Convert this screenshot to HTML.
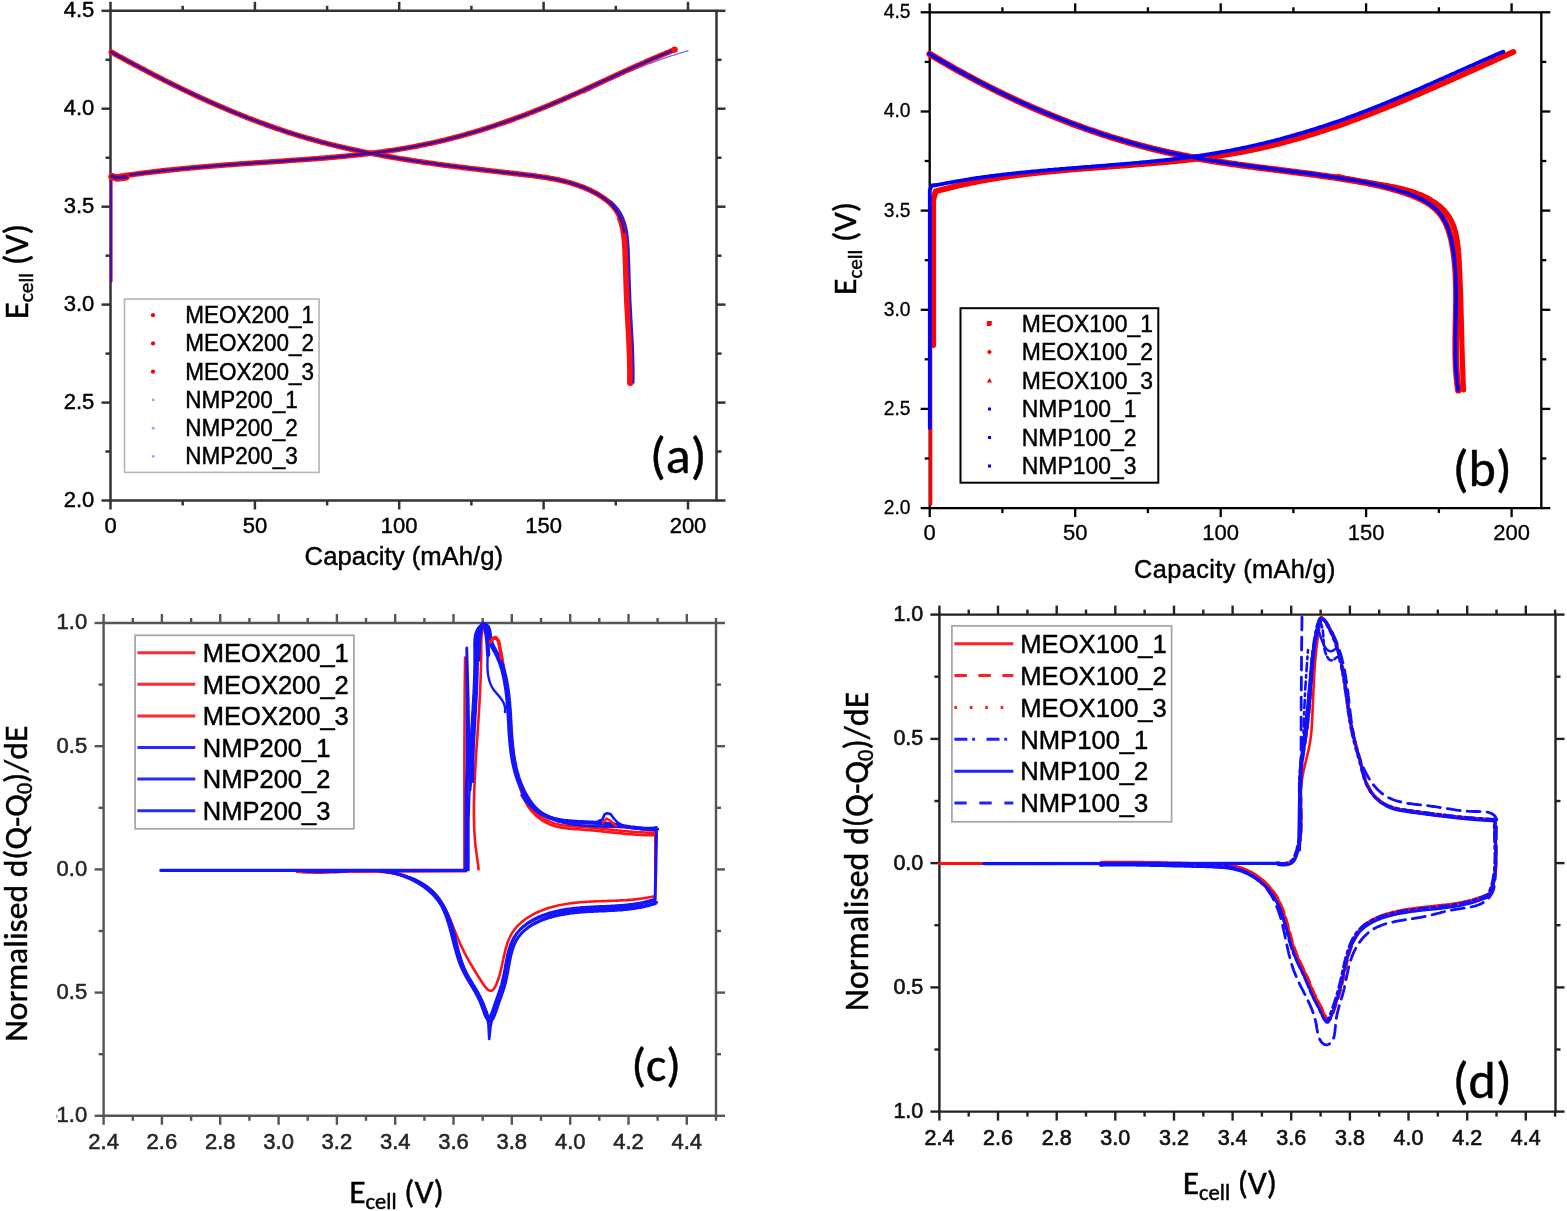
<!DOCTYPE html>
<html><head><meta charset="utf-8"><title>Figure</title>
<style>html,body{margin:0;padding:0;background:#fff;width:1567px;height:1211px;overflow:hidden}svg{display:block}</style>
</head><body>
<svg width="1567" height="1211" viewBox="0 0 1567 1211">
<path d="M110.5 10.8H716.5V500.5H110.5Z" fill="none" stroke="#333" stroke-width="2.5" stroke-linejoin="miter"/>
<line x1="110.5" y1="500.5" x2="110.5" y2="509.5" stroke="#333" stroke-width="2.5" stroke-linecap="butt"/>
<line x1="110.5" y1="10.8" x2="110.5" y2="1.8" stroke="#333" stroke-width="2.5" stroke-linecap="butt"/>
<line x1="254.9" y1="500.5" x2="254.9" y2="509.5" stroke="#333" stroke-width="2.5" stroke-linecap="butt"/>
<line x1="254.9" y1="10.8" x2="254.9" y2="1.8" stroke="#333" stroke-width="2.5" stroke-linecap="butt"/>
<line x1="399.2" y1="500.5" x2="399.2" y2="509.5" stroke="#333" stroke-width="2.5" stroke-linecap="butt"/>
<line x1="399.2" y1="10.8" x2="399.2" y2="1.8" stroke="#333" stroke-width="2.5" stroke-linecap="butt"/>
<line x1="543.6" y1="500.5" x2="543.6" y2="509.5" stroke="#333" stroke-width="2.5" stroke-linecap="butt"/>
<line x1="543.6" y1="10.8" x2="543.6" y2="1.8" stroke="#333" stroke-width="2.5" stroke-linecap="butt"/>
<line x1="688" y1="500.5" x2="688" y2="509.5" stroke="#333" stroke-width="2.5" stroke-linecap="butt"/>
<line x1="688" y1="10.8" x2="688" y2="1.8" stroke="#333" stroke-width="2.5" stroke-linecap="butt"/>
<line x1="182.7" y1="500.5" x2="182.7" y2="505.5" stroke="#333" stroke-width="2.5" stroke-linecap="butt"/>
<line x1="182.7" y1="10.8" x2="182.7" y2="5.8" stroke="#333" stroke-width="2.5" stroke-linecap="butt"/>
<line x1="327.1" y1="500.5" x2="327.1" y2="505.5" stroke="#333" stroke-width="2.5" stroke-linecap="butt"/>
<line x1="327.1" y1="10.8" x2="327.1" y2="5.8" stroke="#333" stroke-width="2.5" stroke-linecap="butt"/>
<line x1="471.4" y1="500.5" x2="471.4" y2="505.5" stroke="#333" stroke-width="2.5" stroke-linecap="butt"/>
<line x1="471.4" y1="10.8" x2="471.4" y2="5.8" stroke="#333" stroke-width="2.5" stroke-linecap="butt"/>
<line x1="615.8" y1="500.5" x2="615.8" y2="505.5" stroke="#333" stroke-width="2.5" stroke-linecap="butt"/>
<line x1="615.8" y1="10.8" x2="615.8" y2="5.8" stroke="#333" stroke-width="2.5" stroke-linecap="butt"/>
<line x1="110.5" y1="500.5" x2="101.5" y2="500.5" stroke="#333" stroke-width="2.5" stroke-linecap="butt"/>
<line x1="716.5" y1="500.5" x2="725.5" y2="500.5" stroke="#333" stroke-width="2.5" stroke-linecap="butt"/>
<line x1="110.5" y1="402.6" x2="101.5" y2="402.6" stroke="#333" stroke-width="2.5" stroke-linecap="butt"/>
<line x1="716.5" y1="402.6" x2="725.5" y2="402.6" stroke="#333" stroke-width="2.5" stroke-linecap="butt"/>
<line x1="110.5" y1="304.6" x2="101.5" y2="304.6" stroke="#333" stroke-width="2.5" stroke-linecap="butt"/>
<line x1="716.5" y1="304.6" x2="725.5" y2="304.6" stroke="#333" stroke-width="2.5" stroke-linecap="butt"/>
<line x1="110.5" y1="206.7" x2="101.5" y2="206.7" stroke="#333" stroke-width="2.5" stroke-linecap="butt"/>
<line x1="716.5" y1="206.7" x2="725.5" y2="206.7" stroke="#333" stroke-width="2.5" stroke-linecap="butt"/>
<line x1="110.5" y1="108.7" x2="101.5" y2="108.7" stroke="#333" stroke-width="2.5" stroke-linecap="butt"/>
<line x1="716.5" y1="108.7" x2="725.5" y2="108.7" stroke="#333" stroke-width="2.5" stroke-linecap="butt"/>
<line x1="110.5" y1="10.8" x2="101.5" y2="10.8" stroke="#333" stroke-width="2.5" stroke-linecap="butt"/>
<line x1="716.5" y1="10.8" x2="725.5" y2="10.8" stroke="#333" stroke-width="2.5" stroke-linecap="butt"/>
<line x1="110.5" y1="451.5" x2="105.5" y2="451.5" stroke="#333" stroke-width="2.5" stroke-linecap="butt"/>
<line x1="716.5" y1="451.5" x2="721.5" y2="451.5" stroke="#333" stroke-width="2.5" stroke-linecap="butt"/>
<line x1="110.5" y1="353.6" x2="105.5" y2="353.6" stroke="#333" stroke-width="2.5" stroke-linecap="butt"/>
<line x1="716.5" y1="353.6" x2="721.5" y2="353.6" stroke="#333" stroke-width="2.5" stroke-linecap="butt"/>
<line x1="110.5" y1="255.7" x2="105.5" y2="255.7" stroke="#333" stroke-width="2.5" stroke-linecap="butt"/>
<line x1="716.5" y1="255.7" x2="721.5" y2="255.7" stroke="#333" stroke-width="2.5" stroke-linecap="butt"/>
<line x1="110.5" y1="157.7" x2="105.5" y2="157.7" stroke="#333" stroke-width="2.5" stroke-linecap="butt"/>
<line x1="716.5" y1="157.7" x2="721.5" y2="157.7" stroke="#333" stroke-width="2.5" stroke-linecap="butt"/>
<line x1="110.5" y1="59.8" x2="105.5" y2="59.8" stroke="#333" stroke-width="2.5" stroke-linecap="butt"/>
<line x1="716.5" y1="59.8" x2="721.5" y2="59.8" stroke="#333" stroke-width="2.5" stroke-linecap="butt"/>
<text x="94.3" y="507.1" font-size="22" text-anchor="end" font-family='"Liberation Sans", Arial, sans-serif' fill="#000"  stroke="#000" stroke-width="0.45">2.0</text>
<text x="94.3" y="409.2" font-size="22" text-anchor="end" font-family='"Liberation Sans", Arial, sans-serif' fill="#000"  stroke="#000" stroke-width="0.45">2.5</text>
<text x="94.3" y="311.2" font-size="22" text-anchor="end" font-family='"Liberation Sans", Arial, sans-serif' fill="#000"  stroke="#000" stroke-width="0.45">3.0</text>
<text x="94.3" y="213.3" font-size="22" text-anchor="end" font-family='"Liberation Sans", Arial, sans-serif' fill="#000"  stroke="#000" stroke-width="0.45">3.5</text>
<text x="94.3" y="115.3" font-size="22" text-anchor="end" font-family='"Liberation Sans", Arial, sans-serif' fill="#000"  stroke="#000" stroke-width="0.45">4.0</text>
<text x="94.3" y="17.4" font-size="22" text-anchor="end" font-family='"Liberation Sans", Arial, sans-serif' fill="#000"  stroke="#000" stroke-width="0.45">4.5</text>
<text x="110.5" y="533" font-size="22" text-anchor="middle" font-family='"Liberation Sans", Arial, sans-serif' fill="#000"  stroke="#000" stroke-width="0.45">0</text>
<text x="254.9" y="533" font-size="22" text-anchor="middle" font-family='"Liberation Sans", Arial, sans-serif' fill="#000"  stroke="#000" stroke-width="0.45">50</text>
<text x="399.2" y="533" font-size="22" text-anchor="middle" font-family='"Liberation Sans", Arial, sans-serif' fill="#000"  stroke="#000" stroke-width="0.45">100</text>
<text x="543.6" y="533" font-size="22" text-anchor="middle" font-family='"Liberation Sans", Arial, sans-serif' fill="#000"  stroke="#000" stroke-width="0.45">150</text>
<text x="688" y="533" font-size="22" text-anchor="middle" font-family='"Liberation Sans", Arial, sans-serif' fill="#000"  stroke="#000" stroke-width="0.45">200</text>
<text x="403.8" y="564.6" font-size="25.7" text-anchor="middle" font-family='"Liberation Sans", Arial, sans-serif' fill="#000"  stroke="#000" stroke-width="0.45">Capacity (mAh/g)</text>
<text x="0" y="0" font-size="33.8" text-anchor="start" font-family='Carlito, Calibri, "Liberation Sans", sans-serif' fill="#000" transform="translate(27.8 319.2) rotate(-90)" textLength="95.3" lengthAdjust="spacingAndGlyphs" stroke="#000" stroke-width="0.45">E<tspan font-size="20.6" dy="5.4">cell</tspan><tspan dy="-5.4"> (V)</tspan></text>
<rect x="124.5" y="299.1" width="194.6" height="173.3" fill="#fff" stroke="#b4b4b4" stroke-width="1.6"/>
<text x="185.3" y="323" font-size="23.6" text-anchor="start" font-family='"Liberation Sans", Arial, sans-serif' fill="#000" textLength="128.8" lengthAdjust="spacingAndGlyphs" stroke="#000" stroke-width="0.45">MEOX200_1</text>
<circle cx="153" cy="315.2" r="2.1" fill="#ff0000"/>
<text x="185.3" y="351.2" font-size="23.6" text-anchor="start" font-family='"Liberation Sans", Arial, sans-serif' fill="#000" textLength="128.8" lengthAdjust="spacingAndGlyphs" stroke="#000" stroke-width="0.45">MEOX200_2</text>
<circle cx="153" cy="343.4" r="2.1" fill="#ff0000"/>
<text x="185.3" y="379.5" font-size="23.6" text-anchor="start" font-family='"Liberation Sans", Arial, sans-serif' fill="#000" textLength="128.8" lengthAdjust="spacingAndGlyphs" stroke="#000" stroke-width="0.45">MEOX200_3</text>
<circle cx="153" cy="371.7" r="2.1" fill="#ff0000"/>
<text x="185.3" y="407.7" font-size="23.6" text-anchor="start" font-family='"Liberation Sans", Arial, sans-serif' fill="#000" textLength="112.5" lengthAdjust="spacingAndGlyphs" stroke="#000" stroke-width="0.45">NMP200_1</text>
<circle cx="153.2" cy="399.9" r="1.4" fill="#9a9aff"/>
<text x="185.3" y="436" font-size="23.6" text-anchor="start" font-family='"Liberation Sans", Arial, sans-serif' fill="#000" textLength="112.5" lengthAdjust="spacingAndGlyphs" stroke="#000" stroke-width="0.45">NMP200_2</text>
<circle cx="153.2" cy="428.2" r="1.4" fill="#9a9aff"/>
<text x="185.3" y="464.2" font-size="23.6" text-anchor="start" font-family='"Liberation Sans", Arial, sans-serif' fill="#000" textLength="112.5" lengthAdjust="spacingAndGlyphs" stroke="#000" stroke-width="0.45">NMP200_3</text>
<circle cx="153.2" cy="456.4" r="1.4" fill="#9a9aff"/>
<text x="650" y="472.6" font-size="52" text-anchor="start" font-family='Carlito, Calibri, "Liberation Sans", sans-serif' fill="#000" textLength="56.45" lengthAdjust="spacingAndGlyphs" stroke="#000" stroke-width="0.45">(a)</text>
<path d="M929.7 12.3H1541.3V508.1H929.7Z" fill="none" stroke="#000" stroke-width="2.3" stroke-linejoin="miter"/>
<line x1="929.7" y1="508.1" x2="929.7" y2="517.1" stroke="#000" stroke-width="2.3" stroke-linecap="butt"/>
<line x1="929.7" y1="12.3" x2="929.7" y2="3.3" stroke="#000" stroke-width="2.3" stroke-linecap="butt"/>
<line x1="1075.2" y1="508.1" x2="1075.2" y2="517.1" stroke="#000" stroke-width="2.3" stroke-linecap="butt"/>
<line x1="1075.2" y1="12.3" x2="1075.2" y2="3.3" stroke="#000" stroke-width="2.3" stroke-linecap="butt"/>
<line x1="1220.7" y1="508.1" x2="1220.7" y2="517.1" stroke="#000" stroke-width="2.3" stroke-linecap="butt"/>
<line x1="1220.7" y1="12.3" x2="1220.7" y2="3.3" stroke="#000" stroke-width="2.3" stroke-linecap="butt"/>
<line x1="1366.1" y1="508.1" x2="1366.1" y2="517.1" stroke="#000" stroke-width="2.3" stroke-linecap="butt"/>
<line x1="1366.1" y1="12.3" x2="1366.1" y2="3.3" stroke="#000" stroke-width="2.3" stroke-linecap="butt"/>
<line x1="1511.6" y1="508.1" x2="1511.6" y2="517.1" stroke="#000" stroke-width="2.3" stroke-linecap="butt"/>
<line x1="1511.6" y1="12.3" x2="1511.6" y2="3.3" stroke="#000" stroke-width="2.3" stroke-linecap="butt"/>
<line x1="1002.4" y1="508.1" x2="1002.4" y2="513.1" stroke="#000" stroke-width="2.3" stroke-linecap="butt"/>
<line x1="1002.4" y1="12.3" x2="1002.4" y2="7.3" stroke="#000" stroke-width="2.3" stroke-linecap="butt"/>
<line x1="1147.9" y1="508.1" x2="1147.9" y2="513.1" stroke="#000" stroke-width="2.3" stroke-linecap="butt"/>
<line x1="1147.9" y1="12.3" x2="1147.9" y2="7.3" stroke="#000" stroke-width="2.3" stroke-linecap="butt"/>
<line x1="1293.4" y1="508.1" x2="1293.4" y2="513.1" stroke="#000" stroke-width="2.3" stroke-linecap="butt"/>
<line x1="1293.4" y1="12.3" x2="1293.4" y2="7.3" stroke="#000" stroke-width="2.3" stroke-linecap="butt"/>
<line x1="1438.9" y1="508.1" x2="1438.9" y2="513.1" stroke="#000" stroke-width="2.3" stroke-linecap="butt"/>
<line x1="1438.9" y1="12.3" x2="1438.9" y2="7.3" stroke="#000" stroke-width="2.3" stroke-linecap="butt"/>
<line x1="929.7" y1="508.1" x2="920.7" y2="508.1" stroke="#000" stroke-width="2.3" stroke-linecap="butt"/>
<line x1="1541.3" y1="508.1" x2="1550.3" y2="508.1" stroke="#000" stroke-width="2.3" stroke-linecap="butt"/>
<line x1="929.7" y1="408.9" x2="920.7" y2="408.9" stroke="#000" stroke-width="2.3" stroke-linecap="butt"/>
<line x1="1541.3" y1="408.9" x2="1550.3" y2="408.9" stroke="#000" stroke-width="2.3" stroke-linecap="butt"/>
<line x1="929.7" y1="309.8" x2="920.7" y2="309.8" stroke="#000" stroke-width="2.3" stroke-linecap="butt"/>
<line x1="1541.3" y1="309.8" x2="1550.3" y2="309.8" stroke="#000" stroke-width="2.3" stroke-linecap="butt"/>
<line x1="929.7" y1="210.6" x2="920.7" y2="210.6" stroke="#000" stroke-width="2.3" stroke-linecap="butt"/>
<line x1="1541.3" y1="210.6" x2="1550.3" y2="210.6" stroke="#000" stroke-width="2.3" stroke-linecap="butt"/>
<line x1="929.7" y1="111.5" x2="920.7" y2="111.5" stroke="#000" stroke-width="2.3" stroke-linecap="butt"/>
<line x1="1541.3" y1="111.5" x2="1550.3" y2="111.5" stroke="#000" stroke-width="2.3" stroke-linecap="butt"/>
<line x1="929.7" y1="12.3" x2="920.7" y2="12.3" stroke="#000" stroke-width="2.3" stroke-linecap="butt"/>
<line x1="1541.3" y1="12.3" x2="1550.3" y2="12.3" stroke="#000" stroke-width="2.3" stroke-linecap="butt"/>
<line x1="929.7" y1="458.5" x2="924.7" y2="458.5" stroke="#000" stroke-width="2.3" stroke-linecap="butt"/>
<line x1="1541.3" y1="458.5" x2="1546.3" y2="458.5" stroke="#000" stroke-width="2.3" stroke-linecap="butt"/>
<line x1="929.7" y1="359.3" x2="924.7" y2="359.3" stroke="#000" stroke-width="2.3" stroke-linecap="butt"/>
<line x1="1541.3" y1="359.3" x2="1546.3" y2="359.3" stroke="#000" stroke-width="2.3" stroke-linecap="butt"/>
<line x1="929.7" y1="260.2" x2="924.7" y2="260.2" stroke="#000" stroke-width="2.3" stroke-linecap="butt"/>
<line x1="1541.3" y1="260.2" x2="1546.3" y2="260.2" stroke="#000" stroke-width="2.3" stroke-linecap="butt"/>
<line x1="929.7" y1="161" x2="924.7" y2="161" stroke="#000" stroke-width="2.3" stroke-linecap="butt"/>
<line x1="1541.3" y1="161" x2="1546.3" y2="161" stroke="#000" stroke-width="2.3" stroke-linecap="butt"/>
<line x1="929.7" y1="61.9" x2="924.7" y2="61.9" stroke="#000" stroke-width="2.3" stroke-linecap="butt"/>
<line x1="1541.3" y1="61.9" x2="1546.3" y2="61.9" stroke="#000" stroke-width="2.3" stroke-linecap="butt"/>
<text x="910.6" y="514" font-size="21" text-anchor="end" font-family='"Liberation Sans", Arial, sans-serif' fill="#000" textLength="26.8" lengthAdjust="spacingAndGlyphs" stroke="#000" stroke-width="0.3">2.0</text>
<text x="910.6" y="414.8" font-size="21" text-anchor="end" font-family='"Liberation Sans", Arial, sans-serif' fill="#000" textLength="26.8" lengthAdjust="spacingAndGlyphs" stroke="#000" stroke-width="0.3">2.5</text>
<text x="910.6" y="315.7" font-size="21" text-anchor="end" font-family='"Liberation Sans", Arial, sans-serif' fill="#000" textLength="26.8" lengthAdjust="spacingAndGlyphs" stroke="#000" stroke-width="0.3">3.0</text>
<text x="910.6" y="216.5" font-size="21" text-anchor="end" font-family='"Liberation Sans", Arial, sans-serif' fill="#000" textLength="26.8" lengthAdjust="spacingAndGlyphs" stroke="#000" stroke-width="0.3">3.5</text>
<text x="910.6" y="117.4" font-size="21" text-anchor="end" font-family='"Liberation Sans", Arial, sans-serif' fill="#000" textLength="26.8" lengthAdjust="spacingAndGlyphs" stroke="#000" stroke-width="0.3">4.0</text>
<text x="910.6" y="18.2" font-size="21" text-anchor="end" font-family='"Liberation Sans", Arial, sans-serif' fill="#000" textLength="26.8" lengthAdjust="spacingAndGlyphs" stroke="#000" stroke-width="0.3">4.5</text>
<text x="929.7" y="540" font-size="22" text-anchor="middle" font-family='"Liberation Sans", Arial, sans-serif' fill="#000"  stroke="#000" stroke-width="0.3">0</text>
<text x="1075.2" y="540" font-size="22" text-anchor="middle" font-family='"Liberation Sans", Arial, sans-serif' fill="#000"  stroke="#000" stroke-width="0.3">50</text>
<text x="1220.7" y="540" font-size="22" text-anchor="middle" font-family='"Liberation Sans", Arial, sans-serif' fill="#000"  stroke="#000" stroke-width="0.3">100</text>
<text x="1366.1" y="540" font-size="22" text-anchor="middle" font-family='"Liberation Sans", Arial, sans-serif' fill="#000"  stroke="#000" stroke-width="0.3">150</text>
<text x="1511.6" y="540" font-size="22" text-anchor="middle" font-family='"Liberation Sans", Arial, sans-serif' fill="#000"  stroke="#000" stroke-width="0.3">200</text>
<text x="1235" y="578" font-size="25.3" text-anchor="middle" font-family='"Liberation Sans", Arial, sans-serif' fill="#000" letter-spacing="0.4" stroke="#000" stroke-width="0.45">Capacity (mAh/g)</text>
<text x="0" y="0" font-size="33" text-anchor="start" font-family='Carlito, Calibri, "Liberation Sans", sans-serif' fill="#000" transform="translate(856.4 295.2) rotate(-90)" textLength="93.2" lengthAdjust="spacingAndGlyphs" stroke="#000" stroke-width="0.45">E<tspan font-size="20.4" dy="5.4">cell</tspan><tspan dy="-5.4"> (V)</tspan></text>
<rect x="960.5" y="308.2" width="197.8" height="174.5" fill="#fff" stroke="#000" stroke-width="2"/>
<text x="1021.8" y="331.9" font-size="24" text-anchor="start" font-family='"Liberation Sans", Arial, sans-serif' fill="#000" textLength="131.2" lengthAdjust="spacingAndGlyphs" stroke="#000" stroke-width="0.45">MEOX100_1</text>
<path d="M986.8 321h5v3.2l-1.2 1.8h-3.8z" fill="#ff0000"/>
<text x="1021.8" y="360.4" font-size="24" text-anchor="start" font-family='"Liberation Sans", Arial, sans-serif' fill="#000" textLength="131.2" lengthAdjust="spacingAndGlyphs" stroke="#000" stroke-width="0.45">MEOX100_2</text>
<path d="M989.4 349.4l2.6 2.6l-2.6 2.6l-2.6 -2.6z" fill="#ff0000"/>
<text x="1021.8" y="388.9" font-size="24" text-anchor="start" font-family='"Liberation Sans", Arial, sans-serif' fill="#000" textLength="131.2" lengthAdjust="spacingAndGlyphs" stroke="#000" stroke-width="0.45">MEOX100_3</text>
<path d="M989.4 377.9l2.6 4.6h-5.2z" fill="#ff0000"/>
<text x="1021.8" y="417.4" font-size="24" text-anchor="start" font-family='"Liberation Sans", Arial, sans-serif' fill="#000" textLength="114.6" lengthAdjust="spacingAndGlyphs" stroke="#000" stroke-width="0.45">NMP100_1</text>
<rect x="988" y="407.5" width="3" height="3" fill="#0000ff"/>
<text x="1021.8" y="445.9" font-size="24" text-anchor="start" font-family='"Liberation Sans", Arial, sans-serif' fill="#000" textLength="114.6" lengthAdjust="spacingAndGlyphs" stroke="#000" stroke-width="0.45">NMP100_2</text>
<rect x="988" y="436" width="3" height="3" fill="#0000ff"/>
<text x="1021.8" y="474.4" font-size="24" text-anchor="start" font-family='"Liberation Sans", Arial, sans-serif' fill="#000" textLength="114.6" lengthAdjust="spacingAndGlyphs" stroke="#000" stroke-width="0.45">NMP100_3</text>
<rect x="988" y="464.5" width="3" height="3" fill="#0000ff"/>
<text x="1452.8" y="486.2" font-size="52" text-anchor="start" font-family='Carlito, Calibri, "Liberation Sans", sans-serif' fill="#000" textLength="58.86" lengthAdjust="spacingAndGlyphs" stroke="#000" stroke-width="0.45">(b)</text>
<path d="M103.6 623H716V1115.8H103.6Z" fill="none" stroke="#555" stroke-width="2.4" stroke-linejoin="miter"/>
<line x1="103.6" y1="1115.8" x2="103.6" y2="1124.8" stroke="#555" stroke-width="2.4" stroke-linecap="butt"/>
<line x1="103.6" y1="623" x2="103.6" y2="614" stroke="#555" stroke-width="2.4" stroke-linecap="butt"/>
<line x1="161.9" y1="1115.8" x2="161.9" y2="1124.8" stroke="#555" stroke-width="2.4" stroke-linecap="butt"/>
<line x1="161.9" y1="623" x2="161.9" y2="614" stroke="#555" stroke-width="2.4" stroke-linecap="butt"/>
<line x1="220.2" y1="1115.8" x2="220.2" y2="1124.8" stroke="#555" stroke-width="2.4" stroke-linecap="butt"/>
<line x1="220.2" y1="623" x2="220.2" y2="614" stroke="#555" stroke-width="2.4" stroke-linecap="butt"/>
<line x1="278.6" y1="1115.8" x2="278.6" y2="1124.8" stroke="#555" stroke-width="2.4" stroke-linecap="butt"/>
<line x1="278.6" y1="623" x2="278.6" y2="614" stroke="#555" stroke-width="2.4" stroke-linecap="butt"/>
<line x1="336.9" y1="1115.8" x2="336.9" y2="1124.8" stroke="#555" stroke-width="2.4" stroke-linecap="butt"/>
<line x1="336.9" y1="623" x2="336.9" y2="614" stroke="#555" stroke-width="2.4" stroke-linecap="butt"/>
<line x1="395.2" y1="1115.8" x2="395.2" y2="1124.8" stroke="#555" stroke-width="2.4" stroke-linecap="butt"/>
<line x1="395.2" y1="623" x2="395.2" y2="614" stroke="#555" stroke-width="2.4" stroke-linecap="butt"/>
<line x1="453.5" y1="1115.8" x2="453.5" y2="1124.8" stroke="#555" stroke-width="2.4" stroke-linecap="butt"/>
<line x1="453.5" y1="623" x2="453.5" y2="614" stroke="#555" stroke-width="2.4" stroke-linecap="butt"/>
<line x1="511.8" y1="1115.8" x2="511.8" y2="1124.8" stroke="#555" stroke-width="2.4" stroke-linecap="butt"/>
<line x1="511.8" y1="623" x2="511.8" y2="614" stroke="#555" stroke-width="2.4" stroke-linecap="butt"/>
<line x1="570.2" y1="1115.8" x2="570.2" y2="1124.8" stroke="#555" stroke-width="2.4" stroke-linecap="butt"/>
<line x1="570.2" y1="623" x2="570.2" y2="614" stroke="#555" stroke-width="2.4" stroke-linecap="butt"/>
<line x1="628.5" y1="1115.8" x2="628.5" y2="1124.8" stroke="#555" stroke-width="2.4" stroke-linecap="butt"/>
<line x1="628.5" y1="623" x2="628.5" y2="614" stroke="#555" stroke-width="2.4" stroke-linecap="butt"/>
<line x1="686.8" y1="1115.8" x2="686.8" y2="1124.8" stroke="#555" stroke-width="2.4" stroke-linecap="butt"/>
<line x1="686.8" y1="623" x2="686.8" y2="614" stroke="#555" stroke-width="2.4" stroke-linecap="butt"/>
<line x1="132.8" y1="1115.8" x2="132.8" y2="1120.8" stroke="#555" stroke-width="2.4" stroke-linecap="butt"/>
<line x1="132.8" y1="623" x2="132.8" y2="618" stroke="#555" stroke-width="2.4" stroke-linecap="butt"/>
<line x1="191.1" y1="1115.8" x2="191.1" y2="1120.8" stroke="#555" stroke-width="2.4" stroke-linecap="butt"/>
<line x1="191.1" y1="623" x2="191.1" y2="618" stroke="#555" stroke-width="2.4" stroke-linecap="butt"/>
<line x1="249.4" y1="1115.8" x2="249.4" y2="1120.8" stroke="#555" stroke-width="2.4" stroke-linecap="butt"/>
<line x1="249.4" y1="623" x2="249.4" y2="618" stroke="#555" stroke-width="2.4" stroke-linecap="butt"/>
<line x1="307.7" y1="1115.8" x2="307.7" y2="1120.8" stroke="#555" stroke-width="2.4" stroke-linecap="butt"/>
<line x1="307.7" y1="623" x2="307.7" y2="618" stroke="#555" stroke-width="2.4" stroke-linecap="butt"/>
<line x1="366" y1="1115.8" x2="366" y2="1120.8" stroke="#555" stroke-width="2.4" stroke-linecap="butt"/>
<line x1="366" y1="623" x2="366" y2="618" stroke="#555" stroke-width="2.4" stroke-linecap="butt"/>
<line x1="424.4" y1="1115.8" x2="424.4" y2="1120.8" stroke="#555" stroke-width="2.4" stroke-linecap="butt"/>
<line x1="424.4" y1="623" x2="424.4" y2="618" stroke="#555" stroke-width="2.4" stroke-linecap="butt"/>
<line x1="482.7" y1="1115.8" x2="482.7" y2="1120.8" stroke="#555" stroke-width="2.4" stroke-linecap="butt"/>
<line x1="482.7" y1="623" x2="482.7" y2="618" stroke="#555" stroke-width="2.4" stroke-linecap="butt"/>
<line x1="541" y1="1115.8" x2="541" y2="1120.8" stroke="#555" stroke-width="2.4" stroke-linecap="butt"/>
<line x1="541" y1="623" x2="541" y2="618" stroke="#555" stroke-width="2.4" stroke-linecap="butt"/>
<line x1="599.3" y1="1115.8" x2="599.3" y2="1120.8" stroke="#555" stroke-width="2.4" stroke-linecap="butt"/>
<line x1="599.3" y1="623" x2="599.3" y2="618" stroke="#555" stroke-width="2.4" stroke-linecap="butt"/>
<line x1="657.6" y1="1115.8" x2="657.6" y2="1120.8" stroke="#555" stroke-width="2.4" stroke-linecap="butt"/>
<line x1="657.6" y1="623" x2="657.6" y2="618" stroke="#555" stroke-width="2.4" stroke-linecap="butt"/>
<line x1="716" y1="1115.8" x2="716" y2="1120.8" stroke="#555" stroke-width="2.4" stroke-linecap="butt"/>
<line x1="716" y1="623" x2="716" y2="618" stroke="#555" stroke-width="2.4" stroke-linecap="butt"/>
<line x1="103.6" y1="623" x2="94.6" y2="623" stroke="#555" stroke-width="2.4" stroke-linecap="butt"/>
<line x1="716" y1="623" x2="725" y2="623" stroke="#555" stroke-width="2.4" stroke-linecap="butt"/>
<line x1="103.6" y1="746.2" x2="94.6" y2="746.2" stroke="#555" stroke-width="2.4" stroke-linecap="butt"/>
<line x1="716" y1="746.2" x2="725" y2="746.2" stroke="#555" stroke-width="2.4" stroke-linecap="butt"/>
<line x1="103.6" y1="869.4" x2="94.6" y2="869.4" stroke="#555" stroke-width="2.4" stroke-linecap="butt"/>
<line x1="716" y1="869.4" x2="725" y2="869.4" stroke="#555" stroke-width="2.4" stroke-linecap="butt"/>
<line x1="103.6" y1="992.6" x2="94.6" y2="992.6" stroke="#555" stroke-width="2.4" stroke-linecap="butt"/>
<line x1="716" y1="992.6" x2="725" y2="992.6" stroke="#555" stroke-width="2.4" stroke-linecap="butt"/>
<line x1="103.6" y1="1115.8" x2="94.6" y2="1115.8" stroke="#555" stroke-width="2.4" stroke-linecap="butt"/>
<line x1="716" y1="1115.8" x2="725" y2="1115.8" stroke="#555" stroke-width="2.4" stroke-linecap="butt"/>
<line x1="103.6" y1="684.6" x2="98.6" y2="684.6" stroke="#555" stroke-width="2.4" stroke-linecap="butt"/>
<line x1="716" y1="684.6" x2="721" y2="684.6" stroke="#555" stroke-width="2.4" stroke-linecap="butt"/>
<line x1="103.6" y1="807.8" x2="98.6" y2="807.8" stroke="#555" stroke-width="2.4" stroke-linecap="butt"/>
<line x1="716" y1="807.8" x2="721" y2="807.8" stroke="#555" stroke-width="2.4" stroke-linecap="butt"/>
<line x1="103.6" y1="931" x2="98.6" y2="931" stroke="#555" stroke-width="2.4" stroke-linecap="butt"/>
<line x1="716" y1="931" x2="721" y2="931" stroke="#555" stroke-width="2.4" stroke-linecap="butt"/>
<line x1="103.6" y1="1054.2" x2="98.6" y2="1054.2" stroke="#555" stroke-width="2.4" stroke-linecap="butt"/>
<line x1="716" y1="1054.2" x2="721" y2="1054.2" stroke="#555" stroke-width="2.4" stroke-linecap="butt"/>
<rect x="56.3" y="1114.6" width="1.3" height="3.4" fill="#8a9ab8"/>
<text x="87.2" y="629.4" font-size="22" text-anchor="end" font-family='"Liberation Sans", Arial, sans-serif' fill="#262626"  stroke="#262626" stroke-width="0.55">1.0</text>
<text x="87.2" y="752.6" font-size="22" text-anchor="end" font-family='"Liberation Sans", Arial, sans-serif' fill="#262626"  stroke="#262626" stroke-width="0.55">0.5</text>
<text x="87.2" y="875.8" font-size="22" text-anchor="end" font-family='"Liberation Sans", Arial, sans-serif' fill="#262626"  stroke="#262626" stroke-width="0.55">0.0</text>
<text x="87.2" y="999" font-size="22" text-anchor="end" font-family='"Liberation Sans", Arial, sans-serif' fill="#262626"  stroke="#262626" stroke-width="0.55">0.5</text>
<text x="87.2" y="1122.2" font-size="22" text-anchor="end" font-family='"Liberation Sans", Arial, sans-serif' fill="#262626"  stroke="#262626" stroke-width="0.55">1.0</text>
<text x="103.6" y="1149.2" font-size="22" text-anchor="middle" font-family='"Liberation Sans", Arial, sans-serif' fill="#262626"  stroke="#262626" stroke-width="0.55">2.4</text>
<text x="161.9" y="1149.2" font-size="22" text-anchor="middle" font-family='"Liberation Sans", Arial, sans-serif' fill="#262626"  stroke="#262626" stroke-width="0.55">2.6</text>
<text x="220.2" y="1149.2" font-size="22" text-anchor="middle" font-family='"Liberation Sans", Arial, sans-serif' fill="#262626"  stroke="#262626" stroke-width="0.55">2.8</text>
<text x="278.6" y="1149.2" font-size="22" text-anchor="middle" font-family='"Liberation Sans", Arial, sans-serif' fill="#262626"  stroke="#262626" stroke-width="0.55">3.0</text>
<text x="336.9" y="1149.2" font-size="22" text-anchor="middle" font-family='"Liberation Sans", Arial, sans-serif' fill="#262626"  stroke="#262626" stroke-width="0.55">3.2</text>
<text x="395.2" y="1149.2" font-size="22" text-anchor="middle" font-family='"Liberation Sans", Arial, sans-serif' fill="#262626"  stroke="#262626" stroke-width="0.55">3.4</text>
<text x="453.5" y="1149.2" font-size="22" text-anchor="middle" font-family='"Liberation Sans", Arial, sans-serif' fill="#262626"  stroke="#262626" stroke-width="0.55">3.6</text>
<text x="511.8" y="1149.2" font-size="22" text-anchor="middle" font-family='"Liberation Sans", Arial, sans-serif' fill="#262626"  stroke="#262626" stroke-width="0.55">3.8</text>
<text x="570.2" y="1149.2" font-size="22" text-anchor="middle" font-family='"Liberation Sans", Arial, sans-serif' fill="#262626"  stroke="#262626" stroke-width="0.55">4.0</text>
<text x="628.5" y="1149.2" font-size="22" text-anchor="middle" font-family='"Liberation Sans", Arial, sans-serif' fill="#262626"  stroke="#262626" stroke-width="0.55">4.2</text>
<text x="686.8" y="1149.2" font-size="22" text-anchor="middle" font-family='"Liberation Sans", Arial, sans-serif' fill="#262626"  stroke="#262626" stroke-width="0.55">4.4</text>
<text x="0" y="0" font-size="33.6" text-anchor="start" font-family='Carlito, Calibri, "Liberation Sans", sans-serif' fill="#000" transform="translate(27.2 1041.8) rotate(-90)" textLength="316.1" lengthAdjust="spacingAndGlyphs" stroke="#000" stroke-width="0.45">Normalised d(Q-Q<tspan font-size="22" dy="5">0</tspan><tspan dy="-5">)/dE</tspan></text>
<text x="349.2" y="1203.4" font-size="33.6" text-anchor="start" font-family='Carlito, Calibri, "Liberation Sans", sans-serif' fill="#000" textLength="94.47" lengthAdjust="spacingAndGlyphs" stroke="#000" stroke-width="0.45">E<tspan font-size="22.5" dy="5.5">cell</tspan><tspan dy="-5.5"> (V)</tspan></text>
<text x="631.5" y="1080.8" font-size="48" text-anchor="start" font-family='Carlito, Calibri, "Liberation Sans", sans-serif' fill="#000" textLength="49.41" lengthAdjust="spacingAndGlyphs" stroke="#000" stroke-width="0.45">(c)</text>
<path d="M939.4 614.6H1555.5V1111.6H939.4Z" fill="none" stroke="#222" stroke-width="2.4" stroke-linejoin="miter"/>
<line x1="939.4" y1="1111.6" x2="939.4" y2="1120.6" stroke="#222" stroke-width="2.4" stroke-linecap="butt"/>
<line x1="939.4" y1="614.6" x2="939.4" y2="605.6" stroke="#222" stroke-width="2.4" stroke-linecap="butt"/>
<line x1="998" y1="1111.6" x2="998" y2="1120.6" stroke="#222" stroke-width="2.4" stroke-linecap="butt"/>
<line x1="998" y1="614.6" x2="998" y2="605.6" stroke="#222" stroke-width="2.4" stroke-linecap="butt"/>
<line x1="1056.7" y1="1111.6" x2="1056.7" y2="1120.6" stroke="#222" stroke-width="2.4" stroke-linecap="butt"/>
<line x1="1056.7" y1="614.6" x2="1056.7" y2="605.6" stroke="#222" stroke-width="2.4" stroke-linecap="butt"/>
<line x1="1115.3" y1="1111.6" x2="1115.3" y2="1120.6" stroke="#222" stroke-width="2.4" stroke-linecap="butt"/>
<line x1="1115.3" y1="614.6" x2="1115.3" y2="605.6" stroke="#222" stroke-width="2.4" stroke-linecap="butt"/>
<line x1="1174" y1="1111.6" x2="1174" y2="1120.6" stroke="#222" stroke-width="2.4" stroke-linecap="butt"/>
<line x1="1174" y1="614.6" x2="1174" y2="605.6" stroke="#222" stroke-width="2.4" stroke-linecap="butt"/>
<line x1="1232.6" y1="1111.6" x2="1232.6" y2="1120.6" stroke="#222" stroke-width="2.4" stroke-linecap="butt"/>
<line x1="1232.6" y1="614.6" x2="1232.6" y2="605.6" stroke="#222" stroke-width="2.4" stroke-linecap="butt"/>
<line x1="1291.2" y1="1111.6" x2="1291.2" y2="1120.6" stroke="#222" stroke-width="2.4" stroke-linecap="butt"/>
<line x1="1291.2" y1="614.6" x2="1291.2" y2="605.6" stroke="#222" stroke-width="2.4" stroke-linecap="butt"/>
<line x1="1349.9" y1="1111.6" x2="1349.9" y2="1120.6" stroke="#222" stroke-width="2.4" stroke-linecap="butt"/>
<line x1="1349.9" y1="614.6" x2="1349.9" y2="605.6" stroke="#222" stroke-width="2.4" stroke-linecap="butt"/>
<line x1="1408.5" y1="1111.6" x2="1408.5" y2="1120.6" stroke="#222" stroke-width="2.4" stroke-linecap="butt"/>
<line x1="1408.5" y1="614.6" x2="1408.5" y2="605.6" stroke="#222" stroke-width="2.4" stroke-linecap="butt"/>
<line x1="1467.2" y1="1111.6" x2="1467.2" y2="1120.6" stroke="#222" stroke-width="2.4" stroke-linecap="butt"/>
<line x1="1467.2" y1="614.6" x2="1467.2" y2="605.6" stroke="#222" stroke-width="2.4" stroke-linecap="butt"/>
<line x1="1525.8" y1="1111.6" x2="1525.8" y2="1120.6" stroke="#222" stroke-width="2.4" stroke-linecap="butt"/>
<line x1="1525.8" y1="614.6" x2="1525.8" y2="605.6" stroke="#222" stroke-width="2.4" stroke-linecap="butt"/>
<line x1="968.7" y1="1111.6" x2="968.7" y2="1116.6" stroke="#222" stroke-width="2.4" stroke-linecap="butt"/>
<line x1="968.7" y1="614.6" x2="968.7" y2="609.6" stroke="#222" stroke-width="2.4" stroke-linecap="butt"/>
<line x1="1027.4" y1="1111.6" x2="1027.4" y2="1116.6" stroke="#222" stroke-width="2.4" stroke-linecap="butt"/>
<line x1="1027.4" y1="614.6" x2="1027.4" y2="609.6" stroke="#222" stroke-width="2.4" stroke-linecap="butt"/>
<line x1="1086" y1="1111.6" x2="1086" y2="1116.6" stroke="#222" stroke-width="2.4" stroke-linecap="butt"/>
<line x1="1086" y1="614.6" x2="1086" y2="609.6" stroke="#222" stroke-width="2.4" stroke-linecap="butt"/>
<line x1="1144.6" y1="1111.6" x2="1144.6" y2="1116.6" stroke="#222" stroke-width="2.4" stroke-linecap="butt"/>
<line x1="1144.6" y1="614.6" x2="1144.6" y2="609.6" stroke="#222" stroke-width="2.4" stroke-linecap="butt"/>
<line x1="1203.3" y1="1111.6" x2="1203.3" y2="1116.6" stroke="#222" stroke-width="2.4" stroke-linecap="butt"/>
<line x1="1203.3" y1="614.6" x2="1203.3" y2="609.6" stroke="#222" stroke-width="2.4" stroke-linecap="butt"/>
<line x1="1261.9" y1="1111.6" x2="1261.9" y2="1116.6" stroke="#222" stroke-width="2.4" stroke-linecap="butt"/>
<line x1="1261.9" y1="614.6" x2="1261.9" y2="609.6" stroke="#222" stroke-width="2.4" stroke-linecap="butt"/>
<line x1="1320.6" y1="1111.6" x2="1320.6" y2="1116.6" stroke="#222" stroke-width="2.4" stroke-linecap="butt"/>
<line x1="1320.6" y1="614.6" x2="1320.6" y2="609.6" stroke="#222" stroke-width="2.4" stroke-linecap="butt"/>
<line x1="1379.2" y1="1111.6" x2="1379.2" y2="1116.6" stroke="#222" stroke-width="2.4" stroke-linecap="butt"/>
<line x1="1379.2" y1="614.6" x2="1379.2" y2="609.6" stroke="#222" stroke-width="2.4" stroke-linecap="butt"/>
<line x1="1437.8" y1="1111.6" x2="1437.8" y2="1116.6" stroke="#222" stroke-width="2.4" stroke-linecap="butt"/>
<line x1="1437.8" y1="614.6" x2="1437.8" y2="609.6" stroke="#222" stroke-width="2.4" stroke-linecap="butt"/>
<line x1="1496.5" y1="1111.6" x2="1496.5" y2="1116.6" stroke="#222" stroke-width="2.4" stroke-linecap="butt"/>
<line x1="1496.5" y1="614.6" x2="1496.5" y2="609.6" stroke="#222" stroke-width="2.4" stroke-linecap="butt"/>
<line x1="1555.1" y1="1111.6" x2="1555.1" y2="1116.6" stroke="#222" stroke-width="2.4" stroke-linecap="butt"/>
<line x1="1555.1" y1="614.6" x2="1555.1" y2="609.6" stroke="#222" stroke-width="2.4" stroke-linecap="butt"/>
<line x1="939.4" y1="614.6" x2="930.4" y2="614.6" stroke="#222" stroke-width="2.4" stroke-linecap="butt"/>
<line x1="1555.5" y1="614.6" x2="1564.5" y2="614.6" stroke="#222" stroke-width="2.4" stroke-linecap="butt"/>
<line x1="939.4" y1="738.9" x2="930.4" y2="738.9" stroke="#222" stroke-width="2.4" stroke-linecap="butt"/>
<line x1="1555.5" y1="738.9" x2="1564.5" y2="738.9" stroke="#222" stroke-width="2.4" stroke-linecap="butt"/>
<line x1="939.4" y1="863.1" x2="930.4" y2="863.1" stroke="#222" stroke-width="2.4" stroke-linecap="butt"/>
<line x1="1555.5" y1="863.1" x2="1564.5" y2="863.1" stroke="#222" stroke-width="2.4" stroke-linecap="butt"/>
<line x1="939.4" y1="987.4" x2="930.4" y2="987.4" stroke="#222" stroke-width="2.4" stroke-linecap="butt"/>
<line x1="1555.5" y1="987.4" x2="1564.5" y2="987.4" stroke="#222" stroke-width="2.4" stroke-linecap="butt"/>
<line x1="939.4" y1="1111.6" x2="930.4" y2="1111.6" stroke="#222" stroke-width="2.4" stroke-linecap="butt"/>
<line x1="1555.5" y1="1111.6" x2="1564.5" y2="1111.6" stroke="#222" stroke-width="2.4" stroke-linecap="butt"/>
<line x1="939.4" y1="676.7" x2="934.4" y2="676.7" stroke="#222" stroke-width="2.4" stroke-linecap="butt"/>
<line x1="1555.5" y1="676.7" x2="1560.5" y2="676.7" stroke="#222" stroke-width="2.4" stroke-linecap="butt"/>
<line x1="939.4" y1="801" x2="934.4" y2="801" stroke="#222" stroke-width="2.4" stroke-linecap="butt"/>
<line x1="1555.5" y1="801" x2="1560.5" y2="801" stroke="#222" stroke-width="2.4" stroke-linecap="butt"/>
<line x1="939.4" y1="925.2" x2="934.4" y2="925.2" stroke="#222" stroke-width="2.4" stroke-linecap="butt"/>
<line x1="1555.5" y1="925.2" x2="1560.5" y2="925.2" stroke="#222" stroke-width="2.4" stroke-linecap="butt"/>
<line x1="939.4" y1="1049.5" x2="934.4" y2="1049.5" stroke="#222" stroke-width="2.4" stroke-linecap="butt"/>
<line x1="1555.5" y1="1049.5" x2="1560.5" y2="1049.5" stroke="#222" stroke-width="2.4" stroke-linecap="butt"/>
<text x="923.3" y="621" font-size="21.5" text-anchor="end" font-family='"Liberation Sans", Arial, sans-serif' fill="#111"  stroke="#111" stroke-width="0.6">1.0</text>
<text x="923.3" y="745.2" font-size="21.5" text-anchor="end" font-family='"Liberation Sans", Arial, sans-serif' fill="#111"  stroke="#111" stroke-width="0.6">0.5</text>
<text x="923.3" y="869.5" font-size="21.5" text-anchor="end" font-family='"Liberation Sans", Arial, sans-serif' fill="#111"  stroke="#111" stroke-width="0.6">0.0</text>
<text x="923.3" y="993.8" font-size="21.5" text-anchor="end" font-family='"Liberation Sans", Arial, sans-serif' fill="#111"  stroke="#111" stroke-width="0.6">0.5</text>
<text x="923.3" y="1118" font-size="21.5" text-anchor="end" font-family='"Liberation Sans", Arial, sans-serif' fill="#111"  stroke="#111" stroke-width="0.6">1.0</text>
<text x="939.4" y="1144.8" font-size="21.5" text-anchor="middle" font-family='"Liberation Sans", Arial, sans-serif' fill="#111"  stroke="#111" stroke-width="0.65">2.4</text>
<text x="998" y="1144.8" font-size="21.5" text-anchor="middle" font-family='"Liberation Sans", Arial, sans-serif' fill="#111"  stroke="#111" stroke-width="0.65">2.6</text>
<text x="1056.7" y="1144.8" font-size="21.5" text-anchor="middle" font-family='"Liberation Sans", Arial, sans-serif' fill="#111"  stroke="#111" stroke-width="0.65">2.8</text>
<text x="1115.3" y="1144.8" font-size="21.5" text-anchor="middle" font-family='"Liberation Sans", Arial, sans-serif' fill="#111"  stroke="#111" stroke-width="0.65">3.0</text>
<text x="1174" y="1144.8" font-size="21.5" text-anchor="middle" font-family='"Liberation Sans", Arial, sans-serif' fill="#111"  stroke="#111" stroke-width="0.65">3.2</text>
<text x="1232.6" y="1144.8" font-size="21.5" text-anchor="middle" font-family='"Liberation Sans", Arial, sans-serif' fill="#111"  stroke="#111" stroke-width="0.65">3.4</text>
<text x="1291.2" y="1144.8" font-size="21.5" text-anchor="middle" font-family='"Liberation Sans", Arial, sans-serif' fill="#111"  stroke="#111" stroke-width="0.65">3.6</text>
<text x="1349.9" y="1144.8" font-size="21.5" text-anchor="middle" font-family='"Liberation Sans", Arial, sans-serif' fill="#111"  stroke="#111" stroke-width="0.65">3.8</text>
<text x="1408.5" y="1144.8" font-size="21.5" text-anchor="middle" font-family='"Liberation Sans", Arial, sans-serif' fill="#111"  stroke="#111" stroke-width="0.65">4.0</text>
<text x="1467.2" y="1144.8" font-size="21.5" text-anchor="middle" font-family='"Liberation Sans", Arial, sans-serif' fill="#111"  stroke="#111" stroke-width="0.65">4.2</text>
<text x="1525.8" y="1144.8" font-size="21.5" text-anchor="middle" font-family='"Liberation Sans", Arial, sans-serif' fill="#111"  stroke="#111" stroke-width="0.65">4.4</text>
<text x="0" y="0" font-size="33.9" text-anchor="start" font-family='Carlito, Calibri, "Liberation Sans", sans-serif' fill="#000" transform="translate(867.9 1011) rotate(-90)" textLength="319.2" lengthAdjust="spacingAndGlyphs" stroke="#000" stroke-width="0.45">Normalised d(Q-Q<tspan font-size="22.4" dy="5">0</tspan><tspan dy="-5">)/dE</tspan></text>
<text x="1182.7" y="1194.1" font-size="33.5" text-anchor="start" font-family='Carlito, Calibri, "Liberation Sans", sans-serif' fill="#000" textLength="94.31" lengthAdjust="spacingAndGlyphs" stroke="#000" stroke-width="0.45">E<tspan font-size="22.5" dy="5.5">cell</tspan><tspan dy="-5.5"> (V)</tspan></text>
<text x="1452.8" y="1097.5" font-size="52" text-anchor="start" font-family='Carlito, Calibri, "Liberation Sans", sans-serif' fill="#000" textLength="58.86" lengthAdjust="spacingAndGlyphs" stroke="#000" stroke-width="0.45">(d)</text>
<path d="M584 93.2 L585.4 92.5 L586.7 91.7 L588.1 91 L589.5 90.3 L590.9 89.6 L592.2 88.9 L593.6 88.2 L595 87.5 L596.4 86.8 L597.7 86.1 L599.1 85.4 L600.5 84.7 L601.9 84.1 L603.3 83.4 L604.7 82.7 L606.1 82 L607.5 81.4 L608.9 80.7 L610.3 80.1 L611.7 79.4 L613.1 78.8 L614.5 78.1 L615.9 77.5 L617.3 76.9 L618.7 76.2 L620.1 75.6 L621.5 75 L622.9 74.4 L624.3 73.7 L625.7 73.1 L627.1 72.5 L628.6 71.9 L630 71.3 L631.4 70.7 L632.8 70.1 L634.2 69.6 L635.7 69 L637.1 68.4 L638.5 67.8 L639.9 67.3 L641.4 66.7 L642.8 66.1 L644.2 65.6 L645.7 65 L647.1 64.5 L648.6 63.9 L650 63.4 L651.4 62.8 L652.9 62.3 L654.3 61.8 L655.8 61.2 L657.2 60.7 L658.7 60.2 L660.1 59.7 L661.6 59.2 L663 58.7 L664.5 58.2 L665.9 57.7 L667.4 57.2 L668.9 56.7 L670.3 56.2 L671.8 55.7 L673.3 55.3 L674.7 54.8 L676.2 54.3 L677.7 53.8 L679.1 53.4 L680.6 52.9 L682.1 52.5 L683.6 52 L685 51.6 L686.5 51.1 L688 50.7" fill="none" stroke="#6a6aff" stroke-width="1.3" stroke-linejoin="round" stroke-linecap="round" />
<path d="M111.2 52 L112.5 52.7 L113.8 53.4 L115.1 54.1 L116.4 54.9 L117.7 55.6 L119 56.3 L120.3 57 L121.7 57.7 L123 58.4 L124.3 59.1 L125.6 59.9 L126.9 60.6 L128.2 61.3 L129.5 62 L130.9 62.7 L132.2 63.4 L133.5 64.1 L134.8 64.8 L136.1 65.5 L137.5 66.2 L138.8 66.9 L140.1 67.6 L141.4 68.3 L142.8 69 L144.1 69.7 L145.4 70.4 L146.7 71.1 L148.1 71.8 L149.4 72.5 L150.7 73.2 L152.1 73.9 L153.4 74.6 L154.8 75.3 L156.1 76 L157.4 76.7 L158.8 77.3 L160.1 78 L161.5 78.7 L162.8 79.4 L164.1 80.1 L165.5 80.8 L166.8 81.4 L168.2 82.1 L169.5 82.8 L170.9 83.4 L172.2 84.1 L173.6 84.8 L174.9 85.5 L176.3 86.1 L177.7 86.8 L179 87.4 L180.4 88.1 L181.7 88.8 L183.1 89.4 L184.5 90.1 L185.8 90.7 L187.2 91.4 L188.5 92 L189.9 92.7 L191.3 93.3 L192.6 94 L194 94.6 L195.4 95.3 L196.8 95.9 L198.1 96.5 L199.5 97.2 L200.9 97.8 L202.2 98.4 L203.6 99.1 L205 99.7 L206.4 100.3 L207.8 100.9 L209.1 101.6 L210.5 102.2 L211.9 102.8 L213.3 103.4 L214.7 104 L216 104.6 L217.4 105.2 L218.8 105.8 L220.2 106.4 L221.6 107 L223 107.6 L224.4 108.2 L225.8 108.8 L227.2 109.4 L228.5 110 L229.9 110.6 L231.3 111.2 L232.7 111.7 L234.1 112.3 L235.5 112.9 L236.9 113.5 L238.3 114 L239.7 114.6 L241.1 115.2 L242.5 115.7 L243.9 116.3 L245.3 116.8 L246.7 117.4 L248.1 118 L249.5 118.5 L251 119 L252.4 119.6 L253.8 120.1 L255.2 120.7 L256.6 121.2 L258 121.7 L259.4 122.3 L260.8 122.8 L262.2 123.3 L263.7 123.8 L265.1 124.3 L266.5 124.9 L267.9 125.4 L269.3 125.9 L270.8 126.4 L272.2 126.9 L273.6 127.4 L275 127.9 L276.4 128.4 L277.9 128.8 L279.3 129.3 L280.7 129.8 L282.1 130.3 L283.6 130.8 L285 131.2 L286.4 131.7 L287.8 132.2 L289.3 132.6 L290.7 133.1 L292.1 133.5 L293.6 134 L295 134.4 L296.4 134.9 L297.9 135.3 L299.3 135.8 L300.7 136.2 L302.2 136.6 L303.6 137 L305.1 137.5 L306.5 137.9 L307.9 138.3 L309.4 138.7 L310.8 139.1 L312.3 139.5 L313.7 139.9 L315.2 140.3 L316.6 140.7 L318 141.1 L319.5 141.5 L320.9 141.9 L322.4 142.3 L323.8 142.6 L325.3 143 L326.7 143.4 L328.2 143.8 L329.6 144.1 L331.1 144.5 L332.5 144.9 L334 145.2 L335.4 145.6 L336.9 145.9 L338.4 146.3 L339.8 146.6 L341.3 147 L342.7 147.3 L344.2 147.6 L345.6 148 L347.1 148.3 L348.6 148.6 L350 149 L351.5 149.3 L352.9 149.6 L354.4 149.9 L355.9 150.2 L357.3 150.5 L358.8 150.8 L360.3 151.2 L361.7 151.5 L363.2 151.8 L364.7 152.1 L366.1 152.4 L367.6 152.7 L369.1 152.9 L370.5 153.2 L372 153.5 L373.5 153.8 L375 154.1 L376.4 154.4 L377.9 154.6 L379.4 154.9 L380.8 155.2 L382.3 155.5 L383.8 155.7 L385.3 156 L386.7 156.3 L388.2 156.5 L389.7 156.8 L391.2 157 L392.7 157.3 L394.1 157.6 L395.6 157.8 L397.1 158.1 L398.6 158.3 L400.1 158.6 L401.5 158.8 L403 159 L404.5 159.3 L406 159.5 L407.5 159.8 L409 160 L410.4 160.2 L411.9 160.5 L413.4 160.7 L414.9 160.9 L416.4 161.1 L417.9 161.4 L419.4 161.6 L420.9 161.8 L422.3 162 L423.8 162.3 L425.3 162.5 L426.8 162.7 L428.3 162.9 L429.8 163.1 L431.3 163.3 L432.8 163.5 L434.3 163.7 L435.8 163.9 L437.3 164.2 L438.8 164.4 L440.3 164.6 L441.8 164.8 L443.2 165 L444.7 165.2 L446.2 165.4 L447.7 165.6 L449.2 165.8 L450.7 166 L452.2 166.1 L453.7 166.3 L455.2 166.5 L456.7 166.7 L458.2 166.9 L459.7 167.1 L461.2 167.3 L462.7 167.5 L464.2 167.7 L465.7 167.8 L467.2 168 L468.8 168.2 L470.3 168.4 L471.8 168.6 L473.3 168.8 L474.8 168.9 L476.3 169.1 L477.8 169.3 L479.3 169.5 L480.8 169.7 L482.3 169.8 L483.8 170 L485.3 170.2 L486.8 170.4 L488.3 170.5 L489.8 170.7 L491.4 170.9 L492.9 171.1 L494.4 171.2 L495.9 171.4 L497.4 171.6 L498.9 171.8 L500.4 171.9 L501.9 172.1 L503.4 172.3 L505 172.5 L506.5 172.6 L508 172.8 L509.5 173 L511 173.1 L512.5 173.3 L514 173.5 L515.6 173.7 L517.1 173.8 L518.6 174 L520.1 174.2 L521.6 174.3 L523.1 174.5 L524.6 174.7 L526.2 174.9 L527.7 175.1 L529.2 175.2 L530.7 175.4 L532.2 175.6 L533.7 175.8 L535.2 176 L536.7 176.2 L538.2 176.4 L539.7 176.6 L541.2 176.8 L542.7 177.1 L544.2 177.3 L545.7 177.5 L547.2 177.8 L548.7 178 L550.2 178.3 L551.7 178.6 L553.2 178.8 L554.6 179.1 L556.1 179.4 L557.6 179.7 L559.1 180 L560.5 180.4 L562 180.7 L563.4 181 L564.9 181.4 L566.3 181.8 L567.8 182.1 L569.2 182.5 L570.6 182.9 L572.1 183.4 L573.5 183.8 L574.9 184.3 L576.3 184.7 L577.7 185.2 L579.1 185.7 L580.5 186.2 L581.9 186.7 L583.3 187.3 L584.6 187.8 L586 188.4 L587.4 189 L588.7 189.6 L590.1 190.2 L591.4 190.9 L592.7 191.6 L594 192.2 L595.4 193 L596.7 193.7 L598 194.4 L599.3 195.2 L600.5 196 L601.8 196.8 L603.1 197.6 L604.3 198.5 L605.5 199.4 L606.7 200.3 L607.8 201.2 L609 202.2 L610 203.2 L611.1 204.2 L612.1 205.3 L613.1 206.4 L614 207.5 L614.9 208.6 L615.8 209.8 L616.6 211 L617.4 212.2 L618.1 213.5 L618.8 214.8 L619.5 216.1 L620.1 217.4 L620.6 218.8 L621.1 220.1 L621.6 221.5 L622.1 222.9 L622.5 224.4 L622.9 225.8 L623.2 227.3 L623.6 228.8 L623.9 230.3 L624.1 231.8 L624.4 233.3 L624.6 234.8 L624.8 236.3 L625 237.9 L625.1 239.4 L625.3 241 L625.4 242.5 L625.5 244.1 L625.6 245.7 L625.7 247.2 L625.8 248.8 L625.9 250.4 L625.9 251.9 L626 253.5 L626 255.1 L626.1 256.6 L626.2 258.2 L626.2 259.7 L626.3 261.2 L626.3 262.8 L626.4 264.3 L626.4 265.8 L626.5 267.3 L626.5 268.8 L626.6 270.4 L626.6 271.9 L626.6 273.4 L626.7 274.9 L626.7 276.4 L626.8 277.9 L626.8 279.4 L626.9 280.8 L626.9 282.3 L627 283.8 L627 285.3 L627.1 286.8 L627.1 288.3 L627.2 289.8 L627.2 291.3 L627.3 292.7 L627.3 294.2 L627.4 295.7 L627.5 297.2 L627.5 298.7 L627.6 300.2 L627.6 301.6 L627.7 303.1 L627.8 304.6 L627.9 306.1 L627.9 307.6 L628 309.1 L628.1 310.6 L628.2 312.1 L628.3 313.6 L628.3 315.1 L628.4 316.6 L628.5 318.1 L628.6 319.6 L628.7 321.1 L628.8 322.6 L628.8 324.1 L628.9 325.6 L629 327.1 L629.1 328.6 L629.2 330.1 L629.3 331.6 L629.3 333.1 L629.4 334.6 L629.5 336.1 L629.6 337.6 L629.7 339.1 L629.7 340.6 L629.8 342.1 L629.9 343.6 L629.9 345.1 L630 346.6 L630.1 348.1 L630.1 349.6 L630.2 351.2 L630.3 352.7 L630.3 354.2 L630.4 355.7 L630.4 357.2 L630.5 358.7 L630.5 360.2 L630.5 361.7 L630.6 363.2 L630.6 364.7 L630.6 366.2 L630.7 367.7 L630.7 369.2 L630.7 370.8 L630.7 372.3 L630.7 373.8 L630.7 375.3 L630.7 376.8 L630.7 378.3 L630.7 379.8 L630.6 381.3 L630.6 382.8" fill="none" stroke="#ff1010" stroke-width="5.4" stroke-linejoin="round" stroke-linecap="round" />
<path d="M111.9 177.5 L113.4 177.2 L114.9 177 L116.4 176.8 L117.9 176.6 L119.4 176.3 L120.8 176.1 L122.3 175.9 L123.8 175.7 L125.3 175.5 L126.8 175.3 L128.3 175.1 L129.8 174.9 L131.3 174.7 L132.7 174.5 L134.2 174.3 L135.7 174.1 L137.2 173.9 L138.7 173.7 L140.2 173.5 L141.7 173.3 L143.2 173.1 L144.6 172.9 L146.1 172.7 L147.6 172.6 L149.1 172.4 L150.6 172.2 L152.1 172 L153.6 171.8 L155.1 171.7 L156.6 171.5 L158.1 171.3 L159.6 171.2 L161 171 L162.5 170.8 L164 170.7 L165.5 170.5 L167 170.3 L168.5 170.2 L170 170 L171.5 169.9 L173 169.7 L174.5 169.5 L176 169.4 L177.5 169.2 L179 169.1 L180.4 168.9 L181.9 168.8 L183.4 168.6 L184.9 168.5 L186.4 168.4 L187.9 168.2 L189.4 168.1 L190.9 167.9 L192.4 167.8 L193.9 167.7 L195.4 167.5 L196.9 167.4 L198.4 167.3 L199.9 167.1 L201.4 167 L202.9 166.9 L204.4 166.7 L205.9 166.6 L207.4 166.5 L208.9 166.4 L210.4 166.2 L211.9 166.1 L213.4 166 L214.9 165.9 L216.4 165.7 L217.9 165.6 L219.4 165.5 L220.9 165.4 L222.4 165.3 L223.9 165.1 L225.4 165 L226.9 164.9 L228.4 164.8 L229.9 164.7 L231.4 164.6 L232.9 164.5 L234.4 164.4 L235.9 164.2 L237.4 164.1 L238.9 164 L240.4 163.9 L241.9 163.8 L243.4 163.7 L244.9 163.6 L246.4 163.5 L247.9 163.4 L249.4 163.3 L250.9 163.2 L252.4 163.1 L253.9 163 L255.4 162.9 L256.9 162.8 L258.4 162.7 L260 162.6 L261.5 162.5 L263 162.4 L264.5 162.3 L266 162.2 L267.5 162.1 L269 162 L270.5 161.9 L272 161.8 L273.5 161.7 L275 161.6 L276.5 161.5 L278 161.4 L279.5 161.3 L281 161.2 L282.6 161.1 L284.1 161 L285.6 160.9 L287.1 160.7 L288.6 160.6 L290.1 160.5 L291.6 160.4 L293.1 160.3 L294.6 160.2 L296.1 160.1 L297.6 160 L299.1 159.9 L300.6 159.8 L302.2 159.7 L303.7 159.6 L305.2 159.5 L306.7 159.4 L308.2 159.3 L309.7 159.1 L311.2 159 L312.7 158.9 L314.2 158.8 L315.7 158.7 L317.2 158.6 L318.7 158.4 L320.2 158.3 L321.7 158.2 L323.2 158.1 L324.8 158 L326.3 157.8 L327.8 157.7 L329.3 157.6 L330.8 157.4 L332.3 157.3 L333.8 157.2 L335.3 157.1 L336.8 156.9 L338.3 156.8 L339.8 156.6 L341.3 156.5 L342.8 156.4 L344.3 156.2 L345.8 156.1 L347.3 155.9 L348.8 155.8 L350.3 155.6 L351.8 155.5 L353.3 155.3 L354.8 155.1 L356.3 155 L357.8 154.8 L359.3 154.6 L360.8 154.5 L362.3 154.3 L363.8 154.1 L365.3 154 L366.8 153.8 L368.3 153.6 L369.8 153.4 L371.3 153.2 L372.8 153 L374.3 152.9 L375.7 152.7 L377.2 152.5 L378.7 152.3 L380.2 152.1 L381.7 151.9 L383.2 151.7 L384.7 151.4 L386.2 151.2 L387.7 151 L389.2 150.8 L390.6 150.6 L392.1 150.4 L393.6 150.1 L395.1 149.9 L396.6 149.7 L398.1 149.4 L399.6 149.2 L401 148.9 L402.5 148.7 L404 148.4 L405.5 148.2 L407 147.9 L408.4 147.7 L409.9 147.4 L411.4 147.1 L412.9 146.9 L414.3 146.6 L415.8 146.3 L417.3 146 L418.8 145.7 L420.2 145.4 L421.7 145.1 L423.2 144.8 L424.7 144.5 L426.1 144.2 L427.6 143.9 L429.1 143.6 L430.5 143.3 L432 143 L433.5 142.7 L434.9 142.3 L436.4 142 L437.9 141.7 L439.3 141.3 L440.8 141 L442.2 140.6 L443.7 140.3 L445.2 139.9 L446.6 139.6 L448.1 139.2 L449.5 138.8 L451 138.5 L452.5 138.1 L453.9 137.7 L455.4 137.3 L456.8 136.9 L458.3 136.5 L459.7 136.2 L461.2 135.8 L462.6 135.4 L464.1 135 L465.5 134.6 L467 134.1 L468.4 133.7 L469.8 133.3 L471.3 132.9 L472.7 132.5 L474.2 132.1 L475.6 131.6 L477.1 131.2 L478.5 130.8 L479.9 130.3 L481.4 129.9 L482.8 129.4 L484.2 129 L485.7 128.5 L487.1 128.1 L488.5 127.6 L490 127.2 L491.4 126.7 L492.8 126.2 L494.3 125.8 L495.7 125.3 L497.1 124.8 L498.6 124.3 L500 123.8 L501.4 123.4 L502.8 122.9 L504.3 122.4 L505.7 121.9 L507.1 121.4 L508.5 120.9 L509.9 120.4 L511.4 119.9 L512.8 119.4 L514.2 118.9 L515.6 118.3 L517 117.8 L518.4 117.3 L519.8 116.8 L521.3 116.3 L522.7 115.7 L524.1 115.2 L525.5 114.7 L526.9 114.1 L528.3 113.6 L529.7 113 L531.1 112.5 L532.5 112 L533.9 111.4 L535.3 110.8 L536.7 110.3 L538.1 109.7 L539.5 109.2 L540.9 108.6 L542.3 108 L543.7 107.5 L545.1 106.9 L546.5 106.3 L547.9 105.8 L549.3 105.2 L550.7 104.6 L552.1 104 L553.5 103.4 L554.9 102.8 L556.2 102.3 L557.6 101.7 L559 101.1 L560.4 100.5 L561.8 99.9 L563.2 99.3 L564.5 98.7 L565.9 98.1 L567.3 97.5 L568.7 96.9 L570.1 96.2 L571.4 95.6 L572.8 95 L574.2 94.4 L575.6 93.8 L577 93.2 L578.3 92.6 L579.7 91.9 L581.1 91.3 L582.5 90.7 L583.8 90.1 L585.2 89.4 L586.6 88.8 L587.9 88.2 L589.3 87.6 L590.7 86.9 L592.1 86.3 L593.4 85.7 L594.8 85.1 L596.2 84.4 L597.5 83.8 L598.9 83.2 L600.3 82.5 L601.6 81.9 L603 81.3 L604.4 80.6 L605.8 80 L607.1 79.4 L608.5 78.7 L609.9 78.1 L611.2 77.5 L612.6 76.9 L614 76.2 L615.3 75.6 L616.7 75 L618.1 74.3 L619.4 73.7 L620.8 73.1 L622.2 72.5 L623.6 71.8 L624.9 71.2 L626.3 70.6 L627.7 70 L629 69.3 L630.4 68.7 L631.8 68.1 L633.2 67.5 L634.5 66.8 L635.9 66.2 L637.3 65.6 L638.6 65 L640 64.4 L641.4 63.8 L642.8 63.2 L644.1 62.6 L645.5 61.9 L646.9 61.3 L648.3 60.7 L649.7 60.1 L651 59.5 L652.4 58.9 L653.8 58.3 L655.2 57.8 L656.6 57.2 L657.9 56.6 L659.3 56 L660.7 55.4 L662.1 54.8 L663.5 54.2 L664.9 53.7 L666.3 53.1 L667.7 52.5 L669 52 L670.4 51.4 L671.8 50.8 L673.2 50.3 L674.6 49.7" fill="none" stroke="#ff1010" stroke-width="5.4" stroke-linejoin="round" stroke-linecap="round" />
<path d="M111.1 281.4 L111.1 175" fill="none" stroke="#ff1010" stroke-width="2.8" stroke-linejoin="round" stroke-linecap="round" />
<path d="M620.2 218.8 L620.7 220.1 L621.2 221.5 L621.7 222.9 L622.1 224.4 L622.5 225.8 L622.8 227.3 L623.2 228.8 L623.5 230.3 L623.7 231.8 L624 233.3 L624.2 234.8 L624.4 236.3 L624.6 237.9 L624.7 239.4 L624.9 241 L625 242.5 L625.1 244.1 L625.2 245.7 L625.3 247.2 L625.4 248.8 L625.5 250.4 L625.5 251.9 L625.6 253.5 L625.6 255.1 L625.7 256.6 L625.8 258.2 L625.8 259.7 L625.9 261.2 L625.9 262.8 L626 264.3 L626 265.8 L626.1 267.3 L626.1 268.8 L626.2 270.4 L626.2 271.9 L626.2 273.4 L626.3 274.9 L626.3 276.4 L626.4 277.9 L626.4 279.4 L626.5 280.8 L626.5 282.3 L626.6 283.8 L626.6 285.3 L626.7 286.8 L626.7 288.3 L626.8 289.8 L626.8 291.3 L626.9 292.7 L626.9 294.2 L627 295.7 L627.1 297.2 L627.1 298.7 L627.2 300.2 L627.2 301.6 L627.3 303.1 L627.4 304.6 L627.5 306.1 L627.5 307.6 L627.6 309.1 L627.7 310.6 L627.8 312.1 L627.9 313.6 L627.9 315.1 L628 316.6 L628.1 318.1 L628.2 319.6 L628.3 321.1 L628.4 322.6 L628.4 324.1 L628.5 325.6 L628.6 327.1 L628.7 328.6 L628.8 330.1 L628.9 331.6 L628.9 333.1 L629 334.6 L629.1 336.1 L629.2 337.6 L629.3 339.1 L629.3 340.6 L629.4 342.1 L629.5 343.6 L629.5 345.1 L629.6 346.6 L629.7 348.1 L629.7 349.6 L629.8 351.2 L629.9 352.7 L629.9 354.2 L630 355.7 L630 357.2 L630.1 358.7 L630.1 360.2 L630.1 361.7 L630.2 363.2 L630.2 364.7 L630.2 366.2 L630.3 367.7 L630.3 369.2 L630.3 370.8 L630.3 372.3 L630.3 373.8 L630.3 375.3 L630.3 376.8 L630.3 378.3 L630.3 379.8 L630.2 381.3 L630.2 382.8" fill="none" stroke="#ff1010" stroke-width="6.4" stroke-linejoin="round" stroke-linecap="round" />
<path d="M610.7 201.2 L611.9 202.2 L612.9 203.2 L614 204.2 L615 205.3 L616 206.4 L616.9 207.5 L617.8 208.6 L618.7 209.8 L619.5 211 L620.3 212.2 L621 213.5 L621.7 214.8 L622.4 216.1 L623 217.4 L623.5 218.8 L624 220.1 L624.5 221.5 L625 222.9 L625.4 224.4 L625.8 225.8 L626.1 227.3 L626.5 228.8 L626.8 230.3 L627 231.8 L627.3 233.3 L627.5 234.8 L627.7 236.3 L627.9 237.9 L628 239.4 L628.2 241 L628.3 242.5 L628.4 244.1 L628.5 245.7 L628.6 247.2 L628.7 248.8 L628.8 250.4 L628.8 251.9 L628.9 253.5 L628.9 255.1 L629 256.6 L629.1 258.2 L629.1 259.7 L629.2 261.2 L629.2 262.8 L629.3 264.3 L629.3 265.8 L629.4 267.3 L629.4 268.8 L629.5 270.4 L629.5 271.9 L629.5 273.4 L629.6 274.9 L629.6 276.4 L629.7 277.9 L629.7 279.4 L629.8 280.8 L629.8 282.3 L629.9 283.8 L629.9 285.3 L630 286.8 L630 288.3 L630.1 289.8 L630.1 291.3 L630.2 292.7 L630.2 294.2 L630.3 295.7 L630.4 297.2 L630.4 298.7 L630.5 300.2 L630.5 301.6 L630.6 303.1 L630.7 304.6 L630.8 306.1 L630.8 307.6 L630.9 309.1 L631 310.6 L631.1 312.1 L631.2 313.6 L631.2 315.1 L631.3 316.6 L631.4 318.1 L631.5 319.6 L631.6 321.1 L631.7 322.6 L631.7 324.1 L631.8 325.6 L631.9 327.1 L632 328.6 L632.1 330.1 L632.2 331.6 L632.2 333.1 L632.3 334.6 L632.4 336.1 L632.5 337.6 L632.6 339.1 L632.6 340.6 L632.7 342.1 L632.8 343.6 L632.8 345.1 L632.9 346.6 L633 348.1 L633 349.6 L633.1 351.2 L633.2 352.7 L633.2 354.2 L633.3 355.7 L633.3 357.2 L633.4 358.7 L633.4 360.2 L633.4 361.7 L633.5 363.2 L633.5 364.7 L633.5 366.2 L633.6 367.7 L633.6 369.2 L633.6 370.8 L633.6 372.3 L633.6 373.8 L633.6 375.3 L633.6 376.8 L633.6 378.3 L633.6 379.8 L633.5 381.3 L633.5 382.8" fill="none" stroke="#2a18e0" stroke-width="2.0" stroke-linejoin="round" stroke-linecap="round" />
<path d="M111.2 52 L112.5 52.7 L113.8 53.4 L115.1 54.1 L116.4 54.9 L117.7 55.6 L119 56.3 L120.3 57 L121.7 57.7 L123 58.4 L124.3 59.1 L125.6 59.9 L126.9 60.6 L128.2 61.3 L129.5 62 L130.9 62.7 L132.2 63.4 L133.5 64.1 L134.8 64.8 L136.1 65.5 L137.5 66.2 L138.8 66.9 L140.1 67.6 L141.4 68.3 L142.8 69 L144.1 69.7 L145.4 70.4 L146.7 71.1 L148.1 71.8 L149.4 72.5 L150.7 73.2 L152.1 73.9 L153.4 74.6 L154.8 75.3 L156.1 76 L157.4 76.7 L158.8 77.3 L160.1 78 L161.5 78.7 L162.8 79.4 L164.1 80.1 L165.5 80.8 L166.8 81.4 L168.2 82.1 L169.5 82.8 L170.9 83.4 L172.2 84.1 L173.6 84.8 L174.9 85.5 L176.3 86.1 L177.7 86.8 L179 87.4 L180.4 88.1 L181.7 88.8 L183.1 89.4 L184.5 90.1 L185.8 90.7 L187.2 91.4 L188.5 92 L189.9 92.7 L191.3 93.3 L192.6 94 L194 94.6 L195.4 95.3 L196.8 95.9 L198.1 96.5 L199.5 97.2 L200.9 97.8 L202.2 98.4 L203.6 99.1 L205 99.7 L206.4 100.3 L207.8 100.9 L209.1 101.6 L210.5 102.2 L211.9 102.8 L213.3 103.4 L214.7 104 L216 104.6 L217.4 105.2 L218.8 105.8 L220.2 106.4 L221.6 107 L223 107.6 L224.4 108.2 L225.8 108.8 L227.2 109.4 L228.5 110 L229.9 110.6 L231.3 111.2 L232.7 111.7 L234.1 112.3 L235.5 112.9 L236.9 113.5 L238.3 114 L239.7 114.6 L241.1 115.2 L242.5 115.7 L243.9 116.3 L245.3 116.8 L246.7 117.4 L248.1 118 L249.5 118.5 L251 119 L252.4 119.6 L253.8 120.1 L255.2 120.7 L256.6 121.2 L258 121.7 L259.4 122.3 L260.8 122.8 L262.2 123.3 L263.7 123.8 L265.1 124.3 L266.5 124.9 L267.9 125.4 L269.3 125.9 L270.8 126.4 L272.2 126.9 L273.6 127.4 L275 127.9 L276.4 128.4 L277.9 128.8 L279.3 129.3 L280.7 129.8 L282.1 130.3 L283.6 130.8 L285 131.2 L286.4 131.7 L287.8 132.2 L289.3 132.6 L290.7 133.1 L292.1 133.5 L293.6 134 L295 134.4 L296.4 134.9 L297.9 135.3 L299.3 135.8 L300.7 136.2 L302.2 136.6 L303.6 137 L305.1 137.5 L306.5 137.9 L307.9 138.3 L309.4 138.7 L310.8 139.1 L312.3 139.5 L313.7 139.9 L315.2 140.3 L316.6 140.7 L318 141.1 L319.5 141.5 L320.9 141.9 L322.4 142.3 L323.8 142.6 L325.3 143 L326.7 143.4 L328.2 143.8 L329.6 144.1 L331.1 144.5 L332.5 144.9 L334 145.2 L335.4 145.6 L336.9 145.9 L338.4 146.3 L339.8 146.6 L341.3 147 L342.7 147.3 L344.2 147.6 L345.6 148 L347.1 148.3 L348.6 148.6 L350 149 L351.5 149.3 L352.9 149.6 L354.4 149.9 L355.9 150.2 L357.3 150.5 L358.8 150.8 L360.3 151.2 L361.7 151.5 L363.2 151.8 L364.7 152.1 L366.1 152.4 L367.6 152.7 L369.1 152.9 L370.5 153.2 L372 153.5 L373.5 153.8 L375 154.1 L376.4 154.4 L377.9 154.6 L379.4 154.9 L380.8 155.2 L382.3 155.5 L383.8 155.7 L385.3 156 L386.7 156.3 L388.2 156.5 L389.7 156.8 L391.2 157 L392.7 157.3 L394.1 157.6 L395.6 157.8 L397.1 158.1 L398.6 158.3 L400.1 158.6 L401.5 158.8 L403 159 L404.5 159.3 L406 159.5 L407.5 159.8 L409 160 L410.4 160.2 L411.9 160.5 L413.4 160.7 L414.9 160.9 L416.4 161.1 L417.9 161.4 L419.4 161.6 L420.9 161.8 L422.3 162 L423.8 162.3 L425.3 162.5 L426.8 162.7 L428.3 162.9 L429.8 163.1 L431.3 163.3 L432.8 163.5 L434.3 163.7 L435.8 163.9 L437.3 164.2 L438.8 164.4 L440.3 164.6 L441.8 164.8 L443.2 165 L444.7 165.2 L446.2 165.4 L447.7 165.6 L449.2 165.8 L450.7 166 L452.2 166.1 L453.7 166.3 L455.2 166.5 L456.7 166.7 L458.2 166.9 L459.7 167.1 L461.2 167.3 L462.7 167.5 L464.2 167.7 L465.7 167.8 L467.2 168 L468.8 168.2 L470.3 168.4 L471.8 168.6 L473.3 168.8 L474.8 168.9 L476.3 169.1 L477.8 169.3 L479.3 169.5 L480.8 169.7 L482.3 169.8 L483.8 170 L485.3 170.2 L486.8 170.4 L488.3 170.5 L489.8 170.7 L491.4 170.9 L492.9 171.1 L494.4 171.2 L495.9 171.4 L497.4 171.6 L498.9 171.8 L500.4 171.9 L501.9 172.1 L503.4 172.3 L505 172.5 L506.5 172.6 L508 172.8 L509.5 173 L511 173.1 L512.5 173.3 L514 173.5 L515.6 173.7 L517.1 173.8 L518.6 174 L520.1 174.2 L521.6 174.3 L523.1 174.5 L524.6 174.7 L526.2 174.9 L527.7 175.1 L529.2 175.2 L530.7 175.4 L532.2 175.6 L533.7 175.8 L535.2 176 L536.7 176.2 L538.2 176.4 L539.7 176.6 L541.2 176.8 L542.7 177.1 L544.2 177.3 L545.7 177.5 L547.2 177.8 L548.7 178 L550.2 178.3 L551.7 178.6 L553.2 178.8 L554.6 179.1 L556.1 179.4 L557.6 179.7 L559.1 180 L560.5 180.4 L562 180.7 L563.4 181 L564.9 181.4 L566.3 181.8 L567.8 182.1 L569.2 182.5 L570.6 182.9 L572.1 183.4 L573.5 183.8 L574.9 184.3 L576.3 184.7 L577.7 185.2 L579.1 185.7 L580.5 186.2 L581.9 186.7 L583.3 187.3 L584.6 187.8 L586 188.4 L587.4 189 L588.7 189.6 L590.1 190.2 L591.4 190.9 L592.7 191.6 L594 192.2 L595.4 193 L596.7 193.7 L598 194.4 L599.3 195.2 L600.5 196 L601.8 196.8 L603.1 197.6 L604.3 198.5 L605.5 199.4 L606.7 200.3 L607.8 201.2 L609 202.2 L610 203.2 L611.1 204.2 L612.1 205.3 L613.1 206.4 L614 207.5 L614.9 208.6 L615.8 209.8 L616.6 211 L617.4 212.2 L618.1 213.5 L618.8 214.8 L619.5 216.1 L620.1 217.4 L620.6 218.8 L621.1 220.1 L621.6 221.5 L622.1 222.9 L622.5 224.4 L622.9 225.8 L623.2 227.3 L623.6 228.8 L623.9 230.3 L624.1 231.8" fill="none" stroke="#3c0ca8" stroke-width="2.6" stroke-linejoin="round" stroke-linecap="round" />
<path d="M111.9 177.5 L113.4 177.2 L114.9 177 L116.4 176.8 L117.9 176.6 L119.4 176.3 L120.8 176.1 L122.3 175.9 L123.8 175.7 L125.3 175.5 L126.8 175.3 L128.3 175.1 L129.8 174.9 L131.3 174.7 L132.7 174.5 L134.2 174.3 L135.7 174.1 L137.2 173.9 L138.7 173.7 L140.2 173.5 L141.7 173.3 L143.2 173.1 L144.6 172.9 L146.1 172.7 L147.6 172.6 L149.1 172.4 L150.6 172.2 L152.1 172 L153.6 171.8 L155.1 171.7 L156.6 171.5 L158.1 171.3 L159.6 171.2 L161 171 L162.5 170.8 L164 170.7 L165.5 170.5 L167 170.3 L168.5 170.2 L170 170 L171.5 169.9 L173 169.7 L174.5 169.5 L176 169.4 L177.5 169.2 L179 169.1 L180.4 168.9 L181.9 168.8 L183.4 168.6 L184.9 168.5 L186.4 168.4 L187.9 168.2 L189.4 168.1 L190.9 167.9 L192.4 167.8 L193.9 167.7 L195.4 167.5 L196.9 167.4 L198.4 167.3 L199.9 167.1 L201.4 167 L202.9 166.9 L204.4 166.7 L205.9 166.6 L207.4 166.5 L208.9 166.4 L210.4 166.2 L211.9 166.1 L213.4 166 L214.9 165.9 L216.4 165.7 L217.9 165.6 L219.4 165.5 L220.9 165.4 L222.4 165.3 L223.9 165.1 L225.4 165 L226.9 164.9 L228.4 164.8 L229.9 164.7 L231.4 164.6 L232.9 164.5 L234.4 164.4 L235.9 164.2 L237.4 164.1 L238.9 164 L240.4 163.9 L241.9 163.8 L243.4 163.7 L244.9 163.6 L246.4 163.5 L247.9 163.4 L249.4 163.3 L250.9 163.2 L252.4 163.1 L253.9 163 L255.4 162.9 L256.9 162.8 L258.4 162.7 L260 162.6 L261.5 162.5 L263 162.4 L264.5 162.3 L266 162.2 L267.5 162.1 L269 162 L270.5 161.9 L272 161.8 L273.5 161.7 L275 161.6 L276.5 161.5 L278 161.4 L279.5 161.3 L281 161.2 L282.6 161.1 L284.1 161 L285.6 160.9 L287.1 160.7 L288.6 160.6 L290.1 160.5 L291.6 160.4 L293.1 160.3 L294.6 160.2 L296.1 160.1 L297.6 160 L299.1 159.9 L300.6 159.8 L302.2 159.7 L303.7 159.6 L305.2 159.5 L306.7 159.4 L308.2 159.3 L309.7 159.1 L311.2 159 L312.7 158.9 L314.2 158.8 L315.7 158.7 L317.2 158.6 L318.7 158.4 L320.2 158.3 L321.7 158.2 L323.2 158.1 L324.8 158 L326.3 157.8 L327.8 157.7 L329.3 157.6 L330.8 157.4 L332.3 157.3 L333.8 157.2 L335.3 157.1 L336.8 156.9 L338.3 156.8 L339.8 156.6 L341.3 156.5 L342.8 156.4 L344.3 156.2 L345.8 156.1 L347.3 155.9 L348.8 155.8 L350.3 155.6 L351.8 155.5 L353.3 155.3 L354.8 155.1 L356.3 155 L357.8 154.8 L359.3 154.6 L360.8 154.5 L362.3 154.3 L363.8 154.1 L365.3 154 L366.8 153.8 L368.3 153.6 L369.8 153.4 L371.3 153.2 L372.8 153 L374.3 152.9 L375.7 152.7 L377.2 152.5 L378.7 152.3 L380.2 152.1 L381.7 151.9 L383.2 151.7 L384.7 151.4 L386.2 151.2 L387.7 151 L389.2 150.8 L390.6 150.6 L392.1 150.4 L393.6 150.1 L395.1 149.9 L396.6 149.7 L398.1 149.4 L399.6 149.2 L401 148.9 L402.5 148.7 L404 148.4 L405.5 148.2 L407 147.9 L408.4 147.7 L409.9 147.4 L411.4 147.1 L412.9 146.9 L414.3 146.6 L415.8 146.3 L417.3 146 L418.8 145.7 L420.2 145.4 L421.7 145.1 L423.2 144.8 L424.7 144.5 L426.1 144.2 L427.6 143.9 L429.1 143.6 L430.5 143.3 L432 143 L433.5 142.7 L434.9 142.3 L436.4 142 L437.9 141.7 L439.3 141.3 L440.8 141 L442.2 140.6 L443.7 140.3 L445.2 139.9 L446.6 139.6 L448.1 139.2 L449.5 138.8 L451 138.5 L452.5 138.1 L453.9 137.7 L455.4 137.3 L456.8 136.9 L458.3 136.5 L459.7 136.2 L461.2 135.8 L462.6 135.4 L464.1 135 L465.5 134.6 L467 134.1 L468.4 133.7 L469.8 133.3 L471.3 132.9 L472.7 132.5 L474.2 132.1 L475.6 131.6 L477.1 131.2 L478.5 130.8 L479.9 130.3 L481.4 129.9 L482.8 129.4 L484.2 129 L485.7 128.5 L487.1 128.1 L488.5 127.6 L490 127.2 L491.4 126.7 L492.8 126.2 L494.3 125.8 L495.7 125.3 L497.1 124.8 L498.6 124.3 L500 123.8 L501.4 123.4 L502.8 122.9 L504.3 122.4 L505.7 121.9 L507.1 121.4 L508.5 120.9 L509.9 120.4 L511.4 119.9 L512.8 119.4 L514.2 118.9 L515.6 118.3 L517 117.8 L518.4 117.3 L519.8 116.8 L521.3 116.3 L522.7 115.7 L524.1 115.2 L525.5 114.7 L526.9 114.1 L528.3 113.6 L529.7 113 L531.1 112.5 L532.5 112 L533.9 111.4 L535.3 110.8 L536.7 110.3 L538.1 109.7 L539.5 109.2 L540.9 108.6 L542.3 108 L543.7 107.5 L545.1 106.9 L546.5 106.3 L547.9 105.8 L549.3 105.2 L550.7 104.6 L552.1 104 L553.5 103.4 L554.9 102.8 L556.2 102.3 L557.6 101.7 L559 101.1 L560.4 100.5 L561.8 99.9 L563.2 99.3 L564.5 98.7 L565.9 98.1 L567.3 97.5 L568.7 96.9 L570.1 96.2 L571.4 95.6 L572.8 95 L574.2 94.4 L575.6 93.8 L577 93.2 L578.3 92.6 L579.7 91.9 L581.1 91.3 L582.5 90.7 L583.8 90.1 L585.2 89.4 L586.6 88.8 L587.9 88.2 L589.3 87.6 L590.7 86.9 L592.1 86.3 L593.4 85.7 L594.8 85.1 L596.2 84.4 L597.5 83.8 L598.9 83.2 L600.3 82.5 L601.6 81.9 L603 81.3 L604.4 80.6 L605.8 80 L607.1 79.4 L608.5 78.7 L609.9 78.1 L611.2 77.5 L612.6 76.9 L614 76.2 L615.3 75.6 L616.7 75 L618.1 74.3 L619.4 73.7 L620.8 73.1 L622.2 72.5 L623.6 71.8 L624.9 71.2 L626.3 70.6 L627.7 70 L629 69.3 L630.4 68.7 L631.8 68.1 L633.2 67.5 L634.5 66.8 L635.9 66.2 L637.3 65.6 L638.6 65 L640 64.4 L641.4 63.8 L642.8 63.2 L644.1 62.6 L645.5 61.9 L646.9 61.3 L648.3 60.7 L649.7 60.1 L651 59.5 L652.4 58.9 L653.8 58.3 L655.2 57.8 L656.6 57.2 L657.9 56.6 L659.3 56 L660.7 55.4 L662.1 54.8 L663.5 54.2 L664.9 53.7 L666.3 53.1 L667.7 52.5 L669 52 L670.4 51.4 L671.8 50.8 L673.2 50.3 L674.6 49.7" fill="none" stroke="#3c0ca8" stroke-width="2.6" stroke-linejoin="round" stroke-linecap="round" />
<path d="M111.1 281.4 L111.1 175" fill="none" stroke="#4a10a0" stroke-width="2.2" stroke-linejoin="round" stroke-linecap="round" />
<circle cx="674.6" cy="49.6" r="3.2" fill="#ff1010"/>
<path d="M111.8 176.5 L117 178.2 L126 177.2" fill="none" stroke="#ff1010" stroke-width="7.2" stroke-linejoin="round" stroke-linecap="round" />
<path d="M111.8 176.3 L117 177.8 L126 176.9" fill="none" stroke="#3c0ca8" stroke-width="3.6" stroke-linejoin="round" stroke-linecap="round" />
<path d="M929.7 54 L931 54.8 L932.3 55.6 L933.5 56.3 L934.8 57.1 L936.1 57.9 L937.4 58.6 L938.7 59.4 L940 60.1 L941.2 60.9 L942.5 61.7 L943.8 62.4 L945.1 63.2 L946.4 63.9 L947.7 64.6 L949 65.4 L950.3 66.1 L951.6 66.9 L952.9 67.6 L954.2 68.3 L955.5 69.1 L956.8 69.8 L958.1 70.5 L959.4 71.3 L960.7 72 L962.1 72.7 L963.4 73.4 L964.7 74.2 L966 74.9 L967.3 75.6 L968.6 76.3 L970 77 L971.3 77.7 L972.6 78.4 L973.9 79.1 L975.3 79.9 L976.6 80.6 L977.9 81.3 L979.2 81.9 L980.6 82.6 L981.9 83.3 L983.2 84 L984.6 84.7 L985.9 85.4 L987.3 86.1 L988.6 86.8 L989.9 87.4 L991.3 88.1 L992.6 88.8 L994 89.5 L995.3 90.1 L996.7 90.8 L998 91.5 L999.4 92.1 L1000.7 92.8 L1002.1 93.5 L1003.4 94.1 L1004.8 94.8 L1006.1 95.4 L1007.5 96.1 L1008.8 96.7 L1010.2 97.4 L1011.6 98 L1012.9 98.6 L1014.3 99.3 L1015.7 99.9 L1017 100.6 L1018.4 101.2 L1019.8 101.8 L1021.1 102.4 L1022.5 103.1 L1023.9 103.7 L1025.2 104.3 L1026.6 104.9 L1028 105.5 L1029.4 106.1 L1030.8 106.8 L1032.1 107.4 L1033.5 108 L1034.9 108.6 L1036.3 109.2 L1037.7 109.8 L1039 110.4 L1040.4 110.9 L1041.8 111.5 L1043.2 112.1 L1044.6 112.7 L1046 113.3 L1047.4 113.9 L1048.8 114.4 L1050.2 115 L1051.6 115.6 L1053 116.1 L1054.4 116.7 L1055.8 117.3 L1057.2 117.8 L1058.6 118.4 L1060 118.9 L1061.4 119.5 L1062.8 120 L1064.2 120.6 L1065.6 121.1 L1067 121.7 L1068.4 122.2 L1069.8 122.8 L1071.2 123.3 L1072.6 123.8 L1074 124.3 L1075.4 124.9 L1076.8 125.4 L1078.3 125.9 L1079.7 126.4 L1081.1 126.9 L1082.5 127.5 L1083.9 128 L1085.4 128.5 L1086.8 129 L1088.2 129.5 L1089.6 130 L1091 130.5 L1092.5 130.9 L1093.9 131.4 L1095.3 131.9 L1096.7 132.4 L1098.2 132.9 L1099.6 133.4 L1101 133.8 L1102.5 134.3 L1103.9 134.8 L1105.3 135.2 L1106.7 135.7 L1108.2 136.2 L1109.6 136.6 L1111 137.1 L1112.5 137.5 L1113.9 138 L1115.4 138.4 L1116.8 138.8 L1118.2 139.3 L1119.7 139.7 L1121.1 140.1 L1122.6 140.6 L1124 141 L1125.4 141.4 L1126.9 141.8 L1128.3 142.3 L1129.8 142.7 L1131.2 143.1 L1132.7 143.5 L1134.1 143.9 L1135.6 144.3 L1137 144.7 L1138.5 145.1 L1139.9 145.5 L1141.4 145.9 L1142.8 146.3 L1144.3 146.6 L1145.7 147 L1147.2 147.4 L1148.6 147.8 L1150.1 148.1 L1151.5 148.5 L1153 148.9 L1154.5 149.2 L1155.9 149.6 L1157.4 149.9 L1158.8 150.3 L1160.3 150.6 L1161.8 151 L1163.2 151.3 L1164.7 151.6 L1166.1 152 L1167.6 152.3 L1169.1 152.6 L1170.5 153 L1172 153.3 L1173.5 153.6 L1174.9 153.9 L1176.4 154.2 L1177.9 154.5 L1179.3 154.8 L1180.8 155.1 L1182.3 155.4 L1183.7 155.7 L1185.2 156 L1186.7 156.3 L1188.1 156.6 L1189.6 156.9 L1191.1 157.1 L1192.6 157.4 L1194 157.7 L1195.5 157.9 L1197 158.2 L1198.5 158.5 L1199.9 158.7 L1201.4 159 L1202.9 159.3 L1204.4 159.5 L1205.8 159.8 L1207.3 160 L1208.8 160.3 L1210.3 160.5 L1211.7 160.7 L1213.2 161 L1214.7 161.2 L1216.2 161.5 L1217.7 161.7 L1219.1 161.9 L1220.6 162.1 L1222.1 162.4 L1223.6 162.6 L1225.1 162.8 L1226.6 163 L1228 163.3 L1229.5 163.5 L1231 163.7 L1232.5 163.9 L1234 164.1 L1235.5 164.3 L1236.9 164.5 L1238.4 164.8 L1239.9 165 L1241.4 165.2 L1242.9 165.4 L1244.4 165.6 L1245.9 165.8 L1247.3 166 L1248.8 166.2 L1250.3 166.4 L1251.8 166.6 L1253.3 166.8 L1254.8 167 L1256.3 167.2 L1257.8 167.4 L1259.2 167.6 L1260.7 167.7 L1262.2 167.9 L1263.7 168.1 L1265.2 168.3 L1266.7 168.5 L1268.2 168.7 L1269.7 168.9 L1271.2 169.1 L1272.6 169.3 L1274.1 169.5 L1275.6 169.6 L1277.1 169.8 L1278.6 170 L1280.1 170.2 L1281.6 170.4 L1283.1 170.6 L1284.6 170.8 L1286.1 171 L1287.5 171.2 L1289 171.3 L1290.5 171.5 L1292 171.7 L1293.5 171.9 L1295 172.1 L1296.5 172.3 L1298 172.5 L1299.5 172.7 L1301 172.9 L1302.5 173.1 L1303.9 173.3 L1305.4 173.4 L1306.9 173.6 L1308.4 173.8 L1309.9 174 L1311.4 174.2 L1312.9 174.4 L1314.4 174.6 L1315.9 174.8 L1317.4 175 L1318.9 175.2 L1320.3 175.4 L1321.8 175.7 L1323.3 175.9 L1324.8 176.1 L1326.3 176.3 L1327.8 176.5 L1329.3 176.7 L1330.8 176.9 L1332.3 177.1 L1333.8 177.3 L1335.2 177.6 L1336.7 177.8 L1338.2 178 L1339.7 178.2 L1341.2 178.5 L1342.7 178.7 L1344.2 178.9 L1345.7 179.2 L1347.2 179.4 L1348.6 179.6 L1350.1 179.9 L1351.6 180.1 L1353.1 180.4 L1354.6 180.6 L1356.1 180.9 L1357.6 181.1 L1359 181.4 L1360.5 181.7 L1362 181.9 L1363.5 182.2 L1365 182.5 L1366.5 182.8 L1368 183.1 L1369.4 183.4 L1370.9 183.7 L1372.4 184 L1373.9 184.3 L1375.4 184.6 L1376.8 185 L1378.3 185.3 L1379.8 185.6 L1381.3 186 L1382.8 186.3 L1384.2 186.7 L1385.7 187.1 L1387.2 187.4 L1388.7 187.8 L1390.1 188.2 L1391.6 188.6 L1393.1 189 L1394.6 189.4 L1396 189.9 L1397.5 190.3 L1399 190.7 L1400.5 191.2 L1401.9 191.7 L1403.4 192.1 L1404.9 192.6 L1406.3 193.1 L1407.8 193.6 L1409.2 194.1 L1410.7 194.7 L1412.1 195.2 L1413.5 195.8 L1414.9 196.3 L1416.3 196.9 L1417.7 197.5 L1419.1 198.2 L1420.4 198.8 L1421.8 199.5 L1423.1 200.2 L1424.4 200.9 L1425.7 201.6 L1426.9 202.3 L1428.1 203.1 L1429.4 203.9 L1430.5 204.7 L1431.7 205.6 L1432.8 206.4 L1433.9 207.3 L1435 208.3 L1436 209.2 L1437 210.2 L1438 211.2 L1438.9 212.2 L1439.8 213.3 L1440.7 214.4 L1441.5 215.5 L1442.3 216.7 L1443 217.9 L1443.8 219.1 L1444.5 220.3 L1445.1 221.5 L1445.8 222.8 L1446.4 224.1 L1447 225.4 L1447.5 226.8 L1448.1 228.1 L1448.6 229.5 L1449 230.9 L1449.5 232.3 L1449.9 233.7 L1450.3 235.1 L1450.7 236.6 L1451.1 238 L1451.5 239.5 L1451.8 241 L1452.1 242.5 L1452.4 244 L1452.7 245.5 L1452.9 247 L1453.2 248.5 L1453.4 250 L1453.7 251.5 L1453.9 253 L1454.1 254.6 L1454.3 256.1 L1454.5 257.6 L1454.6 259.1 L1454.8 260.7 L1454.9 262.2 L1455.1 263.7 L1455.2 265.2 L1455.4 266.7 L1455.5 268.3 L1455.6 269.8 L1455.7 271.3 L1455.8 272.8 L1455.9 274.4 L1455.9 275.9 L1456 277.4 L1456.1 278.9 L1456.1 280.5 L1456.2 282 L1456.2 283.5 L1456.3 285 L1456.3 286.6 L1456.3 288.1 L1456.4 289.6 L1456.4 291.1 L1456.4 292.6 L1456.4 294.2 L1456.4 295.7 L1456.4 297.2 L1456.4 298.7 L1456.4 300.3 L1456.4 301.8 L1456.4 303.3 L1456.3 304.8 L1456.3 306.3 L1456.3 307.9 L1456.3 309.4 L1456.3 310.9 L1456.2 312.4 L1456.2 313.9 L1456.2 315.4 L1456.1 317 L1456.1 318.5 L1456.1 320 L1456 321.5 L1456 323 L1456 324.5 L1455.9 326.1 L1455.9 327.6 L1455.9 329.1 L1455.8 330.6 L1455.8 332.1 L1455.8 333.6 L1455.8 335.1 L1455.7 336.6 L1455.7 338.1 L1455.7 339.6 L1455.7 341.1 L1455.7 342.6 L1455.7 344.1 L1455.7 345.7 L1455.7 347.2 L1455.7 348.7 L1455.7 350.2 L1455.7 351.6 L1455.7 353.1 L1455.7 354.6 L1455.8 356.1 L1455.8 357.6 L1455.8 359.1 L1455.9 360.6 L1455.9 362.1 L1456 363.6 L1456 365.1 L1456.1 366.6 L1456.2 368.1 L1456.3 369.5 L1456.4 371 L1456.5 372.5 L1456.6 374 L1456.7 375.5 L1456.8 376.9 L1457 378.4 L1457.1 379.9 L1457.3 381.4 L1457.4 382.8 L1457.6 384.3 L1457.8 385.8 L1458 387.2 L1458.2 388.7 L1458.4 390.2" fill="none" stroke="#ff0000" stroke-width="6.6" stroke-linejoin="round" stroke-linecap="round" />
<path d="M1338.1 176.4 L1339.5 176.8 L1340.9 177.2 L1342.3 177.6 L1343.7 177.9 L1345.1 178.3 L1346.5 178.6 L1348 178.9 L1349.4 179.2 L1350.9 179.5 L1352.3 179.8 L1353.8 180.1 L1355.3 180.4 L1356.7 180.7 L1358.2 180.9 L1359.7 181.2 L1361.2 181.4 L1362.7 181.7 L1364.2 181.9 L1365.7 182.2 L1367.2 182.4 L1368.7 182.6 L1370.2 182.9 L1371.8 183.1 L1373.3 183.4 L1374.8 183.6 L1376.3 183.8 L1377.9 184.1 L1379.4 184.3 L1380.9 184.6 L1382.4 184.8 L1384 185.1 L1385.5 185.3 L1387 185.6 L1388.5 185.9 L1390.1 186.2 L1391.6 186.5 L1393.1 186.8 L1394.6 187.1 L1396.1 187.4 L1397.7 187.7 L1399.2 188.1 L1400.7 188.4 L1402.2 188.8 L1403.7 189.2 L1405.2 189.6 L1406.6 190 L1408.1 190.4 L1409.6 190.8 L1411.1 191.3 L1412.5 191.8 L1414 192.3 L1415.4 192.8 L1416.8 193.3 L1418.3 193.9 L1419.7 194.4 L1421.1 195 L1422.5 195.6 L1423.9 196.3 L1425.3 196.9 L1426.6 197.6 L1428 198.3 L1429.3 199 L1430.6 199.8 L1431.9 200.6 L1433.2 201.4 L1434.4 202.2 L1435.7 203 L1436.9 203.9 L1438 204.8 L1439.2 205.7 L1440.3 206.6 L1441.4 207.6 L1442.4 208.6 L1443.5 209.6 L1444.5 210.7 L1445.4 211.8 L1446.3 212.9 L1447.2 214 L1448 215.1 L1448.8 216.3 L1449.6 217.5 L1450.3 218.7 L1450.9 220 L1451.6 221.3 L1452.2 222.6 L1452.8 223.9 L1453.3 225.3 L1453.8 226.6 L1454.3 228 L1454.7 229.4 L1455.1 230.8 L1455.5 232.2 L1455.9 233.7 L1456.2 235.2 L1456.5 236.6 L1456.8 238.1 L1457.1 239.6 L1457.3 241.1 L1457.5 242.7 L1457.7 244.2 L1457.9 245.7 L1458.1 247.3 L1458.3 248.8 L1458.4 250.4 L1458.5 252 L1458.7 253.5 L1458.8 255.1 L1458.9 256.7 L1459 258.2 L1459.1 259.8 L1459.2 261.4 L1459.3 262.9 L1459.3 264.5 L1459.4 266.1 L1459.5 267.6 L1459.6 269.2 L1459.6 270.7 L1459.7 272.3 L1459.8 273.8 L1459.8 275.4 L1459.9 276.9 L1460 278.4 L1460 280 L1460.1 281.5 L1460.1 283 L1460.2 284.5 L1460.3 286.1 L1460.3 287.6 L1460.4 289.1 L1460.4 290.6 L1460.5 292.1 L1460.5 293.6 L1460.6 295.2 L1460.6 296.7 L1460.7 298.2 L1460.7 299.7 L1460.8 301.2 L1460.8 302.7 L1460.8 304.2 L1460.9 305.7 L1460.9 307.2 L1461 308.7 L1461 310.2 L1461.1 311.7 L1461.1 313.2 L1461.1 314.6 L1461.2 316.1 L1461.2 317.6 L1461.3 319.1 L1461.3 320.6 L1461.3 322.1 L1461.4 323.6 L1461.4 325.1 L1461.4 326.6 L1461.5 328 L1461.5 329.5 L1461.6 331 L1461.6 332.5 L1461.6 334 L1461.7 335.5 L1461.7 337 L1461.7 338.5 L1461.8 340 L1461.8 341.4 L1461.9 342.9 L1461.9 344.4 L1461.9 345.9 L1462 347.4 L1462 348.9 L1462.1 350.4 L1462.1 351.9 L1462.2 353.4 L1462.2 354.9 L1462.2 356.4 L1462.3 357.9 L1462.3 359.4 L1462.4 360.9 L1462.4 362.4 L1462.5 364 L1462.5 365.5 L1462.6 367 L1462.6 368.5 L1462.7 370 L1462.8 371.5 L1462.8 373.1 L1462.9 374.6 L1462.9 376.1 L1463 377.7 L1463.1 379.2 L1463.1 380.7 L1463.2 382.3 L1463.3 383.8 L1463.3 385.4 L1463.4 386.9 L1463.5 388.5 L1463.6 390" fill="none" stroke="#ff0000" stroke-width="5.2" stroke-linejoin="round" stroke-linecap="round" />
<path d="M933.2 345 L933.2 200 L935.6 191.4 L937 191 L938.5 190.6 L939.9 190.2 L941.3 189.8 L942.8 189.5 L944.2 189.1 L945.7 188.7 L947.1 188.3 L948.6 188 L950 187.6 L951.5 187.2 L952.9 186.9 L954.4 186.5 L955.8 186.2 L957.3 185.8 L958.7 185.5 L960.2 185.2 L961.6 184.9 L963.1 184.5 L964.5 184.2 L966 183.9 L967.5 183.6 L968.9 183.3 L970.4 183 L971.8 182.7 L973.3 182.4 L974.8 182.1 L976.2 181.8 L977.7 181.5 L979.2 181.2 L980.6 181 L982.1 180.7 L983.6 180.4 L985 180.2 L986.5 179.9 L988 179.6 L989.4 179.4 L990.9 179.1 L992.4 178.9 L993.9 178.6 L995.3 178.4 L996.8 178.2 L998.3 177.9 L999.8 177.7 L1001.3 177.5 L1002.7 177.3 L1004.2 177 L1005.7 176.8 L1007.2 176.6 L1008.7 176.4 L1010.1 176.2 L1011.6 176 L1013.1 175.8 L1014.6 175.6 L1016.1 175.4 L1017.6 175.2 L1019 175 L1020.5 174.8 L1022 174.6 L1023.5 174.4 L1025 174.2 L1026.5 174.1 L1028 173.9 L1029.5 173.7 L1031 173.5 L1032.5 173.4 L1033.9 173.2 L1035.4 173 L1036.9 172.9 L1038.4 172.7 L1039.9 172.5 L1041.4 172.4 L1042.9 172.2 L1044.4 172.1 L1045.9 171.9 L1047.4 171.8 L1048.9 171.6 L1050.4 171.5 L1051.9 171.3 L1053.4 171.2 L1054.9 171 L1056.4 170.9 L1057.9 170.8 L1059.4 170.6 L1060.9 170.5 L1062.4 170.3 L1063.9 170.2 L1065.4 170.1 L1066.9 170 L1068.4 169.8 L1069.9 169.7 L1071.4 169.6 L1072.9 169.4 L1074.4 169.3 L1075.9 169.2 L1077.4 169.1 L1078.9 168.9 L1080.4 168.8 L1081.9 168.7 L1083.4 168.6 L1084.9 168.5 L1086.4 168.3 L1087.9 168.2 L1089.4 168.1 L1090.9 168 L1092.5 167.9 L1094 167.8 L1095.5 167.7 L1097 167.5 L1098.5 167.4 L1100 167.3 L1101.5 167.2 L1103 167.1 L1104.5 167 L1106 166.9 L1107.5 166.7 L1109 166.6 L1110.5 166.5 L1112 166.4 L1113.5 166.3 L1115 166.2 L1116.5 166.1 L1118.1 166 L1119.6 165.9 L1121.1 165.7 L1122.6 165.6 L1124.1 165.5 L1125.6 165.4 L1127.1 165.3 L1128.6 165.2 L1130.1 165.1 L1131.6 164.9 L1133.1 164.8 L1134.6 164.7 L1136.1 164.6 L1137.6 164.5 L1139.1 164.3 L1140.6 164.2 L1142.1 164.1 L1143.6 164 L1145.1 163.9 L1146.7 163.7 L1148.2 163.6 L1149.7 163.5 L1151.2 163.4 L1152.7 163.2 L1154.2 163.1 L1155.7 163 L1157.2 162.8 L1158.7 162.7 L1160.2 162.6 L1161.7 162.4 L1163.2 162.3 L1164.7 162.2 L1166.2 162 L1167.7 161.9 L1169.2 161.7 L1170.7 161.6 L1172.2 161.4 L1173.7 161.3 L1175.2 161.1 L1176.7 161 L1178.2 160.8 L1179.7 160.7 L1181.2 160.5 L1182.7 160.4 L1184.2 160.2 L1185.7 160 L1187.2 159.9 L1188.6 159.7 L1190.1 159.5 L1191.6 159.4 L1193.1 159.2 L1194.6 159 L1196.1 158.8 L1197.6 158.6 L1199.1 158.5 L1200.6 158.3 L1202.1 158.1 L1203.6 157.9 L1205.1 157.7 L1206.5 157.5 L1208 157.3 L1209.5 157.1 L1211 156.9 L1212.5 156.7 L1214 156.5 L1215.5 156.3 L1216.9 156 L1218.4 155.8 L1219.9 155.6 L1221.4 155.4 L1222.9 155.1 L1224.3 154.9 L1225.8 154.7 L1227.3 154.4 L1228.8 154.2 L1230.3 153.9 L1231.7 153.7 L1233.2 153.4 L1234.7 153.2 L1236.2 152.9 L1237.6 152.6 L1239.1 152.4 L1240.6 152.1 L1242.1 151.8 L1243.5 151.6 L1245 151.3 L1246.5 151 L1247.9 150.7 L1249.4 150.4 L1250.9 150.1 L1252.3 149.8 L1253.8 149.5 L1255.3 149.2 L1256.7 148.9 L1258.2 148.6 L1259.6 148.2 L1261.1 147.9 L1262.6 147.6 L1264 147.2 L1265.5 146.9 L1266.9 146.6 L1268.4 146.2 L1269.8 145.9 L1271.3 145.5 L1272.8 145.2 L1274.2 144.8 L1275.7 144.5 L1277.1 144.1 L1278.6 143.7 L1280 143.3 L1281.5 143 L1282.9 142.6 L1284.4 142.2 L1285.8 141.8 L1287.2 141.4 L1288.7 141 L1290.1 140.6 L1291.6 140.2 L1293 139.8 L1294.5 139.4 L1295.9 139 L1297.3 138.6 L1298.8 138.2 L1300.2 137.8 L1301.7 137.4 L1303.1 136.9 L1304.5 136.5 L1306 136.1 L1307.4 135.6 L1308.8 135.2 L1310.3 134.8 L1311.7 134.3 L1313.1 133.9 L1314.6 133.4 L1316 133 L1317.4 132.5 L1318.8 132.1 L1320.3 131.6 L1321.7 131.1 L1323.1 130.7 L1324.6 130.2 L1326 129.7 L1327.4 129.3 L1328.8 128.8 L1330.2 128.3 L1331.7 127.8 L1333.1 127.3 L1334.5 126.9 L1335.9 126.4 L1337.4 125.9 L1338.8 125.4 L1340.2 124.9 L1341.6 124.4 L1343 123.9 L1344.4 123.4 L1345.9 122.9 L1347.3 122.4 L1348.7 121.9 L1350.1 121.3 L1351.5 120.8 L1352.9 120.3 L1354.3 119.8 L1355.7 119.3 L1357.2 118.8 L1358.6 118.2 L1360 117.7 L1361.4 117.2 L1362.8 116.6 L1364.2 116.1 L1365.6 115.6 L1367 115 L1368.4 114.5 L1369.8 113.9 L1371.2 113.4 L1372.6 112.9 L1374 112.3 L1375.4 111.8 L1376.8 111.2 L1378.2 110.7 L1379.6 110.1 L1381 109.5 L1382.4 109 L1383.8 108.4 L1385.2 107.9 L1386.6 107.3 L1388 106.7 L1389.4 106.2 L1390.8 105.6 L1392.2 105 L1393.6 104.5 L1395 103.9 L1396.4 103.3 L1397.8 102.7 L1399.2 102.2 L1400.6 101.6 L1402 101 L1403.4 100.4 L1404.8 99.8 L1406.2 99.3 L1407.6 98.7 L1408.9 98.1 L1410.3 97.5 L1411.7 96.9 L1413.1 96.3 L1414.5 95.7 L1415.9 95.1 L1417.3 94.6 L1418.7 94 L1420 93.4 L1421.4 92.8 L1422.8 92.2 L1424.2 91.6 L1425.6 91 L1427 90.4 L1428.4 89.8 L1429.7 89.2 L1431.1 88.6 L1432.5 88 L1433.9 87.4 L1435.3 86.8 L1436.6 86.2 L1438 85.6 L1439.4 84.9 L1440.8 84.3 L1442.2 83.7 L1443.5 83.1 L1444.9 82.5 L1446.3 81.9 L1447.7 81.3 L1449.1 80.7 L1450.4 80.1 L1451.8 79.5 L1453.2 78.9 L1454.6 78.2 L1455.9 77.6 L1457.3 77 L1458.7 76.4 L1460.1 75.8 L1461.4 75.2 L1462.8 74.6 L1464.2 73.9 L1465.6 73.3 L1466.9 72.7 L1468.3 72.1 L1469.7 71.5 L1471 70.9 L1472.4 70.3 L1473.8 69.6 L1475.2 69 L1476.5 68.4 L1477.9 67.8 L1479.3 67.2 L1480.6 66.6 L1482 65.9 L1483.4 65.3 L1484.7 64.7 L1486.1 64.1 L1487.5 63.5 L1488.8 62.9 L1490.2 62.3 L1491.6 61.6 L1492.9 61 L1494.3 60.4 L1495.7 59.8 L1497 59.2 L1498.4 58.6 L1499.8 58 L1501.1 57.4 L1502.5 56.7 L1503.9 56.1 L1505.2 55.5 L1506.6 54.9 L1508 54.3 L1509.3 53.7 L1510.7 53.1 L1512.1 52.5 L1513.4 51.9" fill="none" stroke="#ff0000" stroke-width="5.8" stroke-linejoin="round" stroke-linecap="round" />
<path d="M930.6 504 L930.6 340" fill="none" stroke="#ff0000" stroke-width="3.4" stroke-linejoin="round" stroke-linecap="round" />
<path d="M929.4 53.7 L930.7 54.5 L932 55.3 L933.2 56 L934.5 56.8 L935.8 57.6 L937.1 58.3 L938.4 59.1 L939.7 59.8 L940.9 60.6 L942.2 61.4 L943.5 62.1 L944.8 62.9 L946.1 63.6 L947.4 64.3 L948.7 65.1 L950 65.8 L951.3 66.6 L952.6 67.3 L953.9 68 L955.2 68.8 L956.5 69.5 L957.8 70.2 L959.1 71 L960.4 71.7 L961.8 72.4 L963.1 73.1 L964.4 73.9 L965.7 74.6 L967 75.3 L968.3 76 L969.7 76.7 L971 77.4 L972.3 78.1 L973.6 78.8 L975 79.6 L976.3 80.3 L977.6 81 L978.9 81.6 L980.3 82.3 L981.6 83 L982.9 83.7 L984.3 84.4 L985.6 85.1 L987 85.8 L988.3 86.5 L989.6 87.1 L991 87.8 L992.3 88.5 L993.7 89.2 L995 89.8 L996.4 90.5 L997.7 91.2 L999.1 91.8 L1000.4 92.5 L1001.8 93.2 L1003.1 93.8 L1004.5 94.5 L1005.8 95.1 L1007.2 95.8 L1008.5 96.4 L1009.9 97.1 L1011.3 97.7 L1012.6 98.3 L1014 99 L1015.4 99.6 L1016.7 100.3 L1018.1 100.9 L1019.5 101.5 L1020.8 102.1 L1022.2 102.8 L1023.6 103.4 L1024.9 104 L1026.3 104.6 L1027.7 105.2 L1029.1 105.8 L1030.5 106.5 L1031.8 107.1 L1033.2 107.7 L1034.6 108.3 L1036 108.9 L1037.4 109.5 L1038.7 110.1 L1040.1 110.6 L1041.5 111.2 L1042.9 111.8 L1044.3 112.4 L1045.7 113 L1047.1 113.6 L1048.5 114.1 L1049.9 114.7 L1051.3 115.3 L1052.7 115.8 L1054.1 116.4 L1055.5 117 L1056.9 117.5 L1058.3 118.1 L1059.7 118.6 L1061.1 119.2 L1062.5 119.7 L1063.9 120.3 L1065.3 120.8 L1066.7 121.4 L1068.1 121.9 L1069.5 122.5 L1070.9 123 L1072.3 123.5 L1073.7 124 L1075.1 124.6 L1076.5 125.1 L1078 125.6 L1079.4 126.1 L1080.8 126.6 L1082.2 127.2 L1083.6 127.7 L1085.1 128.2 L1086.5 128.7 L1087.9 129.2 L1089.3 129.7 L1090.7 130.2 L1092.2 130.6 L1093.6 131.1 L1095 131.6 L1096.4 132.1 L1097.9 132.6 L1099.3 133.1 L1100.7 133.5 L1102.2 134 L1103.6 134.5 L1105 134.9 L1106.4 135.4 L1107.9 135.9 L1109.3 136.3 L1110.7 136.8 L1112.2 137.2 L1113.6 137.7 L1115.1 138.1 L1116.5 138.5 L1117.9 139 L1119.4 139.4 L1120.8 139.8 L1122.3 140.3 L1123.7 140.7 L1125.1 141.1 L1126.6 141.5 L1128 142 L1129.5 142.4 L1130.9 142.8 L1132.4 143.2 L1133.8 143.6 L1135.3 144 L1136.7 144.4 L1138.2 144.8 L1139.6 145.2 L1141.1 145.6 L1142.5 146 L1144 146.3 L1145.4 146.7 L1146.9 147.1 L1148.3 147.5 L1149.8 147.8 L1151.2 148.2 L1152.7 148.6 L1154.2 148.9 L1155.6 149.3 L1157.1 149.6 L1158.5 150 L1160 150.3 L1161.5 150.7 L1162.9 151 L1164.4 151.3 L1165.8 151.7 L1167.3 152 L1168.8 152.3 L1170.2 152.7 L1171.7 153 L1173.2 153.3 L1174.6 153.6 L1176.1 153.9 L1177.6 154.2 L1179 154.5 L1180.5 154.8 L1182 155.1 L1183.4 155.4 L1184.9 155.7 L1186.4 156 L1187.8 156.3 L1189.3 156.6 L1190.8 156.8 L1192.3 157.1 L1193.7 157.4 L1195.2 157.6 L1196.7 157.9 L1198.2 158.2 L1199.6 158.4 L1201.1 158.7 L1202.6 159 L1204.1 159.2 L1205.5 159.5 L1207 159.7 L1208.5 160 L1210 160.2 L1211.4 160.4 L1212.9 160.7 L1214.4 160.9 L1215.9 161.2 L1217.4 161.4 L1218.8 161.6 L1220.3 161.8 L1221.8 162.1 L1223.3 162.3 L1224.8 162.5 L1226.3 162.7 L1227.7 163 L1229.2 163.2 L1230.7 163.4 L1232.2 163.6 L1233.7 163.8 L1235.2 164 L1236.6 164.2 L1238.1 164.5 L1239.6 164.7 L1241.1 164.9 L1242.6 165.1 L1244.1 165.3 L1245.6 165.5 L1247 165.7 L1248.5 165.9 L1250 166.1 L1251.5 166.3 L1253 166.5 L1254.5 166.7 L1256 166.9 L1257.5 167.1 L1258.9 167.3 L1260.4 167.4 L1261.9 167.6 L1263.4 167.8 L1264.9 168 L1266.4 168.2 L1267.9 168.4 L1269.4 168.6 L1270.9 168.8 L1272.3 169 L1273.8 169.2 L1275.3 169.3 L1276.8 169.5 L1278.3 169.7 L1279.8 169.9 L1281.3 170.1 L1282.8 170.3 L1284.3 170.5 L1285.8 170.7 L1287.2 170.9 L1288.7 171 L1290.2 171.2 L1291.7 171.4 L1293.2 171.6 L1294.7 171.8 L1296.2 172 L1297.7 172.2 L1299.2 172.4 L1300.7 172.6 L1302.2 172.8 L1303.6 173 L1305.1 173.1 L1306.6 173.3 L1308.1 173.5 L1309.6 173.7 L1311.1 173.9 L1312.6 174.1 L1314.1 174.3 L1315.6 174.5 L1317.1 174.7 L1318.6 174.9 L1320 175.1 L1321.5 175.4 L1323 175.6 L1324.5 175.8 L1326 176 L1327.5 176.2 L1329 176.4 L1330.5 176.6 L1332 176.8 L1333.5 177 L1334.9 177.3 L1336.4 177.5 L1337.9 177.7 L1339.4 177.9 L1340.9 178.2 L1342.4 178.4 L1343.9 178.6 L1345.4 178.9 L1346.9 179.1 L1348.3 179.3 L1349.8 179.6 L1351.3 179.8 L1352.8 180.1 L1354.3 180.3 L1355.8 180.6 L1357.3 180.8 L1358.7 181.1 L1360.2 181.4 L1361.7 181.6 L1363.2 181.9 L1364.7 182.2 L1366.2 182.5 L1367.7 182.8 L1369.1 183.1 L1370.6 183.4 L1372.1 183.7 L1373.6 184 L1375.1 184.3 L1376.5 184.7 L1378 185 L1379.5 185.3 L1381 185.7 L1382.5 186 L1383.9 186.4 L1385.4 186.8 L1386.9 187.1 L1388.4 187.5 L1389.8 187.9 L1391.3 188.3 L1392.8 188.7 L1394.3 189.1 L1395.7 189.6 L1397.2 190 L1398.7 190.4 L1400.2 190.9 L1401.6 191.4 L1403.1 191.8 L1404.6 192.3 L1406 192.8 L1407.5 193.3 L1408.9 193.8 L1410.4 194.4 L1411.8 194.9 L1413.2 195.5 L1414.6 196 L1416 196.6 L1417.4 197.2 L1418.8 197.9 L1420.1 198.5 L1421.5 199.2 L1422.8 199.9 L1424.1 200.6 L1425.4 201.3 L1426.6 202 L1427.8 202.8 L1429.1 203.6 L1430.2 204.4 L1431.4 205.3 L1432.5 206.1 L1433.6 207 L1434.7 208 L1435.7 208.9 L1436.7 209.9 L1437.7 210.9 L1438.6 211.9 L1439.5 213 L1440.4 214.1 L1441.2 215.2 L1442 216.4 L1442.7 217.6 L1443.5 218.8 L1444.2 220 L1444.8 221.2 L1445.5 222.5 L1446.1 223.8 L1446.7 225.1 L1447.2 226.5 L1447.8 227.8 L1448.3 229.2 L1448.7 230.6 L1449.2 232 L1449.6 233.4 L1450 234.8 L1450.4 236.3 L1450.8 237.7 L1451.2 239.2 L1451.5 240.7 L1451.8 242.2 L1452.1 243.7 L1452.4 245.2 L1452.6 246.7 L1452.9 248.2 L1453.1 249.7 L1453.4 251.2 L1453.6 252.7 L1453.8 254.3 L1454 255.8 L1454.2 257.3 L1454.3 258.8 L1454.5 260.4 L1454.6 261.9 L1454.8 263.4 L1454.9 264.9 L1455.1 266.4 L1455.2 268 L1455.3 269.5 L1455.4 271 L1455.5 272.5 L1455.6 274.1 L1455.6 275.6 L1455.7 277.1 L1455.8 278.6 L1455.8 280.2 L1455.9 281.7 L1455.9 283.2 L1456 284.7 L1456 286.3 L1456 287.8 L1456.1 289.3 L1456.1 290.8 L1456.1 292.3 L1456.1 293.9 L1456.1 295.4 L1456.1 296.9 L1456.1 298.4 L1456.1 300 L1456.1 301.5 L1456.1 303 L1456 304.5 L1456 306 L1456 307.6 L1456 309.1 L1456 310.6 L1455.9 312.1 L1455.9 313.6 L1455.9 315.1 L1455.8 316.7 L1455.8 318.2 L1455.8 319.7 L1455.7 321.2 L1455.7 322.7 L1455.7 324.2 L1455.6 325.8 L1455.6 327.3 L1455.6 328.8 L1455.5 330.3 L1455.5 331.8 L1455.5 333.3 L1455.5 334.8 L1455.4 336.3 L1455.4 337.8 L1455.4 339.3 L1455.4 340.8 L1455.4 342.3 L1455.4 343.8 L1455.4 345.4 L1455.4 346.9 L1455.4 348.4 L1455.4 349.9 L1455.4 351.3 L1455.4 352.8 L1455.4 354.3 L1455.5 355.8 L1455.5 357.3 L1455.5 358.8 L1455.6 360.3 L1455.6 361.8 L1455.7 363.3 L1455.7 364.8 L1455.8 366.3 L1455.9 367.8 L1456 369.2 L1456.1 370.7 L1456.2 372.2 L1456.3 373.7 L1456.4 375.2 L1456.5 376.6 L1456.7 378.1 L1456.8 379.6 L1457 381.1 L1457.1 382.5 L1457.3 384 L1457.5 385.5 L1457.7 386.9 L1457.9 388.4 L1458.1 389.9" fill="none" stroke="#0000ff" stroke-width="3.6" stroke-linejoin="round" stroke-linecap="round" />
<path d="M929.8 428 L929.8 190 L932 185.5 L937.1 185 L938.6 184.7 L940.1 184.4 L941.5 184.1 L943 183.8 L944.5 183.5 L946 183.2 L947.4 182.9 L948.9 182.7 L950.4 182.4 L951.8 182.1 L953.3 181.9 L954.8 181.6 L956.3 181.3 L957.7 181.1 L959.2 180.8 L960.7 180.6 L962.2 180.3 L963.6 180.1 L965.1 179.8 L966.6 179.6 L968.1 179.4 L969.6 179.1 L971 178.9 L972.5 178.7 L974 178.5 L975.5 178.2 L977 178 L978.5 177.8 L980 177.6 L981.4 177.4 L982.9 177.2 L984.4 177 L985.9 176.8 L987.4 176.6 L988.9 176.4 L990.4 176.2 L991.9 176 L993.3 175.8 L994.8 175.6 L996.3 175.4 L997.8 175.2 L999.3 175.1 L1000.8 174.9 L1002.3 174.7 L1003.8 174.5 L1005.3 174.3 L1006.8 174.2 L1008.3 174 L1009.8 173.8 L1011.3 173.7 L1012.8 173.5 L1014.2 173.3 L1015.7 173.2 L1017.2 173 L1018.7 172.9 L1020.2 172.7 L1021.7 172.6 L1023.2 172.4 L1024.7 172.3 L1026.2 172.1 L1027.7 172 L1029.2 171.8 L1030.7 171.7 L1032.2 171.5 L1033.7 171.4 L1035.2 171.3 L1036.7 171.1 L1038.2 171 L1039.7 170.8 L1041.2 170.7 L1042.7 170.6 L1044.2 170.4 L1045.7 170.3 L1047.2 170.2 L1048.7 170 L1050.2 169.9 L1051.8 169.8 L1053.3 169.7 L1054.8 169.5 L1056.3 169.4 L1057.8 169.3 L1059.3 169.2 L1060.8 169 L1062.3 168.9 L1063.8 168.8 L1065.3 168.7 L1066.8 168.5 L1068.3 168.4 L1069.8 168.3 L1071.3 168.2 L1072.8 168.1 L1074.3 167.9 L1075.8 167.8 L1077.3 167.7 L1078.8 167.6 L1080.3 167.5 L1081.8 167.4 L1083.3 167.2 L1084.9 167.1 L1086.4 167 L1087.9 166.9 L1089.4 166.8 L1090.9 166.7 L1092.4 166.5 L1093.9 166.4 L1095.4 166.3 L1096.9 166.2 L1098.4 166.1 L1099.9 165.9 L1101.4 165.8 L1102.9 165.7 L1104.4 165.6 L1105.9 165.5 L1107.4 165.3 L1108.9 165.2 L1110.4 165.1 L1111.9 165 L1113.5 164.9 L1115 164.7 L1116.5 164.6 L1118 164.5 L1119.5 164.4 L1121 164.2 L1122.5 164.1 L1124 164 L1125.5 163.9 L1127 163.7 L1128.5 163.6 L1130 163.5 L1131.5 163.3 L1133 163.2 L1134.5 163.1 L1136 162.9 L1137.5 162.8 L1139 162.7 L1140.5 162.5 L1142 162.4 L1143.5 162.2 L1145 162.1 L1146.5 162 L1148 161.8 L1149.5 161.7 L1151 161.5 L1152.5 161.4 L1154 161.2 L1155.5 161.1 L1157 160.9 L1158.5 160.7 L1160 160.6 L1161.5 160.4 L1163 160.3 L1164.5 160.1 L1166 159.9 L1167.5 159.8 L1169 159.6 L1170.5 159.4 L1172 159.3 L1173.4 159.1 L1174.9 158.9 L1176.4 158.7 L1177.9 158.5 L1179.4 158.4 L1180.9 158.2 L1182.4 158 L1183.9 157.8 L1185.4 157.6 L1186.9 157.4 L1188.4 157.2 L1189.8 157 L1191.3 156.8 L1192.8 156.6 L1194.3 156.4 L1195.8 156.2 L1197.3 156 L1198.8 155.8 L1200.2 155.5 L1201.7 155.3 L1203.2 155.1 L1204.7 154.9 L1206.2 154.6 L1207.7 154.4 L1209.1 154.2 L1210.6 153.9 L1212.1 153.7 L1213.6 153.5 L1215.1 153.2 L1216.5 153 L1218 152.7 L1219.5 152.5 L1221 152.2 L1222.4 151.9 L1223.9 151.7 L1225.4 151.4 L1226.9 151.1 L1228.3 150.8 L1229.8 150.6 L1231.3 150.3 L1232.7 150 L1234.2 149.7 L1235.7 149.4 L1237.1 149.1 L1238.6 148.8 L1240.1 148.5 L1241.5 148.2 L1243 147.9 L1244.5 147.6 L1245.9 147.3 L1247.4 147 L1248.9 146.7 L1250.3 146.3 L1251.8 146 L1253.2 145.7 L1254.7 145.4 L1256.2 145 L1257.6 144.7 L1259.1 144.3 L1260.5 144 L1262 143.7 L1263.4 143.3 L1264.9 143 L1266.3 142.6 L1267.8 142.2 L1269.3 141.9 L1270.7 141.5 L1272.2 141.1 L1273.6 140.8 L1275.1 140.4 L1276.5 140 L1278 139.6 L1279.4 139.3 L1280.8 138.9 L1282.3 138.5 L1283.7 138.1 L1285.2 137.7 L1286.6 137.3 L1288.1 136.9 L1289.5 136.5 L1291 136.1 L1292.4 135.7 L1293.8 135.3 L1295.3 134.9 L1296.7 134.4 L1298.2 134 L1299.6 133.6 L1301 133.2 L1302.5 132.8 L1303.9 132.3 L1305.3 131.9 L1306.8 131.4 L1308.2 131 L1309.6 130.6 L1311.1 130.1 L1312.5 129.7 L1313.9 129.2 L1315.4 128.8 L1316.8 128.3 L1318.2 127.9 L1319.6 127.4 L1321.1 126.9 L1322.5 126.5 L1323.9 126 L1325.3 125.5 L1326.8 125.1 L1328.2 124.6 L1329.6 124.1 L1331 123.6 L1332.5 123.1 L1333.9 122.6 L1335.3 122.2 L1336.7 121.7 L1338.1 121.2 L1339.6 120.7 L1341 120.2 L1342.4 119.7 L1343.8 119.2 L1345.2 118.7 L1346.6 118.1 L1348 117.6 L1349.5 117.1 L1350.9 116.6 L1352.3 116.1 L1353.7 115.6 L1355.1 115 L1356.5 114.5 L1357.9 114 L1359.3 113.4 L1360.7 112.9 L1362.1 112.4 L1363.5 111.8 L1364.9 111.3 L1366.4 110.7 L1367.8 110.2 L1369.2 109.6 L1370.6 109.1 L1372 108.5 L1373.4 108 L1374.8 107.4 L1376.2 106.9 L1377.6 106.3 L1379 105.7 L1380.4 105.2 L1381.8 104.6 L1383.2 104 L1384.6 103.5 L1385.9 102.9 L1387.3 102.3 L1388.7 101.8 L1390.1 101.2 L1391.5 100.6 L1392.9 100 L1394.3 99.4 L1395.7 98.9 L1397.1 98.3 L1398.5 97.7 L1399.9 97.1 L1401.3 96.5 L1402.7 95.9 L1404 95.3 L1405.4 94.7 L1406.8 94.1 L1408.2 93.6 L1409.6 93 L1411 92.4 L1412.4 91.8 L1413.8 91.2 L1415.1 90.6 L1416.5 90 L1417.9 89.4 L1419.3 88.8 L1420.7 88.2 L1422.1 87.5 L1423.4 86.9 L1424.8 86.3 L1426.2 85.7 L1427.6 85.1 L1429 84.5 L1430.4 83.9 L1431.7 83.3 L1433.1 82.7 L1434.5 82.1 L1435.9 81.5 L1437.3 80.8 L1438.6 80.2 L1440 79.6 L1441.4 79 L1442.8 78.4 L1444.2 77.8 L1445.5 77.2 L1446.9 76.6 L1448.3 75.9 L1449.7 75.3 L1451 74.7 L1452.4 74.1 L1453.8 73.5 L1455.2 72.9 L1456.5 72.2 L1457.9 71.6 L1459.3 71 L1460.7 70.4 L1462 69.8 L1463.4 69.2 L1464.8 68.6 L1466.2 67.9 L1467.5 67.3 L1468.9 66.7 L1470.3 66.1 L1471.7 65.5 L1473 64.9 L1474.4 64.3 L1475.8 63.6 L1477.2 63 L1478.5 62.4 L1479.9 61.8 L1481.3 61.2 L1482.7 60.6 L1484 60 L1485.4 59.4 L1486.8 58.8 L1488.2 58.2 L1489.5 57.6 L1490.9 57 L1492.3 56.4 L1493.7 55.8 L1495 55.1 L1496.4 54.5 L1497.8 53.9 L1499.1 53.3 L1500.5 52.8 L1501.9 52.2 L1503.3 51.6" fill="none" stroke="#0000ff" stroke-width="3.8" stroke-linejoin="round" stroke-linecap="round" />
<path d="M655.1 896.1 L653.6 896.4 L652.2 896.7 L650.7 897 L649.2 897.3 L647.8 897.6 L646.3 897.9 L644.8 898.1 L643.3 898.3 L641.9 898.5 L640.4 898.7 L638.9 898.9 L637.4 899.1 L635.9 899.3 L634.4 899.4 L632.9 899.6 L631.4 899.7 L629.9 899.8 L628.4 899.9 L626.9 900.1 L625.3 900.2 L623.8 900.2 L622.3 900.3 L620.8 900.4 L619.3 900.5 L617.8 900.6 L616.2 900.6 L614.7 900.7 L613.2 900.7 L611.7 900.8 L610.1 900.9 L608.6 900.9 L607.1 901 L605.6 901 L604 901.1 L602.5 901.1 L601 901.2 L599.5 901.2 L597.9 901.3 L596.4 901.3 L594.9 901.4 L593.4 901.5 L591.8 901.5 L590.3 901.6 L588.8 901.7 L587.3 901.8 L585.7 901.9 L584.2 902 L582.7 902.1 L581.2 902.2 L579.7 902.3 L578.2 902.5 L576.6 902.6 L575.1 902.8 L573.6 902.9 L572.1 903.1 L570.6 903.3 L569.1 903.5 L567.6 903.7 L566.1 904 L564.7 904.2 L563.2 904.5 L561.7 904.7 L560.2 905 L558.7 905.3 L557.2 905.7 L555.8 906 L554.3 906.4 L552.8 906.8 L551.4 907.2 L549.9 907.6 L548.5 908 L547 908.5 L545.6 909 L544.2 909.5 L542.8 910 L541.4 910.6 L540 911.1 L538.6 911.7 L537.2 912.3 L535.8 913 L534.5 913.7 L533.2 914.3 L531.9 915.1 L530.6 915.8 L529.3 916.6 L528 917.3 L526.8 918.2 L525.6 919 L524.4 919.9 L523.3 920.8 L522.1 921.7 L521 922.6 L520 923.6 L518.9 924.6 L517.9 925.6 L516.9 926.7 L516 927.8 L515.1 928.9 L514.2 930 L513.3 931.2 L512.5 932.4 L511.7 933.6 L511 934.9 L510.3 936.2 L509.7 937.5 L509 938.9 L508.5 940.3 L507.9 941.7 L507.4 943.1 L506.9 944.6 L506.5 946.1 L506 947.6 L505.6 949.1 L505.2 950.6 L504.8 952.2 L504.5 953.8 L504.1 955.3 L503.8 956.9 L503.4 958.5 L503.1 960.1 L502.7 961.7 L502.4 963.3 L502 965 L501.7 966.6 L501.3 968.2 L500.9 969.8 L500.5 971.4 L500.1 973 L499.7 974.6 L499.2 976.1 L498.8 977.7 L498.2 979.3 L497.7 980.8 L497.1 982.3 L496.5 983.8 L495.9 985.3 L495.2 986.6 L494.5 987.8 L493.8 988.9 L493 989.7 L492.3 990.3 L491.5 990.7 L490.7 990.8 L489.9 990.7 L489.1 990.4 L488.2 989.9 L487.4 989.2 L486.6 988.4 L485.7 987.4 L484.9 986.4 L484 985.2 L483.2 984 L482.3 982.7 L481.5 981.4 L480.6 980.1 L479.8 978.8 L479 977.5 L478.1 976.2 L477.3 974.9 L476.5 973.6 L475.7 972.3 L474.9 971 L474.1 969.7 L473.3 968.4 L472.6 967.1 L471.8 965.8 L471 964.5 L470.3 963.2 L469.5 961.9 L468.8 960.6 L468.1 959.3 L467.3 958 L466.6 956.7 L465.9 955.4 L465.2 954 L464.5 952.7 L463.8 951.3 L463.2 950 L462.5 948.6 L461.9 947.3 L461.2 945.9 L460.6 944.5 L459.9 943.1 L459.3 941.7 L458.7 940.3 L458.1 938.9 L457.5 937.5 L456.9 936.1 L456.3 934.6 L455.7 933.2 L455.2 931.8 L454.6 930.3 L454 928.9 L453.4 927.4 L452.9 926 L452.3 924.5 L451.7 923.1 L451.1 921.7 L450.5 920.2 L449.9 918.8 L449.3 917.4 L448.7 916 L448 914.6 L447.4 913.2 L446.7 911.8 L446.1 910.5 L445.4 909.1 L444.7 907.8 L444 906.5 L443.3 905.2 L442.5 903.9 L441.7 902.6 L441 901.4 L440.1 900.2 L439.3 899 L438.5 897.8 L437.6 896.6 L436.7 895.5 L435.7 894.4 L434.8 893.3 L433.8 892.3 L432.8 891.3 L431.7 890.3 L430.6 889.3 L429.5 888.4 L428.4 887.5 L427.2 886.7 L426 885.8 L424.8 885 L423.5 884.2 L422.3 883.5 L421 882.8 L419.7 882.1 L418.4 881.4 L417 880.7 L415.6 880.1 L414.3 879.5 L412.9 878.9 L411.4 878.4 L410 877.9 L408.6 877.4 L407.1 876.9 L405.6 876.4 L404.2 876 L402.7 875.6 L401.2 875.2 L399.7 874.8 L398.1 874.5 L396.6 874.1 L395.1 873.8 L393.6 873.5 L392 873.3 L390.5 873 L389 872.8 L387.4 872.6 L385.9 872.4 L384.4 872.2 L382.8 872 L381.3 871.9 L379.8 871.8 L378.3 871.6 L376.8 871.5 L375.2 871.4 L373.7 871.4 L372.2 871.3 L370.7 871.3 L369.2 871.2 L367.7 871.2 L366.2 871.2 L364.7 871.2 L363.2 871.2 L361.7 871.2 L360.2 871.2 L358.7 871.2 L357.2 871.3 L355.7 871.3 L354.2 871.3 L352.7 871.4 L351.2 871.4 L349.7 871.5 L348.3 871.6 L346.8 871.6 L345.3 871.7 L343.8 871.8 L342.3 871.8 L340.8 871.9 L339.3 872 L337.8 872 L336.3 872.1 L334.8 872.2 L333.4 872.2 L331.9 872.3 L330.4 872.3 L328.9 872.4 L327.4 872.4 L325.9 872.5 L324.4 872.5 L322.9 872.6 L321.4 872.6 L319.9 872.6 L318.3 872.6 L316.8 872.6 L315.3 872.6 L313.8 872.6 L312.3 872.5 L310.8 872.5 L309.3 872.4 L307.7 872.4 L306.2 872.3 L304.7 872.2 L303.1 872.1 L301.6 872 L300.1 871.8 L298.5 871.7 L297 871.5" fill="none" stroke="#ff1414" stroke-width="2.6" stroke-linejoin="round" stroke-linecap="round" />
<path d="M478.5 869.4 L478.4 868.1 L478.3 866.7 L478.2 865.4 L478 864 L477.8 862.6 L477.6 861.2 L477.4 859.8 L477.2 858.4 L477 857 L476.8 855.5 L476.6 854.1 L476.4 852.6 L476.2 851.2 L476 849.7 L475.8 848.2 L475.6 846.7 L475.5 845.3 L475.3 843.8 L475.2 842.3 L475.1 840.8 L474.9 839.3 L474.8 837.8 L474.7 836.3 L474.6 834.8 L474.5 833.3 L474.4 831.8 L474.3 830.3 L474.3 828.8 L474.2 827.2 L474.1 825.7 L474.1 824.2 L474 822.7 L474 821.1 L474 819.6 L473.9 818.1 L473.9 816.6 L473.9 815 L473.9 813.5 L473.9 812 L473.9 810.4 L473.9 808.9 L473.9 807.3 L473.9 805.8 L473.9 804.3 L474 802.7 L474 801.2 L474 799.7 L474.1 798.1 L474.1 796.6 L474.1 795.1 L474.2 793.5 L474.2 792 L474.3 790.5 L474.3 789 L474.4 787.4 L474.5 785.9 L474.5 784.4 L474.6 782.9 L474.7 781.4 L474.7 779.9 L474.8 778.3 L474.9 776.8 L475 775.3 L475 773.8 L475.1 772.3 L475.2 770.8 L475.3 769.3 L475.4 767.9 L475.4 766.4 L475.5 764.9 L475.6 763.4 L475.7 761.9 L475.8 760.4 L475.9 758.9 L476 757.5 L476.1 756 L476.2 754.5 L476.2 753 L476.3 751.6 L476.4 750.1 L476.5 748.6 L476.6 747.1 L476.7 745.7 L476.8 744.2 L476.9 742.7 L477 741.2 L477.1 739.8 L477.2 738.3 L477.3 736.8 L477.4 735.4 L477.5 733.9 L477.6 732.4 L477.7 731 L477.8 729.5 L477.9 728 L478 726.5 L478.1 725.1 L478.2 723.6 L478.3 722.1 L478.4 720.6 L478.5 719.2 L478.6 717.7 L478.7 716.2 L478.8 714.7 L478.9 713.2 L478.9 711.7 L479 710.2 L479.1 708.8 L479.2 707.3 L479.3 705.8 L479.4 704.3 L479.5 702.8 L479.6 701.3 L479.6 699.8 L479.7 698.3 L479.8 696.7 L479.9 695.2 L480 693.7 L480 692.2 L480.1 690.7 L480.2 689.2 L480.2 687.6 L480.3 686.1 L480.4 684.6 L480.4 683 L480.5 681.5 L480.6 679.9 L480.6 678.4 L480.7 676.8 L480.7 675.2 L480.8 673.7 L480.8 672.1 L480.9 670.5 L480.9 669 L481 667.4 L481 665.8 L481 664.2 L481.1 662.6 L481.1 661 L481.1 659.4 L481.1 657.8 L481.2 656.1 L481.2 654.5 L481.2 652.9 L481.2 651.3 L481.2 649.6 L481.2 648 L481.2 646.3 L481.2 644.7 L481.3 643 L481.3 641.4 L481.3 639.8 L481.4 638.3 L481.5 636.8 L481.6 635.4 L481.8 634 L482 632.7 L482.3 631.5 L482.6 630.3 L483 629.3 L483.4 628.4 L483.9 627.5 L484.5 626.9 L485.1 626.7 L485.7 627 L486.2 627.7 L486.8 628.7 L487.2 630 L487.6 631.5 L488 633.1 L488.3 634.7 L488.8 636.2 L489.3 637.5 L489.9 638.5 L490.7 639.1 L491.7 639.2 L492.8 639 L493.9 638.7 L495 638.6 L496 638.7 L496.8 639.1 L497.5 639.9 L498.1 641 L498.6 642.3 L499 643.7 L499.4 645.2 L499.8 646.8 L500.1 648.3 L500.5 649.8 L500.8 651.4 L501.2 652.9 L501.5 654.4 L501.8 655.9 L502.1 657.5 L502.4 659 L502.7 660.5 L503 662 L503.2 663.5 L503.5 665 L503.8 666.6 L504 668.1 L504.3 669.6 L504.5 671.1 L504.7 672.6 L504.9 674.1 L505.2 675.6 L505.4 677.1 L505.6 678.6 L505.8 680.1 L506 681.6 L506.2 683.1 L506.4 684.6 L506.5 686.1 L506.7 687.6 L506.9 689.1 L507 690.6 L507.2 692.1 L507.4 693.6 L507.5 695.1 L507.7 696.6 L507.8 698 L508 699.5 L508.1 701 L508.3 702.5 L508.4 704 L508.6 705.5 L508.7 707 L508.9 708.5 L509 710 L509.1 711.4 L509.3 712.9 L509.4 714.4 L509.5 715.9 L509.7 717.4 L509.8 718.9 L510 720.4 L510.1 721.8 L510.2 723.3 L510.4 724.8 L510.5 726.3 L510.7 727.8 L510.8 729.3 L511 730.8 L511.1 732.3 L511.3 733.7 L511.4 735.2 L511.6 736.7 L511.8 738.2 L511.9 739.7 L512.1 741.2 L512.3 742.7 L512.4 744.2 L512.6 745.7 L512.8 747.1 L513 748.6 L513.2 750.1 L513.4 751.6 L513.6 753.1 L513.8 754.6 L514 756.1 L514.2 757.6 L514.4 759.1 L514.7 760.6 L514.9 762.1 L515.1 763.6 L515.4 765.1 L515.6 766.6 L515.9 768.1 L516.1 769.6 L516.4 771.1 L516.7 772.6 L516.9 774.1 L517.2 775.6 L517.5 777.2 L517.8 778.7 L518.2 780.2 L518.5 781.7 L518.8 783.1 L519.2 784.6 L519.6 786.1 L520 787.6 L520.4 789 L520.9 790.5 L521.3 791.9 L521.8 793.3 L522.3 794.8 L522.9 796.2 L523.4 797.5 L524 798.9 L524.7 800.3 L525.3 801.6 L526 802.9 L526.8 804.2 L527.5 805.5 L528.3 806.7 L529.2 807.9 L530 809.1 L531 810.3 L531.9 811.4 L532.9 812.5 L534 813.6 L535.1 814.7 L536.2 815.7 L537.3 816.7 L538.5 817.7 L539.7 818.6 L541 819.5 L542.2 820.3 L543.5 821.1 L544.8 821.9 L546.2 822.6 L547.5 823.3 L548.9 823.9 L550.3 824.5 L551.7 825 L553.1 825.5 L554.5 826 L555.9 826.4 L557.4 826.7 L558.8 827.1 L560.3 827.4 L561.8 827.6 L563.3 827.9 L564.8 828.1 L566.2 828.3 L567.7 828.5 L569.2 828.6 L570.8 828.8 L572.3 828.9 L573.8 829 L575.3 829.1 L576.8 829.2 L578.3 829.3 L579.8 829.4 L581.4 829.5 L582.9 829.6 L584.4 829.8 L585.9 829.9 L587.4 830 L588.9 830.1 L590.4 830.3 L591.9 830.4 L593.4 830.5 L594.9 830.7 L596.4 830.8 L597.9 831 L599.4 831.1 L600.9 831.3 L602.4 831.4 L603.9 831.6 L605.4 831.7 L606.9 831.9 L608.4 832.1 L609.9 832.2 L611.4 832.4 L612.9 832.5 L614.4 832.7 L615.8 832.8 L617.3 833 L618.8 833.1 L620.3 833.3 L621.8 833.4 L623.3 833.6 L624.8 833.7 L626.3 833.9 L627.8 834 L629.3 834.1 L630.8 834.2 L632.3 834.3 L633.8 834.5 L635.3 834.6 L636.8 834.7 L638.3 834.8 L639.8 834.8 L641.3 834.9 L642.8 835 L644.3 835.1 L645.8 835.1 L647.3 835.2 L648.8 835.2 L650.4 835.2 L651.9 835.3 L653.4 835.3 L654.9 835.3" fill="none" stroke="#ff1414" stroke-width="2.6" stroke-linejoin="round" stroke-linecap="round" />
<path d="M530.7 806.6 L531.9 807.6 L533.2 808.5 L534.4 809.5 L535.6 810.4 L536.9 811.2 L538.2 812.1 L539.5 812.9 L540.8 813.6 L542.1 814.4 L543.4 815.1 L544.8 815.7 L546.1 816.4 L547.5 817 L548.9 817.6 L550.2 818.2 L551.6 818.7 L553 819.2 L554.4 819.7 L555.8 820.2 L557.3 820.7 L558.7 821.1 L560.1 821.5 L561.6 821.9 L563.1 822.2 L564.5 822.6 L566 822.9 L567.5 823.2 L569 823.5 L570.5 823.8 L571.9 824 L573.5 824.3 L575 824.5 L576.5 824.7 L578 824.9 L579.5 825.1 L581.1 825.2 L582.6 825.4 L584.1 825.5 L585.7 825.7 L587.2 825.8 L588.8 825.9 L590.3 826 L591.9 826.1 L593.4 826.2 L595 826.3 L596.5 826.3 L598.1 826.4 L599.7 826.5 L601.2 826.5 L602.8 826.6 L604.4 826.6 L605.9 826.7 L607.5 826.7 L609.1 826.8 L610.6 826.8 L612.2 826.9 L613.8 826.9 L615.3 827 L616.9 827 L618.5 827.1 L620 827.2 L621.6 827.2 L623.1 827.3 L624.7 827.4 L626.2 827.4 L627.8 827.5 L629.3 827.6 L630.8 827.7 L632.4 827.8 L633.9 828 L635.4 828.1 L637 828.2 L638.5 828.4 L640 828.5 L641.5 828.7 L643 828.9 L644.5 829.1 L646 829.3 L647.4 829.5 L648.9 829.8 L650.4 830 L651.8 830.3 L653.3 830.6 L654.7 830.9" fill="none" stroke="#ff1414" stroke-width="2.4" stroke-linejoin="round" stroke-linecap="round" />
<path d="M528.3 804.1 L529.2 805.3 L530 806.5 L531 807.7 L531.9 808.8 L532.9 809.9 L534 811 L535.1 812.1 L536.2 813.1 L537.3 814.1 L538.5 815.1 L539.7 816 L541 816.9 L542.2 817.7 L543.5 818.5 L544.8 819.3 L546.2 820 L547.5 820.7 L548.9 821.3 L550.3 821.9 L551.7 822.4 L553.1 822.9 L554.5 823.4 L555.9 823.8 L557.4 824.1 L558.8 824.5 L560.3 824.8 L561.8 825 L563.3 825.3 L564.8 825.5 L566.2 825.7 L567.7 825.9 L569.2 826 L570.8 826.2 L572.3 826.3 L573.8 826.4 L575.3 826.5 L576.8 826.6 L578.3 826.7 L579.8 826.8 L581.4 826.9 L582.9 827 L584.4 827.2 L585.9 827.3 L587.4 827.4 L588.9 827.5 L590.4 827.7 L591.9 827.8 L593.4 827.9 L594.9 828.1 L596.4 828.2 L597.9 828.4 L599.4 828.5 L600.9 828.7 L602.4 828.8 L603.9 829 L605.4 829.1 L606.9 829.3 L608.4 829.5 L609.9 829.6 L611.4 829.8 L612.9 829.9 L614.4 830.1 L615.8 830.2 L617.3 830.4 L618.8 830.5 L620.3 830.7 L621.8 830.8 L623.3 831 L624.8 831.1 L626.3 831.3 L627.8 831.4 L629.3 831.5 L630.8 831.6 L632.3 831.7 L633.8 831.9 L635.3 832 L636.8 832.1 L638.3 832.2 L639.8 832.2 L641.3 832.3 L642.8 832.4 L644.3 832.5 L645.8 832.5 L647.3 832.6 L648.8 832.6 L650.4 832.6 L651.9 832.7 L653.4 832.7 L654.9 832.7" fill="none" stroke="#ff1414" stroke-width="2.6" stroke-linejoin="round" stroke-linecap="round" />
<path d="M464.3 869 L464.3 760 L464.6 690 L465 657.4" fill="none" stroke="#ff1414" stroke-width="2.4" stroke-linejoin="round" stroke-linecap="round" />
<path d="M655.2 836 L655.2 896.6" fill="none" stroke="#ff1414" stroke-width="2.4" stroke-linejoin="round" stroke-linecap="round" />
<path d="M297 872 L466 871.2" fill="none" stroke="#ff1414" stroke-width="2.4" stroke-linejoin="round" stroke-linecap="round" />
<path d="M655 899 L653.5 899.5 L652.1 899.9 L650.6 900.3 L649.1 900.7 L647.7 901.1 L646.2 901.5 L644.7 901.8 L643.3 902.2 L641.8 902.5 L640.3 902.8 L638.8 903 L637.3 903.3 L635.9 903.5 L634.4 903.8 L632.9 904 L631.4 904.2 L629.9 904.4 L628.4 904.6 L626.9 904.7 L625.4 904.9 L623.9 905 L622.4 905.2 L620.9 905.3 L619.4 905.4 L617.9 905.5 L616.4 905.6 L614.9 905.7 L613.4 905.8 L611.9 905.9 L610.4 906 L608.9 906 L607.4 906.1 L605.8 906.2 L604.3 906.3 L602.8 906.3 L601.3 906.4 L599.8 906.4 L598.3 906.5 L596.8 906.6 L595.3 906.6 L593.8 906.7 L592.3 906.8 L590.7 906.9 L589.2 907 L587.7 907 L586.2 907.1 L584.7 907.2 L583.2 907.3 L581.7 907.4 L580.2 907.6 L578.7 907.7 L577.2 907.8 L575.7 908 L574.2 908.1 L572.7 908.3 L571.2 908.5 L569.7 908.7 L568.2 908.9 L566.7 909.1 L565.2 909.3 L563.7 909.6 L562.3 909.9 L560.8 910.1 L559.3 910.4 L557.8 910.8 L556.3 911.1 L554.9 911.4 L553.4 911.8 L551.9 912.2 L550.4 912.6 L549 913 L547.5 913.5 L546.1 914 L544.6 914.5 L543.2 915 L541.8 915.5 L540.3 916.1 L538.9 916.7 L537.6 917.3 L536.2 918 L534.8 918.7 L533.5 919.4 L532.2 920.1 L530.9 920.8 L529.6 921.6 L528.4 922.4 L527.2 923.3 L526 924.2 L524.9 925.1 L523.7 926 L522.7 927 L521.6 928 L520.6 929 L519.6 930.1 L518.7 931.2 L517.8 932.3 L516.9 933.5 L516.1 934.7 L515.3 936 L514.6 937.2 L513.9 938.6 L513.3 939.9 L512.7 941.3 L512.1 942.7 L511.6 944.1 L511.1 945.6 L510.6 947 L510.2 948.5 L509.8 950 L509.4 951.6 L509 953.1 L508.7 954.7 L508.4 956.2 L508.1 957.8 L507.8 959.3 L507.5 960.9 L507.2 962.5 L506.9 964 L506.6 965.6 L506.4 967.1 L506.1 968.6 L505.8 970.2 L505.5 971.7 L505.2 973.2 L504.9 974.6 L504.6 976.1 L504.3 977.5 L504 978.9 L503.6 980.3 L503.2 981.7 L502.9 983 L502.5 984.3 L502 985.7 L501.6 987 L501.2 988.4 L500.7 989.7 L500.2 991.1 L499.7 992.4 L499.3 993.9 L498.7 995.3 L498.2 996.8 L497.7 998.3 L497.1 999.8 L496.6 1001.4 L496 1003.1 L495.5 1004.8 L494.9 1006.5 L494.3 1008.2 L493.7 1009.9 L493.1 1011.4 L492.5 1012.9 L492 1014.2 L491.4 1015.3 L490.8 1016.2 L490.2 1016.8 L489.7 1017.1 L489.1 1017.2 L488.6 1017 L488.1 1016.5 L487.6 1015.7 L487.1 1014.8 L486.6 1013.6 L486 1012.4 L485.5 1010.9 L485 1009.4 L484.5 1007.9 L483.9 1006.3 L483.3 1004.7 L482.7 1003.1 L482.1 1001.5 L481.5 1000 L480.8 998.5 L480.2 997.1 L479.5 995.7 L478.8 994.3 L478.1 992.9 L477.3 991.6 L476.6 990.2 L475.9 988.9 L475.1 987.6 L474.4 986.3 L473.6 985.1 L472.8 983.8 L472.1 982.5 L471.3 981.3 L470.6 980.1 L469.8 978.8 L469.1 977.6 L468.4 976.3 L467.6 975.1 L466.9 973.8 L466.2 972.5 L465.6 971.3 L464.9 970 L464.3 968.7 L463.6 967.4 L463 966 L462.4 964.7 L461.9 963.3 L461.3 961.9 L460.8 960.5 L460.3 959.1 L459.8 957.6 L459.3 956.2 L458.9 954.7 L458.4 953.2 L458 951.7 L457.5 950.2 L457.1 948.7 L456.7 947.2 L456.3 945.7 L455.9 944.1 L455.5 942.6 L455.1 941.1 L454.7 939.5 L454.3 938 L453.9 936.4 L453.5 934.9 L453.2 933.4 L452.8 931.8 L452.4 930.3 L451.9 928.8 L451.5 927.2 L451.1 925.7 L450.7 924.2 L450.2 922.7 L449.8 921.2 L449.3 919.8 L448.8 918.3 L448.3 916.9 L447.8 915.4 L447.3 914 L446.7 912.6 L446.1 911.2 L445.5 909.9 L444.9 908.5 L444.3 907.2 L443.6 905.9 L442.9 904.6 L442.2 903.4 L441.5 902.2 L440.7 901 L439.9 899.8 L439 898.6 L438.2 897.5 L437.3 896.4 L436.4 895.3 L435.4 894.3 L434.5 893.2 L433.5 892.2 L432.5 891.2 L431.4 890.3 L430.4 889.3 L429.3 888.4 L428.2 887.6 L427.1 886.7 L425.9 885.9 L424.8 885 L423.6 884.3 L422.4 883.5 L421.1 882.7 L419.9 882 L418.6 881.3 L417.4 880.7 L416.1 880 L414.8 879.4 L413.5 878.8 L412.1 878.2 L410.8 877.6 L409.4 877.1 L408 876.6 L406.7 876.1 L405.3 875.6 L403.8 875.2 L402.4 874.8 L401 874.4 L399.6 874 L398.1 873.6 L396.7 873.3 L395.2 873 L393.7 872.7 L392.2 872.4 L390.8 872.2 L389.3 872 L387.8 871.8 L386.3 871.6 L384.8 871.4 L383.3 871.2 L381.8 871.1 L380.3 870.9 L378.7 870.8 L377.2 870.6 L375.7 870.5 L374.2 870.5 L372.7 870.4 L371.1 870.3 L369.6 870.3 L368.1 870.3 L366.6 870.3 L365 870.3 L363.5 870.3 L362 870.3 L360.4 870.3 L358.9 870.4 L357.4 870.4 L355.8 870.5 L354.3 870.5 L352.8 870.6 L351.2 870.7 L349.7 870.7 L348.2 870.8 L346.6 870.9 L345.1 871 L343.6 871 L342 871.1 L340.5 871.2 L339 871.3 L337.4 871.4 L335.9 871.4 L334.4 871.5 L332.9 871.6 L331.3 871.6 L329.8 871.7 L328.3 871.7 L326.8 871.8 L325.3 871.8 L323.8 871.8 L322.3 871.8 L320.8 871.8 L319.3 871.8 L317.8 871.8 L316.3 871.8 L314.8 871.7 L313.3 871.7 L311.8 871.6 L310.3 871.5 L308.8 871.4 L307.4 871.2 L305.9 871.1 L304.4 870.9 L303 870.7 L301.5 870.5 L300.1 870.3" fill="none" stroke="#1414ff" stroke-width="2.6" stroke-linejoin="round" stroke-linecap="round" />
<path d="M653.4 900.8 L651.9 901.3 L650.5 901.7 L649 902.1 L647.5 902.5 L646.1 902.9 L644.6 903.3 L643.1 903.6 L641.7 904 L640.2 904.3 L638.7 904.6 L637.2 904.8 L635.7 905.1 L634.3 905.3 L632.8 905.6 L631.3 905.8 L629.8 906 L628.3 906.2 L626.8 906.4 L625.3 906.5 L623.8 906.7 L622.3 906.8 L620.8 907 L619.3 907.1 L617.8 907.2 L616.3 907.3 L614.8 907.4 L613.3 907.5 L611.8 907.6 L610.3 907.7 L608.8 907.8 L607.3 907.8 L605.8 907.9 L604.2 908 L602.7 908.1 L601.2 908.1 L599.7 908.2 L598.2 908.2 L596.7 908.3 L595.2 908.4 L593.7 908.4 L592.2 908.5 L590.7 908.6 L589.1 908.7 L587.6 908.8 L586.1 908.8 L584.6 908.9 L583.1 909 L581.6 909.1 L580.1 909.2 L578.6 909.4 L577.1 909.5 L575.6 909.6 L574.1 909.8 L572.6 909.9 L571.1 910.1 L569.6 910.3 L568.1 910.5 L566.6 910.7 L565.1 910.9 L563.6 911.1 L562.1 911.4 L560.7 911.7 L559.2 911.9 L557.7 912.2 L556.2 912.6 L554.7 912.9 L553.3 913.2 L551.8 913.6 L550.3 914 L548.8 914.4 L547.4 914.8 L545.9 915.3 L544.5 915.8 L543 916.3 L541.6 916.8 L540.2 917.3 L538.7 917.9 L537.3 918.5 L536 919.1 L534.6 919.8 L533.2 920.5 L531.9 921.2 L530.6 921.9 L529.3 922.6 L528 923.4 L526.8 924.2 L525.6 925.1 L524.4 926 L523.3 926.9 L522.1 927.8 L521.1 928.8 L520 929.8 L519 930.8 L518 931.9 L517.1 933 L516.2 934.1 L515.3 935.3 L514.5 936.5 L513.7 937.8 L513 939 L512.3 940.4 L511.7 941.7 L511.1 943.1 L510.5 944.5 L510 945.9 L509.5 947.4 L509 948.8 L508.6 950.3 L508.2 951.8 L507.8 953.4 L507.4 954.9 L507.1 956.5 L506.8 958 L506.5 959.6 L506.2 961.1 L505.9 962.7 L505.6 964.3 L505.3 965.8 L505 967.4 L504.8 968.9 L504.5 970.4 L504.2 972 L503.9 973.5 L503.6 975 L503.3 976.4 L503 977.9 L502.7 979.3 L502.4 980.7 L502 982.1 L501.6 983.5 L501.3 984.8 L500.9 986.1 L500.4 987.5 L500 988.8 L499.6 990.2 L499.1 991.5 L498.6 992.9 L498.1 994.2 L497.7 995.7 L497.1 997.1 L496.6 998.6 L496.1 1000.1 L495.5 1001.6 L495 1003.2 L494.4 1004.9 L493.9 1006.6 L493.3 1008.3 L492.7 1010 L492.1 1011.7 L491.5 1013.2 L490.9 1014.7 L490.4 1016 L489.8 1017.1 L489.2 1018 L488.6 1018.6 L488.1 1018.9 L487.5 1019 L487 1018.8 L486.5 1018.3 L486 1017.5 L485.5 1016.6 L485 1015.4 L484.4 1014.2 L483.9 1012.7 L483.4 1011.2 L482.9 1009.7 L482.3 1008.1 L481.7 1006.5 L481.1 1004.9 L480.5 1003.3 L479.9 1001.8 L479.2 1000.3 L478.6 998.9 L477.9 997.5 L477.2 996.1 L476.5 994.7 L475.7 993.4 L475 992 L474.3 990.7 L473.5 989.4 L472.8 988.1 L472 986.9 L471.2 985.6 L470.5 984.3 L469.7 983.1 L469 981.9 L468.2 980.6 L467.5 979.4 L466.8 978.1 L466 976.9 L465.3 975.6 L464.6 974.3 L464 973.1 L463.3 971.8 L462.7 970.5 L462 969.2 L461.4 967.8 L460.8 966.5 L460.3 965.1 L459.7 963.7 L459.2 962.3 L458.7 960.9 L458.2 959.4 L457.7 958 L457.3 956.5 L456.8 955 L456.4 953.5 L455.9 952 L455.5 950.5 L455.1 949 L454.7 947.5 L454.3 945.9 L453.9 944.4 L453.5 942.9 L453.1 941.3 L452.7 939.8 L452.3 938.2 L451.9 936.7 L451.6 935.2 L451.2 933.6 L450.8 932.1 L450.3 930.6 L449.9 929 L449.5 927.5 L449.1 926 L448.6 924.5 L448.2 923 L447.7 921.5 L447.2 920.1 L446.8 918.6 L446.2 917.2 L445.7 915.7 L445.2 914.3 L444.6 912.9 L444 911.6 L443.4 910.2 L442.8 908.9 L442.2 907.5 L441.5 906.2 L440.8 905 L440.1 903.7 L439.3 902.5 L438.5 901.3 L437.7 900.1 L436.9 899 L436 897.8 L435.1 896.7 L434.2 895.7 L433.3 894.6 L432.3 893.6 L431.3 892.6 L430.3 891.6 L429.3 890.6 L428.2 889.7 L427.1 888.7 L426 887.9 L424.9 887 L423.8 886.1 L422.6 885.3 L421.4 884.5 L420.3 883.7 L419 883 L417.8 882.3 L416.6 881.6 L415.3 880.9 L414 880.2 L412.8 879.6 L411.5 879 L410.1 878.4 L408.8 877.8 L407.5 877.2 L406.1 876.7 L404.8 876.2 L403.4 875.7 L402 875.3 L400.6 874.8 L399.2 874.4 L397.8 874 L396.4 873.6 L394.9 873.3 L393.5 873 L392.1 872.6 L390.6 872.4 L389.2 872.1 L387.7 871.8 L386.2 871.6 L384.8 871.4 L383.3 871.2 L381.8 871.1 L380.3 870.9 L378.7 870.8 L377.2 870.6 L375.7 870.5 L374.2 870.5 L372.7 870.4 L371.1 870.3 L369.6 870.3 L368.1 870.3 L366.6 870.3 L365 870.3 L363.5 870.3 L362 870.3 L360.4 870.3 L358.9 870.4 L357.4 870.4 L355.8 870.5 L354.3 870.5 L352.8 870.6 L351.2 870.7 L349.7 870.7 L348.2 870.8 L346.6 870.9 L345.1 871 L343.6 871 L342 871.1 L340.5 871.2 L339 871.3 L337.4 871.4 L335.9 871.4 L334.4 871.5 L332.9 871.6 L331.3 871.6 L329.8 871.7 L328.3 871.7 L326.8 871.8 L325.3 871.8 L323.8 871.8 L322.3 871.8 L320.8 871.8 L319.3 871.8 L317.8 871.8 L316.3 871.8 L314.8 871.7 L313.3 871.7 L311.8 871.6 L310.3 871.5 L308.8 871.4 L307.4 871.2 L305.9 871.1 L304.4 870.9 L303 870.7 L301.5 870.5 L300.1 870.3" fill="none" stroke="#1414ff" stroke-width="2.6" stroke-linejoin="round" stroke-linecap="round" />
<path d="M656.8 902.3 L655.3 902.8 L653.9 903.2 L652.4 903.6 L650.9 904 L649.5 904.4 L648 904.8 L646.5 905.1 L645.1 905.5 L643.6 905.8 L642.1 906.1 L640.6 906.3 L639.1 906.6 L637.7 906.8 L636.2 907.1 L634.7 907.3 L633.2 907.5 L631.7 907.7 L630.2 907.9 L628.7 908 L627.2 908.2 L625.7 908.3 L624.2 908.5 L622.7 908.6 L621.2 908.7 L619.7 908.8 L618.2 908.9 L616.7 909 L615.2 909.1 L613.7 909.2 L612.2 909.3 L610.7 909.3 L609.2 909.4 L607.6 909.5 L606.1 909.6 L604.6 909.6 L603.1 909.7 L601.6 909.7 L600.1 909.8 L598.6 909.9 L597.1 909.9 L595.6 910 L594.1 910.1 L592.5 910.2 L591 910.3 L589.5 910.3 L588 910.4 L586.5 910.5 L585 910.6 L583.5 910.7 L582 910.9 L580.5 911 L579 911.1 L577.5 911.3 L576 911.4 L574.5 911.6 L573 911.8 L571.5 912 L570 912.2 L568.5 912.4 L567 912.6 L565.5 912.9 L564.1 913.2 L562.6 913.4 L561.1 913.7 L559.6 914.1 L558.1 914.4 L556.7 914.7 L555.2 915.1 L553.7 915.5 L552.2 915.9 L550.8 916.3 L549.3 916.8 L547.9 917.3 L546.4 917.8 L545 918.3 L543.6 918.8 L542.1 919.4 L540.7 920 L539.4 920.6 L538 921.3 L536.6 922 L535.3 922.7 L534 923.4 L532.7 924.1 L531.4 924.9 L530.2 925.7 L529 926.6 L527.8 927.5 L526.7 928.4 L525.5 929.3 L524.5 930.3 L523.4 931.3 L522.4 932.3 L521.4 933.4 L520.5 934.5 L519.6 935.6 L518.7 936.8 L517.9 938 L517.1 939.3 L516.4 940.5 L515.7 941.9 L515.1 943.2 L514.5 944.6 L513.9 946 L513.4 947.4 L512.9 948.9 L512.4 950.3 L512 951.8 L511.6 953.3 L511.2 954.9 L510.8 956.4 L510.5 958 L510.2 959.5 L509.9 961.1 L509.6 962.6 L509.3 964.2 L509 965.8 L508.7 967.3 L508.4 968.9 L508.2 970.4 L507.9 971.9 L507.6 973.5 L507.3 975 L507 976.5 L506.7 977.9 L506.4 979.4 L506.1 980.8 L505.8 982.2 L505.4 983.6 L505 985 L504.7 986.3 L504.3 987.6 L503.8 989 L503.4 990.3 L503 991.7 L502.5 993 L502 994.4 L501.5 995.7 L501.1 997.2 L500.5 998.6 L500 1000.1 L499.5 1001.6 L498.9 1003.1 L498.4 1004.7 L497.8 1006.4 L497.3 1008.1 L496.7 1009.8 L496.1 1011.5 L495.5 1013.2 L494.9 1014.7 L494.3 1016.2 L493.8 1017.5 L493.2 1018.6 L492.6 1019.5 L492 1020.1 L491.5 1020.4 L490.9 1020.5 L490.4 1020.3 L489.9 1019.8 L489.4 1019 L488.9 1018.1 L488.4 1016.9 L487.8 1015.7 L487.3 1014.2 L486.8 1012.7 L486.3 1011.2 L485.7 1009.6 L485.1 1008 L484.5 1006.4 L483.9 1004.8 L483.3 1003.3 L482.6 1001.8 L482 1000.4 L481.3 999 L480.6 997.6 L479.9 996.2 L479.1 994.9 L478.4 993.5 L477.7 992.2 L476.9 990.9 L476.2 989.6 L475.4 988.4 L474.6 987.1 L473.9 985.8 L473.1 984.6 L472.4 983.4 L471.6 982.1 L470.9 980.9 L470.2 979.6 L469.4 978.4 L468.7 977.1 L468 975.8 L467.4 974.6 L466.7 973.3 L466.1 972 L465.4 970.7 L464.8 969.3 L464.2 968 L463.7 966.6 L463.1 965.2 L462.6 963.8 L462.1 962.4 L461.6 960.9 L461.1 959.5 L460.7 958 L460.2 956.5 L459.8 955 L459.3 953.5 L458.9 952 L458.5 950.5 L458.1 949 L457.7 947.4 L457.3 945.9 L456.9 944.4 L456.5 942.8 L456.1 941.3 L455.7 939.7 L455.3 938.2 L455 936.7 L454.6 935.1 L454.2 933.6 L453.7 932.1 L453.3 930.5 L452.9 929 L452.5 927.5 L452 926 L451.6 924.5 L451.1 923 L450.6 921.5 L450.1 920.1 L449.5 918.6 L449 917.2 L448.4 915.8 L447.8 914.3 L447.2 913 L446.6 911.6 L445.9 910.2 L445.2 908.9 L444.5 907.6 L443.8 906.3 L443 905 L442.2 903.8 L441.4 902.6 L440.5 901.4 L439.6 900.2 L438.7 899 L437.8 897.9 L436.8 896.8 L435.8 895.7 L434.8 894.7 L433.8 893.6 L432.7 892.6 L431.6 891.6 L430.5 890.7 L429.4 889.7 L428.2 888.8 L427.1 887.9 L425.9 887.1 L424.6 886.2 L423.4 885.4 L422.1 884.6 L420.9 883.8 L419.6 883 L418.3 882.3 L416.9 881.6 L415.6 880.9 L414.2 880.2 L412.9 879.6 L411.5 879 L410.1 878.3 L408.7 877.8 L407.3 877.2 L405.8 876.7 L404.4 876.2 L402.9 875.7 L401.4 875.2 L400 874.7 L398.5 874.3 L397 873.9 L395.5 873.5 L394 873.2 L392.4 872.8 L390.9 872.5 L389.4 872.2 L387.9 871.9 L386.3 871.7 L384.8 871.4 L383.3 871.2 L381.8 871.1 L380.3 870.9 L378.7 870.8 L377.2 870.6 L375.7 870.5 L374.2 870.5 L372.7 870.4 L371.1 870.3 L369.6 870.3 L368.1 870.3 L366.6 870.3 L365 870.3 L363.5 870.3 L362 870.3 L360.4 870.3 L358.9 870.4 L357.4 870.4 L355.8 870.5 L354.3 870.5 L352.8 870.6 L351.2 870.7 L349.7 870.7 L348.2 870.8 L346.6 870.9 L345.1 871 L343.6 871 L342 871.1 L340.5 871.2 L339 871.3 L337.4 871.4 L335.9 871.4 L334.4 871.5 L332.9 871.6 L331.3 871.6 L329.8 871.7 L328.3 871.7 L326.8 871.8 L325.3 871.8 L323.8 871.8 L322.3 871.8 L320.8 871.8 L319.3 871.8 L317.8 871.8 L316.3 871.8 L314.8 871.7 L313.3 871.7 L311.8 871.6 L310.3 871.5 L308.8 871.4 L307.4 871.2 L305.9 871.1 L304.4 870.9 L303 870.7 L301.5 870.5 L300.1 870.3" fill="none" stroke="#1414ff" stroke-width="2.6" stroke-linejoin="round" stroke-linecap="round" />
<path d="M655.5 903.8 L654 904.3 L652.6 904.7 L651.1 905.1 L649.6 905.5 L648.2 905.9 L646.7 906.3 L645.2 906.6 L643.8 907 L642.3 907.3 L640.8 907.6 L639.3 907.8 L637.8 908.1 L636.4 908.3 L634.9 908.6 L633.4 908.8 L631.9 909 L630.4 909.2 L628.9 909.4 L627.4 909.5 L625.9 909.7 L624.4 909.8 L622.9 910 L621.4 910.1 L619.9 910.2 L618.4 910.3 L616.9 910.4 L615.4 910.5 L613.9 910.6 L612.4 910.7 L610.9 910.8 L609.4 910.8 L607.9 910.9 L606.3 911 L604.8 911.1 L603.3 911.1 L601.8 911.2 L600.3 911.2 L598.8 911.3 L597.3 911.4 L595.8 911.4 L594.3 911.5 L592.8 911.6 L591.2 911.7 L589.7 911.8 L588.2 911.8 L586.7 911.9 L585.2 912 L583.7 912.1 L582.2 912.2 L580.7 912.4 L579.2 912.5 L577.7 912.6 L576.2 912.8 L574.7 912.9 L573.2 913.1 L571.7 913.3 L570.2 913.5 L568.7 913.7 L567.2 913.9 L565.7 914.1 L564.2 914.4 L562.8 914.7 L561.3 914.9 L559.8 915.2 L558.3 915.6 L556.8 915.9 L555.4 916.2 L553.9 916.6 L552.4 917 L550.9 917.4 L549.5 917.8 L548 918.3 L546.6 918.8 L545.1 919.3 L543.7 919.8 L542.3 920.3 L540.8 920.9 L539.4 921.5 L538.1 922.1 L536.7 922.8 L535.3 923.5 L534 924.2 L532.7 924.9 L531.4 925.6 L530.1 926.4 L528.9 927.2 L527.7 928.1 L526.5 929 L525.4 929.9 L524.2 930.8 L523.2 931.8 L522.1 932.8 L521.1 933.8 L520.1 934.9 L519.2 936 L518.3 937.1 L517.4 938.3 L516.6 939.5 L515.8 940.8 L515.1 942 L514.4 943.4 L513.8 944.7 L513.2 946.1 L512.6 947.5 L512.1 948.9 L511.6 950.4 L511.1 951.8 L510.7 953.3 L510.3 954.8 L509.9 956.4 L509.5 957.9 L509.2 959.5 L508.9 961 L508.6 962.6 L508.3 964.1 L508 965.7 L507.7 967.3 L507.4 968.8 L507.1 970.4 L506.9 971.9 L506.6 973.4 L506.3 975 L506 976.5 L505.7 978 L505.4 979.4 L505.1 980.9 L504.8 982.3 L504.5 983.7 L504.1 985.1 L503.7 986.5 L503.4 987.8 L503 989.1 L502.5 990.5 L502.1 991.8 L501.7 993.2 L501.2 994.5 L500.7 995.9 L500.2 997.2 L499.8 998.7 L499.2 1000.1 L498.7 1001.6 L498.2 1003.1 L497.6 1004.6 L497.1 1006.2 L496.5 1007.9 L496 1009.6 L495.4 1011.3 L494.8 1013 L494.2 1014.7 L493.6 1016.2 L493 1017.7 L492.5 1019 L491.9 1020.1 L491.3 1021 L490.7 1021.6 L490.2 1021.9 L489.6 1022 L489.1 1021.8 L488.6 1021.3 L488.1 1020.5 L487.6 1019.6 L487.1 1018.4 L486.5 1017.2 L486 1015.7 L485.5 1014.2 L485 1012.7 L484.4 1011.1 L483.8 1009.5 L483.2 1007.9 L482.6 1006.3 L482 1004.8 L481.3 1003.3 L480.7 1001.9 L480 1000.5 L479.3 999.1 L478.6 997.7 L477.8 996.4 L477.1 995 L476.4 993.7 L475.6 992.4 L474.9 991.1 L474.1 989.9 L473.3 988.6 L472.6 987.3 L471.8 986.1 L471.1 984.9 L470.3 983.6 L469.6 982.4 L468.9 981.1 L468.1 979.9 L467.4 978.6 L466.7 977.3 L466.1 976.1 L465.4 974.8 L464.8 973.5 L464.1 972.2 L463.5 970.8 L462.9 969.5 L462.4 968.1 L461.8 966.7 L461.3 965.3 L460.8 963.9 L460.3 962.4 L459.8 961 L459.4 959.5 L458.9 958 L458.5 956.5 L458 955 L457.6 953.5 L457.2 952 L456.8 950.5 L456.4 948.9 L456 947.4 L455.6 945.9 L455.2 944.3 L454.8 942.8 L454.4 941.2 L454 939.7 L453.7 938.2 L453.3 936.6 L452.9 935.1 L452.4 933.6 L452 932 L451.6 930.5 L451.2 929 L450.7 927.5 L450.3 926 L449.8 924.5 L449.3 923 L448.8 921.5 L448.3 920.1 L447.7 918.6 L447.2 917.2 L446.6 915.8 L446 914.4 L445.4 913 L444.7 911.6 L444.1 910.3 L443.4 908.9 L442.6 907.6 L441.9 906.3 L441.1 905.1 L440.3 903.8 L439.5 902.6 L438.6 901.4 L437.7 900.3 L436.8 899.1 L435.8 898 L434.9 896.9 L433.9 895.8 L432.8 894.7 L431.8 893.7 L430.7 892.7 L429.6 891.7 L428.5 890.7 L427.4 889.8 L426.2 888.9 L425.1 888 L423.9 887.1 L422.7 886.2 L421.4 885.4 L420.2 884.6 L418.9 883.8 L417.6 883 L416.3 882.3 L415 881.6 L413.7 880.9 L412.3 880.2 L411 879.5 L409.6 878.9 L408.2 878.3 L406.8 877.7 L405.4 877.1 L404 876.6 L402.6 876.1 L401.1 875.6 L399.7 875.1 L398.2 874.6 L396.7 874.2 L395.3 873.8 L393.8 873.4 L392.3 873 L390.8 872.6 L389.3 872.3 L387.8 872 L386.3 871.7 L384.8 871.4 L383.3 871.2 L381.8 871.1 L380.3 870.9 L378.7 870.8 L377.2 870.6 L375.7 870.5 L374.2 870.5 L372.7 870.4 L371.1 870.3 L369.6 870.3 L368.1 870.3 L366.6 870.3 L365 870.3 L363.5 870.3 L362 870.3 L360.4 870.3 L358.9 870.4 L357.4 870.4 L355.8 870.5 L354.3 870.5 L352.8 870.6 L351.2 870.7 L349.7 870.7 L348.2 870.8 L346.6 870.9 L345.1 871 L343.6 871 L342 871.1 L340.5 871.2 L339 871.3 L337.4 871.4 L335.9 871.4 L334.4 871.5 L332.9 871.6 L331.3 871.6 L329.8 871.7 L328.3 871.7 L326.8 871.8 L325.3 871.8 L323.8 871.8 L322.3 871.8 L320.8 871.8 L319.3 871.8 L317.8 871.8 L316.3 871.8 L314.8 871.7 L313.3 871.7 L311.8 871.6 L310.3 871.5 L308.8 871.4 L307.4 871.2 L305.9 871.1 L304.4 870.9 L303 870.7 L301.5 870.5 L300.1 870.3" fill="none" stroke="#1414ff" stroke-width="2.6" stroke-linejoin="round" stroke-linecap="round" />
<path d="M486.5 1012 L488.5 1025 L489.2 1039 L490.5 1027 L493 1014" fill="none" stroke="#1414ff" stroke-width="2.6" stroke-linejoin="round" stroke-linecap="round" />
<path d="M471.1 780.1 L471.1 778.5 L471.1 776.9 L471.1 775.4 L471.1 773.8 L471.1 772.2 L471.1 770.7 L471.1 769.1 L471.2 767.6 L471.2 766 L471.2 764.5 L471.3 763 L471.3 761.4 L471.3 759.9 L471.4 758.4 L471.4 756.9 L471.5 755.3 L471.5 753.8 L471.6 752.3 L471.6 750.8 L471.7 749.3 L471.8 747.8 L471.8 746.3 L471.9 744.8 L472 743.4 L472 741.9 L472.1 740.4 L472.2 738.9 L472.2 737.4 L472.3 735.9 L472.4 734.5 L472.5 733 L472.6 731.5 L472.7 730 L472.7 728.6 L472.8 727.1 L472.9 725.6 L473 724.1 L473.1 722.7 L473.2 721.2 L473.3 719.7 L473.3 718.3 L473.4 716.8 L473.5 715.3 L473.6 713.8 L473.7 712.4 L473.8 710.9 L473.9 709.4 L474 708 L474 706.5 L474.1 705 L474.2 703.5 L474.3 702 L474.4 700.6 L474.5 699.1 L474.5 697.6 L474.6 696.1 L474.7 694.6 L474.8 693.1 L474.9 691.6 L474.9 690.1 L475 688.6 L475.1 687.1 L475.1 685.6 L475.2 684.1 L475.3 682.6 L475.3 681 L475.4 679.5 L475.4 678 L475.5 676.5 L475.5 674.9 L475.6 673.4 L475.6 671.8 L475.6 670.3 L475.7 668.7 L475.7 667.2 L475.7 665.6 L475.8 664 L475.8 662.5 L475.8 660.9 L475.8 659.3 L475.8 657.7 L475.8 656.1 L475.8 654.5 L475.8 652.9 L475.8 651.2 L475.8 649.6 L475.8 648 L475.8 646.3 L475.7 644.7 L475.7 643.1 L475.8 641.5 L475.8 639.9 L475.9 638.3 L476.1 636.8 L476.2 635.3 L476.5 633.9 L476.8 632.5 L477.2 631.2 L477.7 630 L478.2 628.8 L478.9 627.7 L479.6 626.7 L480.5 625.7 L481.4 624.9 L482.5 624.2 L483.6 623.7 L484.6 623.5 L485.5 623.7 L486.2 624.2 L486.8 625 L487.4 626.2 L487.8 627.6 L488.2 629.1 L488.5 630.8 L488.8 632.6 L489.1 634.4 L489.4 636.2 L489.8 638 L490.2 639.7 L490.7 641.2 L491.3 642.7 L491.9 644.1 L492.5 645.4 L493.2 646.6 L493.8 647.9 L494.5 649.1 L495.2 650.3 L495.9 651.5 L496.5 652.7 L497.2 654 L497.8 655.2 L498.4 656.5 L498.9 657.9 L499.5 659.2 L500 660.6 L500.5 661.9 L501 663.3 L501.5 664.7 L501.9 666.1 L502.4 667.6 L502.8 669 L503.2 670.5 L503.5 672 L503.9 673.4 L504.3 674.9 L504.6 676.4 L504.9 677.9 L505.2 679.4 L505.5 681 L505.7 682.5 L506 684 L506.2 685.5 L506.5 687 L506.7 688.6 L506.9 690.1 L507.1 691.6 L507.3 693.1 L507.5 694.6 L507.6 696.2 L507.8 697.7 L507.9 699.2 L508.1 700.7 L508.2 702.3 L508.3 703.8 L508.4 705.3 L508.6 706.8 L508.7 708.4 L508.8 709.9 L508.9 711.4 L509 712.9 L509.1 714.4 L509.1 715.9 L509.2 717.5 L509.3 719 L509.4 720.5 L509.5 722 L509.6 723.5 L509.7 725 L509.8 726.5 L509.8 728.1 L509.9 729.6 L510 731.1 L510.1 732.6 L510.2 734.1 L510.4 735.6 L510.5 737.1 L510.6 738.6 L510.7 740.1 L510.9 741.6 L511 743 L511.1 744.5 L511.3 746 L511.5 747.5 L511.6 749 L511.8 750.5 L512 751.9 L512.2 753.4 L512.5 754.9 L512.7 756.3 L512.9 757.8 L513.2 759.3 L513.5 760.7 L513.8 762.2 L514.1 763.6 L514.4 765.1 L514.7 766.5 L515.1 768 L515.4 769.4 L515.8 770.8 L516.2 772.3 L516.7 773.7 L517.1 775.1 L517.6 776.6 L518 778 L518.6 779.4 L519.1 780.8 L519.6 782.2 L520.2 783.6 L520.8 785 L521.4 786.4 L522.1 787.8 L522.7 789.1 L523.4 790.5 L524.1 791.9 L524.9 793.3 L525.7 794.6 L526.5 795.9 L527.3 797.2 L528.1 798.5 L529 799.8 L529.9 801.1 L530.9 802.3 L531.8 803.5 L532.8 804.7 L533.8 805.8 L534.9 806.9 L535.9 807.9 L537 808.9 L538.2 809.9 L539.3 810.8 L540.5 811.7 L541.7 812.5 L542.9 813.3 L544.2 814 L545.5 814.7 L546.8 815.3 L548.2 815.9 L549.5 816.5 L550.9 817 L552.3 817.4 L553.8 817.9 L555.2 818.3 L556.7 818.6 L558.1 818.9 L559.6 819.2 L561.1 819.5 L562.6 819.7 L564.1 820 L565.7 820.2 L567.2 820.3 L568.7 820.5 L570.3 820.6 L571.8 820.8 L573.4 820.9 L574.9 821 L576.5 821.1 L578 821.2 L579.6 821.2 L581.1 821.3 L582.6 821.4 L584.2 821.5 L585.7 821.5 L587.2 821.6 L588.7 821.7 L590.2 821.8 L591.7 821.8 L593.2 821.9 L594.7 822 L596.2 822.1 L597.7 822.2 L599.1 822.3 L600.6 822.4 L602.1 822.5 L603.6 822.7 L605.1 822.8 L606.6 823 L608 823.1 L609.5 823.3 L611 823.5 L612.5 823.6 L614 823.8 L615.5 824.1 L617 824.3 L618.5 824.5 L620 824.8 L621.5 825 L623 825.2 L624.5 825.5 L626 825.7 L627.5 826 L629 826.2 L630.5 826.5 L632.1 826.7 L633.6 826.9 L635.1 827.1 L636.6 827.3 L638.1 827.5 L639.6 827.6 L641.1 827.8 L642.6 827.9 L644.1 828 L645.7 828 L647.2 828.1 L648.7 828.1 L650.1 828.1 L651.6 828 L653.1 827.9 L654.6 827.8 L656.1 827.6" fill="none" stroke="#1414ff" stroke-width="2.6" stroke-linejoin="round" stroke-linecap="round" />
<path d="M472.9 781.6 L472.9 780 L472.9 778.4 L472.9 776.9 L472.9 775.3 L472.9 773.7 L472.9 772.2 L472.9 770.6 L473 769.1 L473 767.5 L473 766 L473.1 764.5 L473.1 762.9 L473.1 761.4 L473.2 759.9 L473.2 758.4 L473.3 756.8 L473.3 755.3 L473.4 753.8 L473.4 752.3 L473.5 750.8 L473.6 749.3 L473.6 747.8 L473.7 746.3 L473.8 744.9 L473.8 743.4 L473.9 741.9 L474 740.4 L474 738.9 L474.1 737.4 L474.2 736 L474.3 734.5 L474.4 733 L474.5 731.5 L474.5 730.1 L474.6 728.6 L474.7 727.1 L474.8 725.6 L474.9 724.2 L475 722.7 L475.1 721.2 L475.1 719.8 L475.2 718.3 L475.3 716.8 L475.4 715.3 L475.5 713.9 L475.6 712.4 L475.7 710.9 L475.8 709.5 L475.8 708 L475.9 706.5 L476 705 L476.1 703.5 L476.2 702.1 L476.3 700.6 L476.3 699.1 L476.4 697.6 L476.5 696.1 L476.6 694.6 L476.7 693.1 L476.7 691.6 L476.8 690.1 L476.9 688.6 L476.9 687.1 L477 685.6 L477.1 684.1 L477.1 682.5 L477.2 681 L477.2 679.5 L477.3 678 L477.3 676.4 L477.4 674.9 L477.4 673.3 L477.4 671.8 L477.5 670.2 L477.5 668.7 L477.5 667.1 L477.6 665.5 L477.6 664 L477.6 662.4 L477.6 660.8 L477.6 659.2 L477.6 657.6 L477.6 656 L477.6 654.4 L477.6 652.7 L477.6 651.1 L477.6 649.5 L477.6 647.8 L477.5 646.2 L477.5 644.6 L477.6 643 L477.6 641.4 L477.7 639.8 L477.9 638.3 L478 636.8 L478.3 635.4 L478.6 634 L479 632.7 L479.5 631.5 L480 630.3 L480.7 629.2 L481.4 628.2 L482.3 627.2 L483.2 626.4 L484.3 625.7 L485.4 625.2 L486.4 625 L487.3 625.2 L488 625.7 L488.6 626.5 L489.2 627.7 L489.6 629.1 L490 630.6 L490.3 632.3 L490.6 634.1 L490.9 635.9 L491.2 637.7 L491.6 639.5 L492 641.2 L492.5 642.7 L493.1 644.2 L493.7 645.6 L494.3 646.9 L495 648.1 L495.6 649.4 L496.3 650.6 L497 651.8 L497.7 653 L498.3 654.2 L499 655.5 L499.6 656.7 L500.2 658 L500.7 659.4 L501.3 660.7 L501.8 662.1 L502.3 663.4 L502.8 664.8 L503.3 666.2 L503.7 667.6 L504.2 669.1 L504.6 670.5 L505 672 L505.3 673.5 L505.7 674.9 L506.1 676.4 L506.4 677.9 L506.7 679.4 L507 680.9 L507.3 682.5 L507.5 684 L507.8 685.5 L508 687 L508.3 688.5 L508.5 690.1 L508.7 691.6 L508.9 693.1 L509.1 694.6 L509.3 696.1 L509.4 697.7 L509.6 699.2 L509.7 700.7 L509.9 702.2 L510 703.8 L510.1 705.3 L510.2 706.8 L510.4 708.3 L510.5 709.9 L510.6 711.4 L510.7 712.9 L510.8 714.4 L510.9 715.9 L510.9 717.4 L511 719 L511.1 720.5 L511.2 722 L511.3 723.5 L511.4 725 L511.5 726.5 L511.6 728 L511.6 729.6 L511.7 731.1 L511.8 732.6 L511.9 734.1 L512 735.6 L512.2 737.1 L512.3 738.6 L512.4 740.1 L512.5 741.6 L512.7 743.1 L512.8 744.5 L512.9 746 L513.1 747.5 L513.3 749 L513.4 750.5 L513.6 752 L513.8 753.4 L514 754.9 L514.3 756.4 L514.5 757.8 L514.7 759.3 L515 760.8 L515.3 762.2 L515.6 763.7 L515.9 765.1 L516.2 766.6 L516.5 768 L516.9 769.5 L517.2 770.9 L517.6 772.3 L518 773.8 L518.5 775.2 L518.9 776.6 L519.4 778.1 L519.8 779.5 L520.4 780.9 L520.9 782.3 L521.4 783.7 L522 785.1 L522.6 786.5 L523.2 787.9 L523.9 789.3 L524.5 790.6 L525.2 792 L525.9 793.4 L526.7 794.8 L527.5 796.1 L528.3 797.4 L529.1 798.7 L529.9 800 L530.8 801.3 L531.7 802.6 L532.7 803.8 L533.6 805 L534.6 806.2 L535.6 807.3 L536.7 808.4 L537.7 809.4 L538.8 810.4 L540 811.4 L541.1 812.3 L542.3 813.2 L543.5 814 L544.7 814.8 L546 815.5 L547.3 816.2 L548.6 816.8 L550 817.4 L551.3 818 L552.7 818.5 L554.1 818.9 L555.6 819.4 L557 819.8 L558.5 820.1 L559.9 820.4 L561.4 820.7 L562.9 821 L564.4 821.2 L565.9 821.5 L567.5 821.7 L569 821.8 L570.5 822 L572.1 822.1 L573.6 822.3 L575.2 822.4 L576.7 822.5 L578.3 822.6 L579.8 822.7 L581.4 822.7 L582.9 822.8 L584.4 822.9 L586 823 L587.5 823 L589 823.1 L590.5 823.2 L592 823.3 L593.5 823.3 L595 823.4 L596.5 823.5 L598 823.6 L599.5 823.7 L600.9 823.8 L602.4 823.9 L603.9 824 L605.4 824.2 L606.9 824.3 L608.4 824.5 L609.8 824.6 L611.3 824.8 L612.8 825 L614.3 825.1 L615.8 825.3 L617.3 825.6 L618.8 825.8 L620.3 826 L621.8 826.3 L623.3 826.5 L624.8 826.7 L626.3 827 L627.8 827.2 L629.3 827.5 L630.8 827.7 L632.3 828 L633.9 828.2 L635.4 828.4 L636.9 828.6 L638.4 828.8 L639.9 829 L641.4 829.1 L642.9 829.3 L644.4 829.4 L645.9 829.5 L647.5 829.5 L649 829.6 L650.5 829.6 L651.9 829.6 L653.4 829.5 L654.9 829.4 L656.4 829.3 L657.9 829.1" fill="none" stroke="#1414ff" stroke-width="2.6" stroke-linejoin="round" stroke-linecap="round" />
<path d="M469.9 781.3 L469.9 779.7 L469.9 778.1 L469.9 776.6 L469.9 775 L469.9 773.4 L469.9 771.9 L469.9 770.3 L470 768.8 L470 767.2 L470 765.7 L470.1 764.2 L470.1 762.6 L470.1 761.1 L470.2 759.6 L470.2 758.1 L470.3 756.5 L470.3 755 L470.4 753.5 L470.4 752 L470.5 750.5 L470.6 749 L470.6 747.5 L470.7 746 L470.8 744.6 L470.8 743.1 L470.9 741.6 L471 740.1 L471 738.6 L471.1 737.1 L471.2 735.7 L471.3 734.2 L471.4 732.7 L471.5 731.2 L471.5 729.8 L471.6 728.3 L471.7 726.8 L471.8 725.3 L471.9 723.9 L472 722.4 L472.1 720.9 L472.1 719.5 L472.2 718 L472.3 716.5 L472.4 715 L472.5 713.6 L472.6 712.1 L472.7 710.6 L472.8 709.2 L472.8 707.7 L472.9 706.2 L473 704.7 L473.1 703.2 L473.2 701.8 L473.3 700.3 L473.3 698.8 L473.4 697.3 L473.5 695.8 L473.6 694.3 L473.7 692.8 L473.7 691.3 L473.8 689.8 L473.9 688.3 L473.9 686.8 L474 685.3 L474.1 683.8 L474.1 682.2 L474.2 680.7 L474.2 679.2 L474.3 677.7 L474.3 676.1 L474.4 674.6 L474.4 673 L474.4 671.5 L474.5 669.9 L474.5 668.4 L474.5 666.8 L474.6 665.2 L474.6 663.7 L474.6 662.1 L474.6 660.5 L474.6 658.9 L474.6 657.3 L474.6 655.7 L474.6 654.1 L474.6 652.4 L474.6 650.8 L474.6 649.2 L474.6 647.5 L474.5 645.9 L474.5 644.3 L474.6 642.7 L474.6 641.1 L474.7 639.5 L474.9 638 L475 636.5 L475.3 635.1 L475.6 633.7 L476 632.4 L476.5 631.2 L477 630 L477.7 628.9 L478.4 627.9 L479.3 626.9 L480.2 626.1 L481.3 625.4 L482.4 624.9 L483.4 624.7 L484.3 624.9 L485 625.4 L485.6 626.2 L486.2 627.4 L486.6 628.8 L487 630.3 L487.3 632 L487.6 633.8 L487.9 635.6 L488.2 637.4 L488.6 639.2 L489 640.9 L489.5 642.4 L490.1 643.9 L490.7 645.3 L491.3 646.6 L492 647.8 L492.6 649.1 L493.3 650.3 L494 651.5 L494.7 652.7 L495.3 653.9 L496 655.2 L496.6 656.4 L497.2 657.7 L497.7 659.1 L498.3 660.4 L498.8 661.8 L499.3 663.1 L499.8 664.5 L500.3 665.9 L500.7 667.3 L501.2 668.8 L501.6 670.2 L502 671.7 L502.3 673.2 L502.7 674.6 L503.1 676.1 L503.4 677.6 L503.7 679.1 L504 680.6 L504.3 682.2 L504.5 683.7 L504.8 685.2 L505 686.7 L505.3 688.2 L505.5 689.8 L505.7 691.3 L505.9 692.8 L506.1 694.3 L506.3 695.8 L506.4 697.4 L506.6 698.9 L506.7 700.4 L506.9 701.9 L507 703.5 L507.1 705 L507.2 706.5 L507.4 708 L507.5 709.6 L507.6 711.1 L507.7 712.6 L507.8 714.1 L507.9 715.6 L507.9 717.1 L508 718.7 L508.1 720.2 L508.2 721.7 L508.3 723.2 L508.4 724.7 L508.5 726.2 L508.6 727.7 L508.6 729.3 L508.7 730.8 L508.8 732.3 L508.9 733.8 L509 735.3 L509.2 736.8 L509.3 738.3 L509.4 739.8 L509.5 741.3 L509.7 742.8 L509.8 744.2 L509.9 745.7 L510.1 747.2 L510.3 748.7 L510.4 750.2 L510.6 751.7 L510.8 753.1 L511 754.6 L511.3 756.1 L511.5 757.5 L511.7 759 L512 760.5 L512.3 761.9 L512.6 763.4 L512.9 764.8 L513.2 766.3 L513.5 767.7 L513.9 769.2 L514.2 770.6 L514.6 772 L515 773.5 L515.5 774.9 L515.9 776.3 L516.4 777.8 L516.8 779.2 L517.4 780.6 L517.9 782 L518.4 783.4 L519 784.8 L519.6 786.2 L520.2 787.6 L520.9 789 L521.5 790.3 L522.2 791.7 L522.9 793.1 L523.7 794.5 L524.5 795.8 L525.3 797.1 L526.1 798.4 L526.9 799.7 L527.8 801 L528.7 802.3 L529.7 803.5 L530.6 804.7 L531.6 805.9 L532.6 807 L533.7 808.1 L534.7 809.1 L535.8 810.1 L537 811.1 L538.1 812 L539.3 812.9 L540.5 813.7 L541.7 814.5 L543 815.2 L544.3 815.9 L545.6 816.5 L547 817.1 L548.3 817.7 L549.7 818.2 L551.1 818.6 L552.6 819.1 L554 819.5 L555.5 819.8 L556.9 820.1 L558.4 820.4 L559.9 820.7 L561.4 820.9 L562.9 821.2 L564.5 821.4 L566 821.5 L567.5 821.7 L569.1 821.8 L570.6 822 L572.2 822.1 L573.7 822.2 L575.3 822.3 L576.8 822.4 L578.4 822.4 L579.9 822.5 L581.4 822.6 L583 822.7 L584.5 822.7 L586 822.8 L587.5 822.9 L589 823 L590.5 823 L592 823.1 L593.5 823.2 L595 823.3 L596.5 823.4 L597.9 823.5 L599.4 823.6 L600.9 823.7 L602.4 823.9 L603.9 824 L605.4 824.2 L606.8 824.3 L608.3 824.5 L609.8 824.7 L611.3 824.8 L612.8 825 L614.3 825.3 L615.8 825.5 L617.3 825.7 L618.8 826 L620.3 826.2 L621.8 826.4 L623.3 826.7 L624.8 826.9 L626.3 827.2 L627.8 827.4 L629.3 827.7 L630.9 827.9 L632.4 828.1 L633.9 828.3 L635.4 828.5 L636.9 828.7 L638.4 828.8 L639.9 829 L641.4 829.1 L642.9 829.2 L644.5 829.2 L646 829.3 L647.5 829.3 L648.9 829.3 L650.4 829.2 L651.9 829.1 L653.4 829 L654.9 828.8" fill="none" stroke="#1414ff" stroke-width="2.6" stroke-linejoin="round" stroke-linecap="round" />
<path d="M488.2 644.9 L488.1 646.5 L488 648 L488 649.6 L487.9 651.1 L487.8 652.7 L487.7 654.3 L487.7 655.9 L487.6 657.4 L487.5 659 L487.5 660.6 L487.5 662.2 L487.4 663.8 L487.4 665.3 L487.5 666.9 L487.5 668.5 L487.6 670 L487.7 671.5 L487.9 673 L488.1 674.5 L488.3 676 L488.6 677.5 L488.9 678.9 L489.3 680.3 L489.7 681.7 L490.2 683.1 L490.7 684.4 L491.3 685.8 L492 687 L492.7 688.3 L493.5 689.5 L494.4 690.7 L495.3 691.8 L496.3 693 L497.3 694.1 L498.2 695.2 L499.2 696.4 L500.2 697.5 L501.1 698.7 L501.9 700 L502.7 701.2 L503.4 702.5 L504 703.9 L504.5 705.4 L504.9 706.9 L505.1 708.5 L505.2 710.2 L505 712" fill="none" stroke="#1414ff" stroke-width="2.4" stroke-linejoin="round" stroke-linecap="round" />
<path d="M521.5 795.3 L522.4 796.7 L523.4 798 L524.3 799.3 L525.3 800.6 L526.3 801.8 L527.4 802.9 L528.4 804.1 L529.5 805.2 L530.5 806.2 L531.6 807.2 L532.8 808.2 L533.9 809.2 L535.1 810.1 L536.2 811 L537.4 811.8 L538.6 812.6 L539.9 813.4 L541.1 814.2 L542.4 814.9 L543.6 815.6 L544.9 816.3 L546.2 816.9 L547.5 817.5 L548.9 818.1 L550.2 818.6 L551.6 819.2 L553 819.7 L554.3 820.2 L555.7 820.6 L557.1 821.1 L558.6 821.5 L560 821.9 L561.4 822.2 L562.9 822.6 L564.3 822.9 L565.8 823.2 L567.3 823.5 L568.8 823.8 L570.3 824 L571.8 824.3 L573.3 824.5 L574.8 824.7 L576.3 824.9 L577.9 825.1 L579.4 825.2 L581 825.4 L582.5 825.5 L584.1 825.6 L585.6 825.8 L587.2 825.9 L588.7 826 L590.3 826 L591.9 826.1 L593.5 826.2 L595 826.2 L596.6 826.3 L598.2 826.4 L599.8 826.4 L601.4 826.4 L603 826.5 L604.5 826.5 L606.1 826.5 L607.7 826.6 L609.3 826.6 L610.9 826.6 L612.5 826.6 L614 826.7 L615.6 826.7 L617.2 826.7 L618.8 826.8 L620.3 826.8 L621.9 826.8 L623.4 826.9 L625 826.9 L626.5 827 L628.1 827 L629.6 827.1 L631.1 827.2 L632.7 827.3 L634.2 827.3 L635.7 827.4 L637.2 827.6 L638.7 827.7 L640.2 827.8 L641.6 827.9 L643.1 828.1 L644.5 828.3 L646 828.5 L647.4 828.7 L648.9 828.9 L650.3 829.1 L651.7 829.3 L653.1 829.6 L654.4 829.9 L655.8 830.2" fill="none" stroke="#1414ff" stroke-width="2.4" stroke-linejoin="round" stroke-linecap="round" />
<path d="M161 870.4 L466 870.4" fill="none" stroke="#1414ff" stroke-width="3.4" stroke-linejoin="round" stroke-linecap="round" stroke-linecap="round"/>
<path d="M466.6 870 L466.9 800 L467 700 L466.8 648 L468.2 700 L469.2 760 L470 790 L471 780" fill="none" stroke="#1414ff" stroke-width="2.8" stroke-linejoin="round" stroke-linecap="round" />
<path d="M465.5 870 L466 790 L468 750 L471.5 745 L473 712" fill="none" stroke="#1414ff" stroke-width="2.6" stroke-linejoin="round" stroke-linecap="round" />
<path d="M468.5 870 L468.5 820 L469.5 790 L472 760" fill="none" stroke="#1414ff" stroke-width="2.4" stroke-linejoin="round" stroke-linecap="round" />
<path d="M656.1 827.6 L656.5 835 L655.8 870 L655 901.7" fill="none" stroke="#1414ff" stroke-width="3.0" stroke-linejoin="round" stroke-linecap="round" />
<path d="M598 821.2 L602.5 819.5 L604.5 814.5 L607 813.2 L610.5 814 L613.5 818 L617 822 L621 824.5" fill="none" stroke="#1414ff" stroke-width="2.6" stroke-linejoin="round" stroke-linecap="round" />
<path d="M603 823 L606.5 818.5 L610 820.5 L616 826" fill="none" stroke="#ff1414" stroke-width="2.4" stroke-linejoin="round" stroke-linecap="round" />
<path d="M939.4 863.5 L984 863.5" fill="none" stroke="#ff1010" stroke-width="3.0" stroke-linejoin="round" stroke-linecap="round" />
<path d="M1278.6 863.7 L1280.2 863.9 L1281.8 864.1 L1283.5 864.2 L1285.2 864.2 L1286.8 864 L1288.4 863.7 L1289.9 863.3 L1291.3 862.7 L1292.5 862 L1293.5 861.1 L1294.4 860 L1295.2 858.8 L1295.8 857.5 L1296.3 856.2 L1296.8 854.8 L1297.3 853.4 L1297.8 852 L1298.2 850.6 L1298.5 849.2 L1298.9 847.7 L1299.2 846.3 L1299.5 844.9 L1299.8 843.4 L1300 842 L1300.3 840.5 L1300.5 839.1 L1300.7 837.6 L1300.8 836.1 L1301 834.7 L1301.1 833.2 L1301.2 831.7 L1301.3 830.2 L1301.4 828.7 L1301.4 827.2 L1301.5 825.7 L1301.5 824.2 L1301.5 822.7 L1301.5 821.2 L1301.5 819.7 L1301.5 818.2 L1301.5 816.6 L1301.5 815.1 L1301.5 813.6 L1301.4 812.1 L1301.4 810.5 L1301.3 809 L1301.3 807.5 L1301.2 806 L1301.2 804.4 L1301.1 802.9 L1301.1 801.4 L1301 799.8 L1301 798.3 L1300.9 796.8 L1300.9 795.2 L1300.9 793.7 L1300.8 792.2 L1300.8 790.7 L1300.8 789.1 L1300.8 787.6 L1300.8 786.1 L1300.8 784.6 L1300.8 783.1 L1300.9 781.6 L1300.9 780 L1301 778.5 L1301.1 777 L1301.2 775.5 L1301.3 774 L1301.4 772.5 L1301.5 771 L1301.7 769.6 L1301.8 768.1 L1302 766.6 L1302.1 765.1 L1302.3 763.6 L1302.5 762.1 L1302.7 760.7 L1302.9 759.2 L1303.1 757.7 L1303.3 756.2 L1303.5 754.7 L1303.7 753.3 L1303.9 751.8 L1304.1 750.3 L1304.4 748.8 L1304.6 747.4 L1304.8 745.9 L1305 744.4 L1305.3 742.9 L1305.5 741.5 L1305.7 740 L1305.9 738.5 L1306.2 737 L1306.4 735.6 L1306.6 734.1 L1306.8 732.6 L1307 731.1 L1307.2 729.6 L1307.4 728.1 L1307.6 726.7 L1307.8 725.2 L1308 723.7 L1308.2 722.2 L1308.3 720.7 L1308.5 719.2 L1308.7 717.7 L1308.8 716.2 L1309 714.7 L1309.1 713.2 L1309.3 711.7 L1309.4 710.2 L1309.5 708.7 L1309.7 707.2 L1309.8 705.7 L1309.9 704.2 L1310.1 702.6 L1310.2 701.1 L1310.3 699.6 L1310.4 698.1 L1310.5 696.6 L1310.7 695.1 L1310.8 693.6 L1310.9 692.1 L1311 690.6 L1311.1 689.1 L1311.2 687.6 L1311.3 686.1 L1311.4 684.6 L1311.5 683.1 L1311.7 681.6 L1311.8 680 L1311.9 678.5 L1312 677 L1312.1 675.5 L1312.2 674 L1312.3 672.5 L1312.4 671 L1312.6 669.6 L1312.7 668.1 L1312.8 666.6 L1312.9 665.1 L1313 663.6 L1313.2 662.1 L1313.3 660.6 L1313.4 659.1 L1313.6 657.6 L1313.7 656.1 L1313.9 654.6 L1314.1 653.1 L1314.2 651.6 L1314.4 650.2 L1314.6 648.6 L1314.8 647.1 L1315 645.6 L1315.3 644.1 L1315.5 642.6 L1315.7 641.1 L1316 639.6 L1316.3 638 L1316.5 636.5 L1316.8 635 L1317.2 633.4 L1317.5 631.9 L1317.8 630.3 L1318.2 628.8 L1318.6 627.2 L1319 625.6 L1319.4 624.1 L1319.9 622.6 L1320.3 621.3 L1320.9 620.2 L1321.4 619.3 L1322 618.8 L1322.7 618.6 L1323.4 618.7 L1324.2 619.3 L1325 620.1 L1325.8 621.1 L1326.7 622.4 L1327.5 623.8 L1328.3 625.2 L1329.1 626.7 L1329.9 628.2 L1330.7 629.7 L1331.4 631.1 L1332.1 632.6 L1332.7 634 L1333.4 635.4 L1334 636.9 L1334.6 638.3 L1335.2 639.7 L1335.7 641.1 L1336.3 642.6 L1336.8 644 L1337.3 645.4 L1337.7 646.8 L1338.2 648.3 L1338.6 649.7 L1339.1 651.1 L1339.5 652.6 L1339.9 654 L1340.2 655.4 L1340.6 656.9 L1341 658.3 L1341.3 659.8 L1341.6 661.2 L1341.9 662.7 L1342.2 664.1 L1342.5 665.6 L1342.8 667 L1343.1 668.5 L1343.4 670 L1343.7 671.4 L1343.9 672.9 L1344.2 674.4 L1344.4 675.9 L1344.7 677.3 L1344.9 678.8 L1345.1 680.3 L1345.4 681.8 L1345.6 683.3 L1345.8 684.7 L1346 686.2 L1346.2 687.7 L1346.4 689.2 L1346.7 690.7 L1346.9 692.2 L1347.1 693.7 L1347.3 695.2 L1347.5 696.7 L1347.7 698.2 L1347.9 699.7 L1348.1 701.2 L1348.3 702.7 L1348.5 704.2 L1348.7 705.7 L1348.9 707.2 L1349.2 708.7 L1349.4 710.2 L1349.6 711.6 L1349.8 713.1 L1350 714.6 L1350.3 716.1 L1350.5 717.6 L1350.8 719.1 L1351 720.6 L1351.3 722.1 L1351.5 723.6 L1351.8 725 L1352.1 726.5 L1352.3 728 L1352.6 729.5 L1352.9 731 L1353.2 732.4 L1353.6 733.9 L1353.9 735.4 L1354.2 736.8 L1354.6 738.3 L1354.9 739.8 L1355.3 741.2 L1355.7 742.7 L1356 744.1 L1356.4 745.6 L1356.8 747 L1357.2 748.4 L1357.6 749.9 L1358 751.3 L1358.5 752.8 L1358.9 754.2 L1359.3 755.7 L1359.7 757.1 L1360.1 758.6 L1360.5 760 L1360.9 761.5 L1361.3 762.9 L1361.7 764.4 L1362 765.8 L1362.4 767.3 L1362.8 768.8 L1363.1 770.3 L1363.5 771.7 L1363.9 773.2 L1364.3 774.6 L1364.7 776.1 L1365.1 777.5 L1365.6 779 L1366 780.4 L1366.6 781.8 L1367.1 783.2 L1367.7 784.6 L1368.3 785.9 L1369 787.3 L1369.8 788.6 L1370.6 789.9 L1371.4 791.2 L1372.3 792.4 L1373.2 793.6 L1374.1 794.8 L1375.1 796 L1376.1 797.1 L1377.2 798.2 L1378.3 799.2 L1379.4 800.2 L1380.6 801.2 L1381.8 802.1 L1383 802.9 L1384.3 803.7 L1385.6 804.5 L1386.9 805.2 L1388.2 805.9 L1389.6 806.5 L1390.9 807 L1392.3 807.5 L1393.7 808 L1395.2 808.4 L1396.6 808.8 L1398.1 809.2 L1399.5 809.5 L1401 809.8 L1402.5 810 L1404 810.3 L1405.5 810.5 L1407 810.7 L1408.5 811 L1410 811.2 L1411.5 811.4 L1413 811.6 L1414.5 811.8 L1416 812 L1417.5 812.2 L1419 812.4 L1420.5 812.6 L1422 812.8 L1423.5 813 L1425 813.2 L1426.5 813.4 L1428 813.6 L1429.5 813.8 L1431 814 L1432.5 814.2 L1434 814.4 L1435.5 814.6 L1437 814.7 L1438.5 814.9 L1440 815.1 L1441.4 815.3 L1442.9 815.5 L1444.4 815.7 L1445.9 815.8 L1447.4 816 L1448.9 816.2 L1450.4 816.4 L1451.9 816.5 L1453.4 816.7 L1454.8 816.9 L1456.3 817 L1457.8 817.2 L1459.3 817.4 L1460.8 817.5 L1462.3 817.7 L1463.8 817.8 L1465.3 818 L1466.8 818.1 L1468.3 818.2 L1469.8 818.4 L1471.3 818.5 L1472.7 818.6 L1474.2 818.8 L1475.7 818.9 L1477.2 819 L1478.7 819.1 L1480.2 819.2 L1481.7 819.3 L1483.2 819.4 L1484.8 819.5 L1486.3 819.6 L1487.8 819.7 L1489.3 819.8 L1490.8 819.9 L1492.3 820 L1493.8 820.1 L1495.3 820.1 L1495.8 820.2 L1495.8 821.7 L1495.7 823.2 L1495.7 824.7 L1495.7 826.3 L1495.8 827.8 L1495.8 829.3 L1495.8 830.9 L1495.9 832.4 L1495.9 834 L1495.9 835.5 L1496 837.1 L1496 838.6 L1496.1 840.2 L1496.2 841.8 L1496.2 843.3 L1496.3 844.9 L1496.3 846.5 L1496.4 848.1 L1496.4 849.7 L1496.4 851.2 L1496.4 852.8 L1496.5 854.4 L1496.5 856 L1496.5 857.6 L1496.4 859.1 L1496.4 860.7 L1496.4 862.3 L1496.3 863.8 L1496.2 865.4 L1496.1 867 L1496 868.5 L1495.9 870.1 L1495.7 871.6 L1495.6 873.2 L1495.4 874.7 L1495.1 876.2 L1494.9 877.8 L1494.6 879.3 L1494.3 880.8 L1494 882.3 L1493.6 883.8 L1493.2 885.3 L1492.8 886.7 L1492.4 888.2 L1491.9 889.6 L1491.4 891.1 L1490.8 892.5 L1490.2 893.9 L1489.6 895.3 L1488.9 896.7 L1489.7 894.3 L1488.3 895 L1486.9 895.6 L1485.4 896.2 L1484 896.8 L1482.6 897.3 L1481.2 897.8 L1479.7 898.3 L1478.3 898.8 L1476.8 899.3 L1475.4 899.7 L1473.9 900.2 L1472.5 900.6 L1471 900.9 L1469.6 901.3 L1468.1 901.7 L1466.6 902 L1465.2 902.3 L1463.7 902.6 L1462.2 902.9 L1460.7 903.2 L1459.2 903.5 L1457.8 903.7 L1456.3 904 L1454.8 904.2 L1453.3 904.4 L1451.8 904.7 L1450.3 904.9 L1448.8 905.1 L1447.3 905.3 L1445.8 905.4 L1444.3 905.6 L1442.8 905.8 L1441.3 906 L1439.8 906.1 L1438.3 906.3 L1436.8 906.5 L1435.3 906.6 L1433.8 906.8 L1432.3 906.9 L1430.8 907.1 L1429.3 907.2 L1427.8 907.4 L1426.3 907.5 L1424.8 907.7 L1423.3 907.9 L1421.8 908 L1420.3 908.2 L1418.8 908.4 L1417.3 908.6 L1415.8 908.8 L1414.3 908.9 L1412.8 909.2 L1411.3 909.4 L1409.8 909.6 L1408.4 909.8 L1406.9 910.1 L1405.4 910.3 L1403.9 910.6 L1402.4 910.8 L1400.9 911.1 L1399.4 911.4 L1398 911.7 L1396.5 912.1 L1395 912.4 L1393.5 912.8 L1392.1 913.2 L1390.6 913.6 L1389.1 914 L1387.7 914.4 L1386.2 914.9 L1384.8 915.3 L1383.4 915.8 L1381.9 916.3 L1380.5 916.9 L1379.1 917.4 L1377.8 918 L1376.4 918.7 L1375.1 919.3 L1373.8 920 L1372.5 920.7 L1371.2 921.4 L1370 922.2 L1368.8 923 L1367.6 923.8 L1366.4 924.7 L1365.3 925.6 L1364.2 926.6 L1363.2 927.5 L1362.2 928.6 L1361.2 929.6 L1360.3 930.7 L1359.4 931.9 L1358.6 933 L1357.8 934.2 L1357 935.5 L1356.3 936.7 L1355.5 938 L1354.9 939.3 L1354.2 940.7 L1353.6 942 L1353 943.4 L1352.4 944.8 L1351.9 946.3 L1351.3 947.7 L1350.8 949.2 L1350.3 950.7 L1349.9 952.2 L1349.4 953.7 L1349 955.2 L1348.6 956.7 L1348.2 958.3 L1347.8 959.8 L1347.4 961.4 L1347 962.9 L1346.7 964.5 L1346.3 966.1 L1346 967.6 L1345.6 969.2 L1345.3 970.7 L1345 972.3 L1344.6 973.8 L1344.3 975.4 L1344 976.9 L1343.6 978.4 L1343.3 979.9 L1342.9 981.4 L1342.6 982.9 L1342.3 984.3 L1341.9 985.8 L1341.5 987.2 L1341.1 988.6 L1340.8 990 L1340.4 991.4 L1340 992.8 L1339.6 994.2 L1339.1 995.6 L1338.7 996.9 L1338.3 998.3 L1337.8 999.7 L1337.4 1001.1 L1336.9 1002.5 L1336.5 1003.8 L1336 1005.2 L1335.5 1006.7 L1335 1008.1 L1334.5 1009.5 L1334 1011 L1333.5 1012.5 L1332.9 1013.9 L1332.4 1015.4 L1331.8 1016.7 L1331.2 1017.9 L1330.6 1018.8 L1330 1019.5 L1329.4 1019.9 L1328.7 1019.9 L1328 1019.5 L1327.2 1018.8 L1326.5 1017.7 L1325.7 1016.4 L1324.9 1014.9 L1324.1 1013.3 L1323.3 1011.6 L1322.6 1009.8 L1321.8 1008.2 L1321 1006.5 L1320.2 1005 L1319.4 1003.5 L1318.7 1002 L1318 1000.6 L1317.2 999.2 L1316.5 997.9 L1315.8 996.5 L1315.2 995.2 L1314.5 993.8 L1313.9 992.5 L1313.3 991.1 L1312.7 989.8 L1312.2 988.4 L1311.6 987.1 L1311.1 985.7 L1310.5 984.3 L1310 983 L1309.4 981.6 L1308.8 980.2 L1308.3 978.9 L1307.7 977.5 L1307 976.1 L1306.4 974.8 L1305.8 973.4 L1305.1 972.1 L1304.5 970.7 L1303.8 969.4 L1303.2 968 L1302.5 966.7 L1301.9 965.3 L1301.2 964 L1300.6 962.6 L1299.9 961.2 L1299.3 959.9 L1298.7 958.5 L1298.1 957.1 L1297.5 955.7 L1296.9 954.3 L1296.3 952.9 L1295.8 951.5 L1295.3 950.1 L1294.7 948.7 L1294.3 947.2 L1293.8 945.8 L1293.3 944.3 L1292.9 942.9 L1292.4 941.4 L1292 940 L1291.6 938.5 L1291.2 937 L1290.8 935.5 L1290.4 934.1 L1290 932.6 L1289.6 931.1 L1289.2 929.6 L1288.8 928.2 L1288.4 926.7 L1288 925.2 L1287.6 923.8 L1287.2 922.3 L1286.7 920.8 L1286.3 919.4 L1285.9 917.9 L1285.4 916.5 L1285 915.1 L1284.5 913.6 L1284 912.2 L1283.5 910.8 L1283 909.4 L1282.4 908 L1281.9 906.6 L1281.3 905.3 L1280.7 903.9 L1280.1 902.5 L1279.4 901.2 L1278.7 899.9 L1278 898.6 L1277.3 897.3 L1276.5 896 L1275.7 894.8 L1274.9 893.5 L1274 892.3 L1273.1 891.1 L1272.2 889.9 L1271.3 888.8 L1270.3 887.6 L1269.3 886.5 L1268.3 885.4 L1267.2 884.3 L1266.2 883.3 L1265.1 882.2 L1264 881.2 L1262.8 880.3 L1261.7 879.3 L1260.5 878.4 L1259.3 877.5 L1258.1 876.6 L1256.8 875.8 L1255.6 874.9 L1254.3 874.2 L1253 873.4 L1251.7 872.7 L1250.4 872 L1249.1 871.3 L1247.7 870.7 L1246.3 870.1 L1244.9 869.5 L1243.5 869 L1242.1 868.5 L1240.7 868.1 L1239.3 867.7 L1237.8 867.3 L1236.3 866.9 L1234.9 866.6 L1233.4 866.3 L1231.9 866.1 L1230.4 865.8 L1228.9 865.6 L1227.4 865.4 L1225.9 865.2 L1224.4 865.1 L1222.8 865 L1221.3 864.8 L1219.8 864.7 L1218.2 864.6 L1216.7 864.6 L1215.1 864.5 L1213.6 864.4 L1212 864.4 L1210.5 864.4 L1209 864.3 L1207.4 864.3 L1205.9 864.2 L1204.3 864.2 L1202.8 864.2 L1201.3 864.1 L1199.8 864.1 L1198.2 864.1 L1196.7 864 L1195.2 864 L1193.7 864 L1192.2 863.9 L1190.7 863.9 L1189.1 863.8 L1187.6 863.8 L1186.1 863.8 L1184.6 863.7 L1183.1 863.7 L1181.6 863.6 L1180.1 863.6 L1178.6 863.6 L1177.1 863.5 L1175.7 863.5 L1174.2 863.5 L1172.7 863.4 L1171.2 863.4 L1169.7 863.4 L1168.2 863.3 L1166.7 863.3 L1165.2 863.2 L1163.7 863.2 L1162.3 863.2 L1160.8 863.1 L1159.3 863.1 L1157.8 863.1 L1156.3 863.1 L1154.8 863 L1153.4 863 L1151.9 863 L1150.4 862.9 L1148.9 862.9 L1147.4 862.9 L1145.9 862.9 L1144.4 862.8 L1143 862.8 L1141.5 862.8 L1140 862.8 L1138.5 862.8 L1137 862.7 L1135.5 862.7 L1134 862.7 L1132.5 862.7 L1131 862.7 L1129.5 862.7 L1128 862.7 L1126.5 862.7 L1125 862.7 L1123.5 862.7 L1122 862.7 L1120.5 862.7 L1118.9 862.7 L1117.4 862.7 L1115.9 862.7 L1114.4 862.7 L1112.9 862.7 L1111.3 862.7 L1109.8 862.7 L1108.3 862.7 L1106.7 862.7 L1105.2 862.8 L1103.6 862.8 L1102.1 862.8" fill="none" stroke="#ff1010" stroke-width="2.6" stroke-linejoin="round" stroke-linecap="round" stroke-dasharray="9,6" />
<path d="M1277.2 864.1 L1278.8 864.3 L1280.4 864.5 L1282.1 864.6 L1283.8 864.6 L1285.4 864.4 L1287 864.1 L1288.5 863.7 L1289.9 863.1 L1291.1 862.4 L1292.1 861.5 L1293 860.4 L1293.8 859.2 L1294.4 857.9 L1294.9 856.6 L1295.4 855.2 L1295.9 853.8 L1296.4 852.4 L1296.8 851 L1297.1 849.6 L1297.5 848.1 L1297.8 846.7 L1298.1 845.3 L1298.4 843.8 L1298.6 842.4 L1298.9 840.9 L1299.1 839.5 L1299.3 838 L1299.4 836.5 L1299.6 835.1 L1299.7 833.6 L1299.8 832.1 L1299.9 830.6 L1300 829.1 L1300 827.6 L1300.1 826.1 L1300.1 824.6 L1300.1 823.1 L1300.1 821.6 L1300.1 820.1 L1300.1 818.6 L1300.1 817 L1300.1 815.5 L1300.1 814 L1300 812.5 L1300 810.9 L1299.9 809.4 L1299.9 807.9 L1299.8 806.4 L1299.8 804.8 L1299.7 803.3 L1299.7 801.8 L1299.6 800.2 L1299.6 798.7 L1299.5 797.2 L1299.5 795.6 L1299.5 794.1 L1299.4 792.6 L1299.4 791.1 L1299.4 789.5 L1299.4 788 L1299.4 786.5 L1299.4 785 L1299.4 783.5 L1299.5 782 L1299.5 780.4 L1299.6 778.9 L1299.7 777.4 L1299.8 775.9 L1299.9 774.4 L1300 772.9 L1300.1 771.4 L1300.3 770 L1300.4 768.5 L1300.6 767 L1300.7 765.5 L1300.9 764 L1301.1 762.5 L1301.3 761.1 L1301.5 759.6 L1301.7 758.1 L1301.9 756.6 L1302.1 755.1 L1302.3 753.7 L1302.5 752.2 L1302.7 750.7 L1303 749.2 L1303.2 747.8 L1303.4 746.3 L1303.6 744.8 L1303.9 743.3 L1304.1 741.9 L1304.3 740.4 L1304.5 738.9 L1304.8 737.4 L1305 736 L1305.2 734.5 L1305.4 733 L1305.6 731.5 L1305.8 730 L1306 728.5 L1306.2 727.1 L1306.4 725.6 L1306.6 724.1 L1306.8 722.6 L1306.9 721.1 L1307.1 719.6 L1307.3 718.1 L1307.4 716.6 L1307.6 715.1 L1307.7 713.6 L1307.9 712.1 L1308 710.6 L1308.1 709.1 L1308.3 707.6 L1308.4 706.1 L1308.5 704.6 L1308.7 703 L1308.8 701.5 L1308.9 700 L1309 698.5 L1309.1 697 L1309.3 695.5 L1309.4 694 L1309.5 692.5 L1309.6 691 L1309.7 689.5 L1309.8 688 L1309.9 686.5 L1310 685 L1310.1 683.5 L1310.3 682 L1310.4 680.4 L1310.5 678.9 L1310.6 677.4 L1310.7 675.9 L1310.8 674.4 L1310.9 672.9 L1311 671.4 L1311.2 670 L1311.3 668.5 L1311.4 667 L1311.5 665.5 L1311.6 664 L1311.8 662.5 L1311.9 661 L1312 659.5 L1312.2 658 L1312.3 656.5 L1312.5 655 L1312.7 653.5 L1312.8 652 L1313 650.6 L1313.2 649 L1313.4 647.5 L1313.6 646 L1313.9 644.5 L1314.1 643 L1314.3 641.5 L1314.6 640 L1314.9 638.4 L1315.1 636.9 L1315.4 635.4 L1315.8 633.8 L1316.1 632.3 L1316.4 630.7 L1316.8 629.2 L1317.2 627.6 L1317.6 626 L1318 624.5 L1318.5 623 L1318.9 621.7 L1319.5 620.6 L1320 619.7 L1320.6 619.2 L1321.3 619 L1322 619.1 L1322.8 619.7 L1323.6 620.5 L1324.4 621.5 L1325.3 622.8 L1326.1 624.2 L1326.9 625.6 L1327.7 627.1 L1328.5 628.6 L1329.3 630.1 L1330 631.5 L1330.7 633 L1331.3 634.4 L1332 635.8 L1332.6 637.3 L1333.2 638.7 L1333.8 640.1 L1334.3 641.5 L1334.9 643 L1335.4 644.4 L1335.9 645.8 L1336.3 647.2 L1336.8 648.7 L1337.2 650.1 L1337.7 651.5 L1338.1 653 L1338.5 654.4 L1338.8 655.8 L1339.2 657.3 L1339.6 658.7 L1339.9 660.2 L1340.2 661.6 L1340.5 663.1 L1340.8 664.5 L1341.1 666 L1341.4 667.4 L1341.7 668.9 L1342 670.4 L1342.3 671.8 L1342.5 673.3 L1342.8 674.8 L1343 676.3 L1343.3 677.7 L1343.5 679.2 L1343.7 680.7 L1344 682.2 L1344.2 683.7 L1344.4 685.1 L1344.6 686.6 L1344.8 688.1 L1345 689.6 L1345.3 691.1 L1345.5 692.6 L1345.7 694.1 L1345.9 695.6 L1346.1 697.1 L1346.3 698.6 L1346.5 700.1 L1346.7 701.6 L1346.9 703.1 L1347.1 704.6 L1347.3 706.1 L1347.5 707.6 L1347.8 709.1 L1348 710.6 L1348.2 712 L1348.4 713.5 L1348.6 715 L1348.9 716.5 L1349.1 718 L1349.4 719.5 L1349.6 721 L1349.9 722.5 L1350.1 724 L1350.4 725.4 L1350.7 726.9 L1350.9 728.4 L1351.2 729.9 L1351.5 731.4 L1351.8 732.8 L1352.2 734.3 L1352.5 735.8 L1352.8 737.2 L1353.2 738.7 L1353.5 740.2 L1353.9 741.6 L1354.3 743.1 L1354.6 744.5 L1355 746 L1355.4 747.4 L1355.8 748.8 L1356.2 750.3 L1356.6 751.7 L1357.1 753.2 L1357.5 754.6 L1357.9 756.1 L1358.3 757.5 L1358.7 759 L1359.1 760.4 L1359.5 761.9 L1359.9 763.3 L1360.3 764.8 L1360.6 766.2 L1361 767.7 L1361.4 769.2 L1361.7 770.7 L1362.1 772.1 L1362.5 773.6 L1362.9 775 L1363.3 776.5 L1363.7 777.9 L1364.2 779.4 L1364.6 780.8 L1365.2 782.2 L1365.7 783.6 L1366.3 785 L1366.9 786.3 L1367.6 787.7 L1368.4 789 L1369.2 790.3 L1370 791.6 L1370.9 792.8 L1371.8 794 L1372.7 795.2 L1373.7 796.4 L1374.7 797.5 L1375.8 798.6 L1376.9 799.6 L1378 800.6 L1379.2 801.6 L1380.4 802.5 L1381.6 803.3 L1382.9 804.1 L1384.2 804.9 L1385.5 805.6 L1386.8 806.3 L1388.2 806.9 L1389.5 807.4 L1390.9 807.9 L1392.3 808.4 L1393.8 808.8 L1395.2 809.2 L1396.7 809.6 L1398.1 809.9 L1399.6 810.2 L1401.1 810.4 L1402.6 810.7 L1404.1 810.9 L1405.6 811.1 L1407.1 811.4 L1408.6 811.6 L1410.1 811.8 L1411.6 812 L1413.1 812.2 L1414.6 812.4 L1416.1 812.6 L1417.6 812.8 L1419.1 813 L1420.6 813.2 L1422.1 813.4 L1423.6 813.6 L1425.1 813.8 L1426.6 814 L1428.1 814.2 L1429.6 814.4 L1431.1 814.6 L1432.6 814.8 L1434.1 815 L1435.6 815.1 L1437.1 815.3 L1438.6 815.5 L1440 815.7 L1441.5 815.9 L1443 816.1 L1444.5 816.2 L1446 816.4 L1447.5 816.6 L1449 816.8 L1450.5 816.9 L1452 817.1 L1453.4 817.3 L1454.9 817.4 L1456.4 817.6 L1457.9 817.8 L1459.4 817.9 L1460.9 818.1 L1462.4 818.2 L1463.9 818.4 L1465.4 818.5 L1466.9 818.6 L1468.4 818.8 L1469.9 818.9 L1471.3 819 L1472.8 819.2 L1474.3 819.3 L1475.8 819.4 L1477.3 819.5 L1478.8 819.6 L1480.3 819.7 L1481.8 819.8 L1483.4 819.9 L1484.9 820 L1486.4 820.1 L1487.9 820.2 L1489.4 820.3 L1490.9 820.4 L1492.4 820.5 L1493.9 820.5 L1494.4 820.6 L1494.4 822.1 L1494.3 823.6 L1494.3 825.1 L1494.3 826.7 L1494.4 828.2 L1494.4 829.7 L1494.4 831.3 L1494.5 832.8 L1494.5 834.4 L1494.5 835.9 L1494.6 837.5 L1494.6 839 L1494.7 840.6 L1494.8 842.2 L1494.8 843.7 L1494.9 845.3 L1494.9 846.9 L1495 848.5 L1495 850.1 L1495 851.6 L1495 853.2 L1495.1 854.8 L1495.1 856.4 L1495.1 858 L1495 859.5 L1495 861.1 L1495 862.7 L1494.9 864.2 L1494.8 865.8 L1494.7 867.4 L1494.6 868.9 L1494.5 870.5 L1494.3 872 L1494.2 873.6 L1494 875.1 L1493.7 876.6 L1493.5 878.2 L1493.2 879.7 L1492.9 881.2 L1492.6 882.7 L1492.2 884.2 L1491.8 885.7 L1491.4 887.1 L1491 888.6 L1490.5 890 L1490 891.5 L1489.4 892.9 L1488.8 894.3 L1488.2 895.7 L1487.5 897.1 L1488.3 894.7 L1486.9 895.4 L1485.5 896 L1484 896.6 L1482.6 897.2 L1481.2 897.7 L1479.8 898.2 L1478.3 898.7 L1476.9 899.2 L1475.4 899.7 L1474 900.1 L1472.5 900.6 L1471.1 901 L1469.6 901.3 L1468.2 901.7 L1466.7 902.1 L1465.2 902.4 L1463.8 902.7 L1462.3 903 L1460.8 903.3 L1459.3 903.6 L1457.8 903.9 L1456.4 904.1 L1454.9 904.4 L1453.4 904.6 L1451.9 904.8 L1450.4 905.1 L1448.9 905.3 L1447.4 905.5 L1445.9 905.7 L1444.4 905.8 L1442.9 906 L1441.4 906.2 L1439.9 906.4 L1438.4 906.5 L1436.9 906.7 L1435.4 906.9 L1433.9 907 L1432.4 907.2 L1430.9 907.3 L1429.4 907.5 L1427.9 907.6 L1426.4 907.8 L1424.9 907.9 L1423.4 908.1 L1421.9 908.3 L1420.4 908.4 L1418.9 908.6 L1417.4 908.8 L1415.9 909 L1414.4 909.2 L1412.9 909.3 L1411.4 909.6 L1409.9 909.8 L1408.4 910 L1407 910.2 L1405.5 910.5 L1404 910.7 L1402.5 911 L1401 911.2 L1399.5 911.5 L1398 911.8 L1396.6 912.1 L1395.1 912.5 L1393.6 912.8 L1392.1 913.2 L1390.7 913.6 L1389.2 914 L1387.7 914.4 L1386.3 914.8 L1384.8 915.3 L1383.4 915.7 L1382 916.2 L1380.5 916.7 L1379.1 917.3 L1377.7 917.8 L1376.4 918.4 L1375 919.1 L1373.7 919.7 L1372.4 920.4 L1371.1 921.1 L1369.8 921.8 L1368.6 922.6 L1367.4 923.4 L1366.2 924.2 L1365 925.1 L1363.9 926 L1362.8 927 L1361.8 927.9 L1360.8 929 L1359.8 930 L1358.9 931.1 L1358 932.3 L1357.2 933.4 L1356.4 934.6 L1355.6 935.9 L1354.9 937.1 L1354.1 938.4 L1353.5 939.7 L1352.8 941.1 L1352.2 942.4 L1351.6 943.8 L1351 945.2 L1350.5 946.7 L1349.9 948.1 L1349.4 949.6 L1348.9 951.1 L1348.5 952.6 L1348 954.1 L1347.6 955.6 L1347.2 957.1 L1346.8 958.7 L1346.4 960.2 L1346 961.8 L1345.6 963.3 L1345.3 964.9 L1344.9 966.5 L1344.6 968 L1344.2 969.6 L1343.9 971.1 L1343.6 972.7 L1343.2 974.2 L1342.9 975.8 L1342.6 977.3 L1342.2 978.8 L1341.9 980.3 L1341.5 981.8 L1341.2 983.3 L1340.9 984.7 L1340.5 986.2 L1340.1 987.6 L1339.7 989 L1339.4 990.4 L1339 991.8 L1338.6 993.2 L1338.2 994.6 L1337.7 996 L1337.3 997.3 L1336.9 998.7 L1336.4 1000.1 L1336 1001.5 L1335.5 1002.9 L1335.1 1004.2 L1334.6 1005.6 L1334.1 1007.1 L1333.6 1008.5 L1333.1 1009.9 L1332.6 1011.4 L1332.1 1012.9 L1331.5 1014.3 L1331 1015.8 L1330.4 1017.1 L1329.8 1018.3 L1329.2 1019.2 L1328.6 1019.9 L1328 1020.3 L1327.3 1020.3 L1326.6 1019.9 L1325.8 1019.2 L1325.1 1018.1 L1324.3 1016.8 L1323.5 1015.3 L1322.7 1013.7 L1321.9 1012 L1321.2 1010.2 L1320.4 1008.6 L1319.6 1006.9 L1318.8 1005.4 L1318 1003.9 L1317.3 1002.4 L1316.6 1001 L1315.8 999.6 L1315.1 998.3 L1314.4 996.9 L1313.8 995.6 L1313.1 994.2 L1312.5 992.9 L1311.9 991.5 L1311.3 990.2 L1310.8 988.8 L1310.2 987.5 L1309.7 986.1 L1309.1 984.7 L1308.6 983.4 L1308 982 L1307.4 980.6 L1306.9 979.3 L1306.3 977.9 L1305.6 976.5 L1305 975.2 L1304.4 973.8 L1303.7 972.5 L1303.1 971.1 L1302.4 969.8 L1301.8 968.4 L1301.1 967.1 L1300.5 965.7 L1299.8 964.4 L1299.2 963 L1298.5 961.6 L1297.9 960.3 L1297.3 958.9 L1296.7 957.5 L1296.1 956.1 L1295.5 954.7 L1294.9 953.3 L1294.4 951.9 L1293.9 950.5 L1293.3 949.1 L1292.9 947.6 L1292.4 946.2 L1291.9 944.7 L1291.5 943.3 L1291 941.8 L1290.6 940.4 L1290.2 938.9 L1289.8 937.4 L1289.4 935.9 L1289 934.5 L1288.6 933 L1288.2 931.5 L1287.8 930 L1287.4 928.6 L1287 927.1 L1286.6 925.6 L1286.2 924.2 L1285.8 922.7 L1285.3 921.2 L1284.9 919.8 L1284.5 918.3 L1284 916.9 L1283.6 915.5 L1283.1 914 L1282.6 912.6 L1282.1 911.2 L1281.6 909.8 L1281 908.4 L1280.5 907 L1279.9 905.7 L1279.3 904.3 L1278.7 902.9 L1278 901.6 L1277.3 900.3 L1276.6 899 L1275.9 897.7 L1275.1 896.4 L1274.3 895.2 L1273.5 893.9 L1272.6 892.7 L1271.7 891.5 L1270.8 890.3 L1269.9 889.2 L1268.9 888 L1267.9 886.9 L1266.9 885.8 L1265.8 884.7 L1264.8 883.7 L1263.7 882.6 L1262.6 881.6 L1261.4 880.7 L1260.3 879.7 L1259.1 878.8 L1257.9 877.9 L1256.7 877 L1255.4 876.2 L1254.2 875.3 L1252.9 874.6 L1251.6 873.8 L1250.3 873.1 L1249 872.4 L1247.7 871.7 L1246.3 871.1 L1244.9 870.5 L1243.5 869.9 L1242.1 869.4 L1240.7 868.9 L1239.3 868.5 L1237.9 868.1 L1236.4 867.7 L1234.9 867.3 L1233.5 867 L1232 866.7 L1230.5 866.5 L1229 866.2 L1227.5 866 L1226 865.8 L1224.5 865.6 L1223 865.5 L1221.4 865.4 L1219.9 865.2 L1218.4 865.1 L1216.8 865 L1215.3 865 L1213.7 864.9 L1212.2 864.8 L1210.6 864.8 L1209.1 864.8 L1207.6 864.7 L1206 864.7 L1204.5 864.6 L1202.9 864.6 L1201.4 864.6 L1199.9 864.5 L1198.4 864.5 L1196.8 864.5 L1195.3 864.4 L1193.8 864.4 L1192.3 864.4 L1190.8 864.3 L1189.3 864.3 L1187.7 864.2 L1186.2 864.2 L1184.7 864.2 L1183.2 864.1 L1181.7 864.1 L1180.2 864 L1178.7 864 L1177.2 864 L1175.7 863.9 L1174.3 863.9 L1172.8 863.9 L1171.3 863.8 L1169.8 863.8 L1168.3 863.8 L1166.8 863.7 L1165.3 863.7 L1163.8 863.6 L1162.3 863.6 L1160.9 863.6 L1159.4 863.5 L1157.9 863.5 L1156.4 863.5 L1154.9 863.5 L1153.4 863.4 L1152 863.4 L1150.5 863.4 L1149 863.3 L1147.5 863.3 L1146 863.3 L1144.5 863.3 L1143 863.2 L1141.6 863.2 L1140.1 863.2 L1138.6 863.2 L1137.1 863.2 L1135.6 863.1 L1134.1 863.1 L1132.6 863.1 L1131.1 863.1 L1129.6 863.1 L1128.1 863.1 L1126.6 863.1 L1125.1 863.1 L1123.6 863.1 L1122.1 863.1 L1120.6 863.1 L1119.1 863.1 L1117.5 863.1 L1116 863.1 L1114.5 863.1 L1113 863.1 L1111.5 863.1 L1109.9 863.1 L1108.4 863.1 L1106.9 863.1 L1105.3 863.1 L1103.8 863.2 L1102.2 863.2 L1100.7 863.2" fill="none" stroke="#ff1010" stroke-width="2.6" stroke-linejoin="round" stroke-linecap="round" stroke-dasharray="2.5,5" />
<path d="M1277.8 863.1 L1279.4 863.3 L1281 863.5 L1282.7 863.6 L1284.4 863.6 L1286 863.4 L1287.6 863.1 L1289.1 862.7 L1290.5 862.1 L1291.7 861.4 L1292.7 860.5 L1293.6 859.4 L1294.4 858.2 L1295 856.9 L1295.5 855.6 L1296 854.2 L1296.5 852.8 L1297 851.4 L1297.4 850 L1297.7 848.6 L1298.1 847.1 L1298.4 845.7 L1298.7 844.3 L1299 842.8 L1299.2 841.4 L1299.5 839.9 L1299.7 838.5 L1299.9 837 L1300 835.5 L1300.2 834.1 L1300.3 832.6 L1300.4 831.1 L1300.5 829.6 L1300.6 828.1 L1300.6 826.6 L1300.7 825.1 L1300.7 823.6 L1300.7 822.1 L1300.7 820.6 L1300.7 819.1 L1300.7 817.6 L1300.7 816 L1300.7 814.5 L1300.7 813 L1300.6 811.5 L1300.6 809.9 L1300.5 808.4 L1300.5 806.9 L1300.4 805.4 L1300.4 803.8 L1300.3 802.3 L1300.3 800.8 L1300.2 799.2 L1300.2 797.7 L1300.1 796.2 L1300.1 794.6 L1300.1 793.1 L1300 791.6 L1300 790.1 L1300 788.5 L1300 787 L1300 785.5 L1300 784 L1300 782.5 L1300.1 781 L1300.1 779.4 L1300.2 777.9 L1300.3 776.4 L1300.4 774.9 L1300.5 773.4 L1300.6 771.9 L1300.7 770.4 L1300.9 769 L1301 767.5 L1301.2 766 L1301.3 764.5 L1301.5 763 L1301.7 761.5 L1301.9 760.1 L1302.1 758.6 L1302.3 757.1 L1302.5 755.6 L1302.7 754.1 L1302.9 752.7 L1303.1 751.2 L1303.3 749.7 L1303.6 748.2 L1303.8 746.8 L1304 745.3 L1304.2 743.8 L1304.5 742.3 L1304.7 740.9 L1304.9 739.4 L1305.1 737.9 L1305.4 736.4 L1305.6 735 L1305.8 733.5 L1306 732 L1306.2 730.5 L1306.4 729 L1306.6 727.5 L1306.8 726.1 L1307 724.6 L1307.2 723.1 L1307.4 721.6 L1307.5 720.1 L1307.7 718.6 L1307.9 717.1 L1308 715.6 L1308.2 714.1 L1308.3 712.6 L1308.5 711.1 L1308.6 709.6 L1308.7 708.1 L1308.9 706.6 L1309 705.1 L1309.1 703.6 L1309.3 702 L1309.4 700.5 L1309.5 699 L1309.6 697.5 L1309.7 696 L1309.9 694.5 L1310 693 L1310.1 691.5 L1310.2 690 L1310.3 688.5 L1310.4 687 L1310.5 685.5 L1310.6 684 L1310.7 682.5 L1310.9 681 L1311 679.4 L1311.1 677.9 L1311.2 676.4 L1311.3 674.9 L1311.4 673.4 L1311.5 671.9 L1311.6 670.4 L1311.8 669 L1311.9 667.5 L1312 666 L1312.1 664.5 L1312.2 663 L1312.4 661.5 L1312.5 660 L1312.6 658.5 L1312.8 657 L1312.9 655.5 L1313.1 654 L1313.3 652.5 L1313.4 651 L1313.6 649.6 L1313.8 648 L1314 646.5 L1314.2 645 L1314.5 643.5 L1314.7 642 L1314.9 640.5 L1315.2 639 L1315.5 637.4 L1315.7 635.9 L1316 634.4 L1316.4 632.8 L1316.7 631.3 L1317 629.7 L1317.4 628.2 L1317.8 626.6 L1318.2 625 L1318.6 623.5 L1319.1 622 L1319.5 620.7 L1320.1 619.6 L1320.6 618.7 L1321.2 618.2 L1321.9 618 L1322.6 618.1 L1323.4 618.7 L1324.2 619.5 L1325 620.5 L1325.9 621.8 L1326.7 623.2 L1327.5 624.6 L1328.3 626.1 L1329.1 627.6 L1329.9 629.1 L1330.6 630.5 L1331.3 632 L1331.9 633.4 L1332.6 634.8 L1333.2 636.3 L1333.8 637.7 L1334.4 639.1 L1334.9 640.5 L1335.5 642 L1336 643.4 L1336.5 644.8 L1336.9 646.2 L1337.4 647.7 L1337.8 649.1 L1338.3 650.5 L1338.7 652 L1339.1 653.4 L1339.4 654.8 L1339.8 656.3 L1340.2 657.7 L1340.5 659.2 L1340.8 660.6 L1341.1 662.1 L1341.4 663.5 L1341.7 665 L1342 666.4 L1342.3 667.9 L1342.6 669.4 L1342.9 670.8 L1343.1 672.3 L1343.4 673.8 L1343.6 675.3 L1343.9 676.7 L1344.1 678.2 L1344.3 679.7 L1344.6 681.2 L1344.8 682.7 L1345 684.1 L1345.2 685.6 L1345.4 687.1 L1345.6 688.6 L1345.9 690.1 L1346.1 691.6 L1346.3 693.1 L1346.5 694.6 L1346.7 696.1 L1346.9 697.6 L1347.1 699.1 L1347.3 700.6 L1347.5 702.1 L1347.7 703.6 L1347.9 705.1 L1348.1 706.6 L1348.4 708.1 L1348.6 709.6 L1348.8 711 L1349 712.5 L1349.2 714 L1349.5 715.5 L1349.7 717 L1350 718.5 L1350.2 720 L1350.5 721.5 L1350.7 723 L1351 724.4 L1351.3 725.9 L1351.5 727.4 L1351.8 728.9 L1352.1 730.4 L1352.4 731.8 L1352.8 733.3 L1353.1 734.8 L1353.4 736.2 L1353.8 737.7 L1354.1 739.2 L1354.5 740.6 L1354.9 742.1 L1355.2 743.5 L1355.6 745 L1356 746.4 L1356.4 747.8 L1356.8 749.3 L1357.2 750.7 L1357.7 752.2 L1358.1 753.6 L1358.5 755.1 L1358.9 756.5 L1359.3 758 L1359.7 759.4 L1360.1 760.9 L1360.5 762.3 L1360.9 763.8 L1361.2 765.2 L1361.6 766.7 L1362 768.2 L1362.3 769.7 L1362.7 771.1 L1363.1 772.6 L1363.5 774 L1363.9 775.5 L1364.3 776.9 L1364.8 778.4 L1365.2 779.8 L1365.8 781.2 L1366.3 782.6 L1366.9 784 L1367.5 785.3 L1368.2 786.7 L1369 788 L1369.8 789.3 L1370.6 790.6 L1371.5 791.8 L1372.4 793 L1373.3 794.2 L1374.3 795.4 L1375.3 796.5 L1376.4 797.6 L1377.5 798.6 L1378.6 799.6 L1379.8 800.6 L1381 801.5 L1382.2 802.3 L1383.5 803.1 L1384.8 803.9 L1386.1 804.6 L1387.4 805.3 L1388.8 805.9 L1390.1 806.4 L1391.5 806.9 L1392.9 807.4 L1394.4 807.8 L1395.8 808.2 L1397.3 808.6 L1398.7 808.9 L1400.2 809.2 L1401.7 809.4 L1403.2 809.7 L1404.7 809.9 L1406.2 810.1 L1407.7 810.4 L1409.2 810.6 L1410.7 810.8 L1412.2 811 L1413.7 811.2 L1415.2 811.4 L1416.7 811.6 L1418.2 811.8 L1419.7 812 L1421.2 812.2 L1422.7 812.4 L1424.2 812.6 L1425.7 812.8 L1427.2 813 L1428.7 813.2 L1430.2 813.4 L1431.7 813.6 L1433.2 813.8 L1434.7 814 L1436.2 814.1 L1437.7 814.3 L1439.2 814.5 L1440.6 814.7 L1442.1 814.9 L1443.6 815.1 L1445.1 815.2 L1446.6 815.4 L1448.1 815.6 L1449.6 815.8 L1451.1 815.9 L1452.6 816.1 L1454 816.3 L1455.5 816.4 L1457 816.6 L1458.5 816.8 L1460 816.9 L1461.5 817.1 L1463 817.2 L1464.5 817.4 L1466 817.5 L1467.5 817.6 L1469 817.8 L1470.5 817.9 L1471.9 818 L1473.4 818.2 L1474.9 818.3 L1476.4 818.4 L1477.9 818.5 L1479.4 818.6 L1480.9 818.7 L1482.4 818.8 L1484 818.9 L1485.5 819 L1487 819.1 L1488.5 819.2 L1490 819.3 L1491.5 819.4 L1493 819.5 L1494.5 819.5 L1495 819.6 L1495 821.1 L1494.9 822.6 L1494.9 824.1 L1494.9 825.7 L1495 827.2 L1495 828.7 L1495 830.3 L1495.1 831.8 L1495.1 833.4 L1495.1 834.9 L1495.2 836.5 L1495.2 838 L1495.3 839.6 L1495.4 841.2 L1495.4 842.7 L1495.5 844.3 L1495.5 845.9 L1495.6 847.5 L1495.6 849.1 L1495.6 850.6 L1495.6 852.2 L1495.7 853.8 L1495.7 855.4 L1495.7 857 L1495.6 858.5 L1495.6 860.1 L1495.6 861.7 L1495.5 863.2 L1495.4 864.8 L1495.3 866.4 L1495.2 867.9 L1495.1 869.5 L1494.9 871 L1494.8 872.6 L1494.6 874.1 L1494.3 875.6 L1494.1 877.2 L1493.8 878.7 L1493.5 880.2 L1493.2 881.7 L1492.8 883.2 L1492.4 884.7 L1492 886.1 L1491.6 887.6 L1491.1 889 L1490.6 890.5 L1490 891.9 L1489.4 893.3 L1488.8 894.7 L1488.1 896.1 L1488.9 893.7 L1487.5 894.4 L1486.1 895 L1484.6 895.6 L1483.2 896.2 L1481.8 896.7 L1480.4 897.2 L1478.9 897.7 L1477.5 898.2 L1476 898.7 L1474.6 899.1 L1473.1 899.6 L1471.7 900 L1470.2 900.3 L1468.8 900.7 L1467.3 901.1 L1465.8 901.4 L1464.4 901.7 L1462.9 902 L1461.4 902.3 L1459.9 902.6 L1458.4 902.9 L1457 903.1 L1455.5 903.4 L1454 903.6 L1452.5 903.8 L1451 904.1 L1449.5 904.3 L1448 904.5 L1446.5 904.7 L1445 904.8 L1443.5 905 L1442 905.2 L1440.5 905.4 L1439 905.5 L1437.5 905.7 L1436 905.9 L1434.5 906 L1433 906.2 L1431.5 906.3 L1430 906.5 L1428.5 906.6 L1427 906.8 L1425.5 906.9 L1424 907.1 L1422.5 907.3 L1421 907.4 L1419.5 907.6 L1418 907.8 L1416.5 908 L1415 908.2 L1413.5 908.3 L1412 908.6 L1410.5 908.8 L1409 909 L1407.6 909.2 L1406.1 909.5 L1404.6 909.7 L1403.1 910 L1401.6 910.2 L1400.1 910.5 L1398.6 910.8 L1397.2 911.1 L1395.7 911.5 L1394.2 911.8 L1392.7 912.2 L1391.3 912.6 L1389.8 913 L1388.3 913.4 L1386.9 913.8 L1385.4 914.3 L1384 914.7 L1382.6 915.2 L1381.1 915.7 L1379.7 916.3 L1378.3 916.8 L1377 917.4 L1375.6 918.1 L1374.3 918.7 L1373 919.4 L1371.7 920.1 L1370.4 920.8 L1369.2 921.6 L1368 922.4 L1366.8 923.2 L1365.6 924.1 L1364.5 925 L1363.4 926 L1362.4 926.9 L1361.4 928 L1360.4 929 L1359.5 930.1 L1358.6 931.3 L1357.8 932.4 L1357 933.6 L1356.2 934.9 L1355.5 936.1 L1354.7 937.4 L1354.1 938.7 L1353.4 940.1 L1352.8 941.4 L1352.2 942.8 L1351.6 944.2 L1351.1 945.7 L1350.5 947.1 L1350 948.6 L1349.5 950.1 L1349.1 951.6 L1348.6 953.1 L1348.2 954.6 L1347.8 956.1 L1347.4 957.7 L1347 959.2 L1346.6 960.8 L1346.2 962.3 L1345.9 963.9 L1345.5 965.5 L1345.2 967 L1344.8 968.6 L1344.5 970.1 L1344.2 971.7 L1343.8 973.2 L1343.5 974.8 L1343.2 976.3 L1342.8 977.8 L1342.5 979.3 L1342.1 980.8 L1341.8 982.3 L1341.5 983.7 L1341.1 985.2 L1340.7 986.6 L1340.3 988 L1340 989.4 L1339.6 990.8 L1339.2 992.2 L1338.8 993.6 L1338.3 995 L1337.9 996.3 L1337.5 997.7 L1337 999.1 L1336.6 1000.5 L1336.1 1001.9 L1335.7 1003.2 L1335.2 1004.6 L1334.7 1006.1 L1334.2 1007.5 L1333.7 1008.9 L1333.2 1010.4 L1332.7 1011.9 L1332.1 1013.3 L1331.6 1014.8 L1331 1016.1 L1330.4 1017.3 L1329.8 1018.2 L1329.2 1018.9 L1328.6 1019.3 L1327.9 1019.3 L1327.2 1018.9 L1326.4 1018.2 L1325.7 1017.1 L1324.9 1015.8 L1324.1 1014.3 L1323.3 1012.7 L1322.5 1011 L1321.8 1009.2 L1321 1007.6 L1320.2 1005.9 L1319.4 1004.4 L1318.6 1002.9 L1317.9 1001.4 L1317.2 1000 L1316.4 998.6 L1315.7 997.3 L1315 995.9 L1314.4 994.6 L1313.7 993.2 L1313.1 991.9 L1312.5 990.5 L1311.9 989.2 L1311.4 987.8 L1310.8 986.5 L1310.3 985.1 L1309.7 983.7 L1309.2 982.4 L1308.6 981 L1308 979.6 L1307.5 978.3 L1306.9 976.9 L1306.2 975.5 L1305.6 974.2 L1305 972.8 L1304.3 971.5 L1303.7 970.1 L1303 968.8 L1302.4 967.4 L1301.7 966.1 L1301.1 964.7 L1300.4 963.4 L1299.8 962 L1299.1 960.6 L1298.5 959.3 L1297.9 957.9 L1297.3 956.5 L1296.7 955.1 L1296.1 953.7 L1295.5 952.3 L1295 950.9 L1294.5 949.5 L1293.9 948.1 L1293.5 946.6 L1293 945.2 L1292.5 943.7 L1292.1 942.3 L1291.6 940.8 L1291.2 939.4 L1290.8 937.9 L1290.4 936.4 L1290 934.9 L1289.6 933.5 L1289.2 932 L1288.8 930.5 L1288.4 929 L1288 927.6 L1287.6 926.1 L1287.2 924.6 L1286.8 923.2 L1286.4 921.7 L1285.9 920.2 L1285.5 918.8 L1285.1 917.3 L1284.6 915.9 L1284.2 914.5 L1283.7 913 L1283.2 911.6 L1282.7 910.2 L1282.2 908.8 L1281.6 907.4 L1281.1 906 L1280.5 904.7 L1279.9 903.3 L1279.3 901.9 L1278.6 900.6 L1277.9 899.3 L1277.2 898 L1276.5 896.7 L1275.7 895.4 L1274.9 894.2 L1274.1 892.9 L1273.2 891.7 L1272.3 890.5 L1271.4 889.3 L1270.5 888.2 L1269.5 887 L1268.5 885.9 L1267.5 884.8 L1266.4 883.7 L1265.4 882.7 L1264.3 881.6 L1263.2 880.6 L1262 879.7 L1260.9 878.7 L1259.7 877.8 L1258.5 876.9 L1257.3 876 L1256 875.2 L1254.8 874.3 L1253.5 873.6 L1252.2 872.8 L1250.9 872.1 L1249.6 871.4 L1248.3 870.7 L1246.9 870.1 L1245.5 869.5 L1244.1 868.9 L1242.7 868.4 L1241.3 867.9 L1239.9 867.5 L1238.5 867.1 L1237 866.7 L1235.5 866.3 L1234.1 866 L1232.6 865.7 L1231.1 865.5 L1229.6 865.2 L1228.1 865 L1226.6 864.8 L1225.1 864.6 L1223.6 864.5 L1222 864.4 L1220.5 864.2 L1219 864.1 L1217.4 864 L1215.9 864 L1214.3 863.9 L1212.8 863.8 L1211.2 863.8 L1209.7 863.8 L1208.2 863.7 L1206.6 863.7 L1205.1 863.6 L1203.5 863.6 L1202 863.6 L1200.5 863.5 L1199 863.5 L1197.4 863.5 L1195.9 863.4 L1194.4 863.4 L1192.9 863.4 L1191.4 863.3 L1189.9 863.3 L1188.3 863.2 L1186.8 863.2 L1185.3 863.2 L1183.8 863.1 L1182.3 863.1 L1180.8 863 L1179.3 863 L1177.8 863 L1176.3 862.9 L1174.9 862.9 L1173.4 862.9 L1171.9 862.8 L1170.4 862.8 L1168.9 862.8 L1167.4 862.7 L1165.9 862.7 L1164.4 862.6 L1162.9 862.6 L1161.5 862.6 L1160 862.5 L1158.5 862.5 L1157 862.5 L1155.5 862.5 L1154 862.4 L1152.6 862.4 L1151.1 862.4 L1149.6 862.3 L1148.1 862.3 L1146.6 862.3 L1145.1 862.3 L1143.6 862.2 L1142.2 862.2 L1140.7 862.2 L1139.2 862.2 L1137.7 862.2 L1136.2 862.1 L1134.7 862.1 L1133.2 862.1 L1131.7 862.1 L1130.2 862.1 L1128.7 862.1 L1127.2 862.1 L1125.7 862.1 L1124.2 862.1 L1122.7 862.1 L1121.2 862.1 L1119.7 862.1 L1118.1 862.1 L1116.6 862.1 L1115.1 862.1 L1113.6 862.1 L1112.1 862.1 L1110.5 862.1 L1109 862.1 L1107.5 862.1 L1105.9 862.1 L1104.4 862.2 L1102.8 862.2 L1101.3 862.2" fill="none" stroke="#ff1010" stroke-width="2.8" stroke-linejoin="round" stroke-linecap="round" />
<path d="M1299.5 840 L1299.6 838.5 L1299.6 837 L1299.6 835.4 L1299.6 833.9 L1299.6 832.4 L1299.6 830.9 L1299.6 829.3 L1299.6 827.8 L1299.7 826.3 L1299.7 824.8 L1299.7 823.2 L1299.7 821.7 L1299.7 820.2 L1299.7 818.7 L1299.7 817.2 L1299.7 815.6 L1299.7 814.1 L1299.7 812.6 L1299.8 811.1 L1299.8 809.5 L1299.8 808 L1299.9 806.5 L1299.9 805 L1299.9 803.5 L1300 802 L1300.1 800.5 L1300.1 798.9 L1300.2 797.4 L1300.3 795.9 L1300.4 794.4 L1300.5 792.9 L1300.6 791.4 L1300.8 789.9 L1300.9 788.4 L1301.1 786.9 L1301.2 785.4 L1301.4 783.9 L1301.6 782.4 L1301.8 781 L1302 779.5 L1302.2 778 L1302.5 776.5 L1302.8 775 L1303 773.6 L1303.3 772.1 L1303.6 770.6 L1304 769.2 L1304.3 767.7 L1304.6 766.2 L1305 764.8 L1305.3 763.3 L1305.7 761.8 L1306 760.4 L1306.4 758.9 L1306.7 757.5 L1307.1 756 L1307.4 754.5 L1307.8 753.1 L1308.1 751.6 L1308.5 750.1 L1308.8 748.6 L1309.1 747.2 L1309.4 745.7 L1309.7 744.2 L1309.9 742.7 L1310.2 741.2 L1310.4 739.8 L1310.6 738.3 L1310.8 736.8 L1311 735.3 L1311.1 733.8 L1311.3 732.2 L1311.4 730.7 L1311.6 729.2 L1311.7 727.7 L1311.8 726.2 L1311.9 724.7 L1312 723.2 L1312.1 721.6 L1312.1 720.1 L1312.2 718.6 L1312.3 717.1 L1312.4 715.6 L1312.4 714 L1312.5 712.5 L1312.6 711 L1312.6 709.5 L1312.7 707.9 L1312.7 706.4 L1312.8 704.9 L1312.9 703.4 L1312.9 701.9 L1313 700.3 L1313.1 698.8 L1313.1 697.3 L1313.2 695.8 L1313.3 694.2 L1313.3 692.7 L1313.4 691.2 L1313.5 689.7 L1313.5 688.2 L1313.6 686.6 L1313.7 685.1 L1313.7 683.6 L1313.8 682.1 L1313.9 680.6 L1314 679 L1314.1 677.5 L1314.1 676 L1314.2 674.5 L1314.3 673 L1314.4 671.5 L1314.5 669.9 L1314.6 668.4 L1314.7 666.9 L1314.8 665.4 L1315 663.9 L1315.1 662.4 L1315.2 660.9 L1315.3 659.4 L1315.5 657.8 L1315.6 656.3 L1315.7 654.8 L1315.9 653.3 L1316 651.8 L1316.2 650.3 L1316.3 648.8 L1316.5 647.3 L1316.7 645.8 L1316.9 644.3 L1317.1 642.8 L1317.3 641.3 L1317.5 639.8 L1317.7 638.3 L1317.9 636.8 L1318.1 635.3 L1318.3 633.8 L1318.6 632.3 L1318.8 630.8 L1319.1 629.3 L1319.3 627.8 L1319.6 626.3 L1319.9 624.8 L1320.1 623.3 L1320.4 621.9 L1320.7 620.4 L1321.1 618.9 L1321.4 617.4 L1321.7 615.9" fill="none" stroke="#ff1010" stroke-width="2.6" stroke-linejoin="round" stroke-linecap="round" />
<path d="M1277 862.7 L1278.6 862.9 L1280.2 863.1 L1281.9 863.2 L1283.6 863.2 L1285.2 863 L1286.8 862.7 L1288.3 862.3 L1289.7 861.7 L1290.9 861 L1291.9 860.1 L1292.8 859 L1293.6 857.8 L1294.2 856.5 L1294.7 855.2 L1295.2 853.8 L1295.7 852.4 L1296.2 851 L1296.6 849.6 L1296.9 848.2 L1297.3 846.7 L1297.6 845.3 L1297.9 843.9 L1298.2 842.4 L1298.4 841 L1298.7 839.5 L1298.9 838.1 L1299.1 836.6 L1299.2 835.1 L1299.4 833.7 L1299.5 832.2 L1299.6 830.7 L1299.7 829.2 L1299.8 827.7 L1299.8 826.2 L1299.9 824.7 L1299.9 823.2 L1299.9 821.7 L1299.9 820.2 L1299.9 818.7 L1299.9 817.2 L1299.9 815.6 L1299.9 814.1 L1299.9 812.6 L1299.8 811.1 L1299.8 809.5 L1299.7 808 L1299.7 806.5 L1299.6 805 L1299.6 803.4 L1299.5 801.9 L1299.5 800.4 L1299.4 798.8 L1299.4 797.3 L1299.3 795.8 L1299.3 794.2 L1299.3 792.7 L1299.2 791.2 L1299.2 789.7 L1299.2 788.1 L1299.2 786.6 L1299.2 785.1 L1299.2 783.6 L1299.2 782.1 L1299.3 780.6 L1299.3 779 L1299.4 777.5 L1299.5 776 L1299.6 774.5 L1299.7 773 L1299.8 771.5 L1299.9 770 L1300.1 768.6 L1300.2 767.1 L1300.4 765.6 L1300.5 764.1 L1300.7 762.6 L1300.9 761.1 L1301.1 759.7 L1301.3 758.2 L1301.5 756.7 L1301.7 755.2 L1301.9 753.7 L1302.1 752.3 L1302.3 750.8 L1302.5 749.3 L1302.8 747.8 L1303 746.4 L1303.2 744.9 L1303.4 743.4 L1303.7 741.9 L1303.9 740.5 L1304.1 739 L1304.3 737.5 L1304.6 736 L1304.8 734.6 L1305 733.1 L1305.2 731.6 L1305.4 730.1 L1305.6 728.6 L1305.8 727.1 L1306 725.7 L1306.2 724.2 L1306.4 722.7 L1306.6 721.2 L1306.7 719.7 L1306.9 718.2 L1307.1 716.7 L1307.2 715.2 L1307.4 713.7 L1307.5 712.2 L1307.7 710.7 L1307.8 709.2 L1307.9 707.7 L1308.1 706.2 L1308.2 704.7 L1308.3 703.2 L1308.5 701.6 L1308.6 700.1 L1308.7 698.6 L1308.8 697.1 L1308.9 695.6 L1309.1 694.1 L1309.2 692.6 L1309.3 691.1 L1309.4 689.6 L1309.5 688.1 L1309.6 686.6 L1309.7 685.1 L1309.8 683.6 L1309.9 682.1 L1310.1 680.6 L1310.2 679 L1310.3 677.5 L1310.4 676 L1310.5 674.5 L1310.6 673 L1310.7 671.5 L1310.8 670 L1311 668.6 L1311.1 667.1 L1311.2 665.6 L1311.3 664.1 L1311.4 662.6 L1311.6 661.1 L1311.7 659.6 L1311.8 658.1 L1312 656.6 L1312.1 655.1 L1312.3 653.6 L1312.5 652.1 L1312.6 650.6 L1312.8 649.2 L1313 647.6 L1313.2 646.1 L1313.4 644.6 L1313.7 643.1 L1313.9 641.6 L1314.1 640.1 L1314.4 638.6 L1314.7 637 L1314.9 635.5 L1315.2 634 L1315.6 632.4 L1315.9 630.9 L1316.2 629.3 L1316.6 627.8 L1317 626.2 L1317.4 624.6 L1317.8 623.1 L1318.3 621.6 L1318.7 620.3 L1319.3 619.2 L1319.8 618.3 L1320.4 617.8 L1321.1 617.6 L1321.8 617.7 L1322.6 618.3 L1323.4 619.1 L1324.2 620.1 L1325.1 621.4 L1325.9 622.8 L1326.7 624.2 L1327.5 625.7 L1328.3 627.2 L1329.1 628.7 L1329.8 630.1 L1330.5 631.6 L1331.1 633 L1331.8 634.4 L1332.4 635.9 L1333 637.3 L1333.6 638.7 L1334.1 640.1 L1334.7 641.6 L1335.2 643 L1335.7 644.4 L1336.1 645.8 L1336.6 647.3 L1337 648.7 L1337.5 650.1 L1337.9 651.6 L1338.3 653 L1338.6 654.4 L1339 655.9 L1339.4 657.3 L1339.7 658.8 L1340 660.2 L1340.3 661.7 L1340.6 663.1 L1340.9 664.6 L1341.2 666 L1341.5 667.5 L1341.8 669 L1342.1 670.4 L1342.3 671.9 L1342.6 673.4 L1342.8 674.9 L1343.1 676.3 L1343.3 677.8 L1343.5 679.3 L1343.8 680.8 L1344 682.3 L1344.2 683.7 L1344.4 685.2 L1344.6 686.7 L1344.8 688.2 L1345.1 689.7 L1345.3 691.2 L1345.5 692.7 L1345.7 694.2 L1345.9 695.7 L1346.1 697.2 L1346.3 698.7 L1346.5 700.2 L1346.7 701.7 L1346.9 703.2 L1347.1 704.7 L1347.3 706.2 L1347.6 707.7 L1347.8 709.2 L1348 710.6 L1348.2 712.1 L1348.4 713.6 L1348.7 715.1 L1348.9 716.6 L1349.2 718.1 L1349.4 719.6 L1349.7 721.1 L1349.9 722.6 L1350.2 724 L1350.5 725.5 L1350.7 727 L1351 728.5 L1351.3 730 L1351.6 731.4 L1352 732.9 L1352.3 734.4 L1352.6 735.8 L1353 737.3 L1353.3 738.8 L1353.7 740.2 L1354.1 741.7 L1354.4 743.1 L1354.8 744.6 L1355.2 746 L1355.6 747.4 L1356 748.9 L1356.4 750.3 L1356.9 751.8 L1357.3 753.2 L1357.7 754.7 L1358.1 756.1 L1358.5 757.6 L1358.9 759 L1359.3 760.5 L1359.7 761.9 L1360.1 763.4 L1360.4 764.8 L1360.8 766.3 L1361.2 767.8 L1361.5 769.3 L1361.9 770.7 L1362.3 772.2 L1362.7 773.6 L1363.1 775.1 L1363.5 776.5 L1364 778 L1364.4 779.4 L1365 780.8 L1365.5 782.2 L1366.1 783.6 L1366.7 784.9 L1367.4 786.3 L1368.2 787.6 L1369 788.9 L1369.8 790.2 L1370.7 791.4 L1371.6 792.6 L1372.5 793.8 L1373.5 795 L1374.5 796.1 L1375.6 797.2 L1376.7 798.2 L1377.8 799.2 L1379 800.2 L1380.2 801.1 L1381.4 801.9 L1382.7 802.7 L1384 803.5 L1385.3 804.2 L1386.6 804.9 L1388 805.5 L1389.3 806 L1390.7 806.5 L1392.1 807 L1393.6 807.4 L1395 807.8 L1396.5 808.2 L1397.9 808.5 L1399.4 808.8 L1400.9 809 L1402.4 809.3 L1403.9 809.5 L1405.4 809.7 L1406.9 810 L1408.4 810.2 L1409.9 810.4 L1411.4 810.6 L1412.9 810.8 L1414.4 811 L1415.9 811.2 L1417.4 811.4 L1418.9 811.6 L1420.4 811.8 L1421.9 812 L1423.4 812.2 L1424.9 812.4 L1426.4 812.6 L1427.9 812.8 L1429.4 813 L1430.9 813.2 L1432.4 813.4 L1433.9 813.6 L1435.4 813.7 L1436.9 813.9 L1438.4 814.1 L1439.8 814.3 L1441.3 814.5 L1442.8 814.7 L1444.3 814.8 L1445.8 815 L1447.3 815.2 L1448.8 815.4 L1450.3 815.5 L1451.8 815.7 L1453.2 815.9 L1454.7 816 L1456.2 816.2 L1457.7 816.4 L1459.2 816.5 L1460.7 816.7 L1462.2 816.8 L1463.7 817 L1465.2 817.1 L1466.7 817.2 L1468.2 817.4 L1469.7 817.5 L1471.1 817.6 L1472.6 817.8 L1474.1 817.9 L1475.6 818 L1477.1 818.1 L1478.6 818.2 L1480.1 818.3 L1481.6 818.4 L1483.2 818.5 L1484.7 818.6 L1486.2 818.7 L1487.7 818.8 L1489.2 818.9 L1490.7 819 L1492.2 819.1 L1493.7 819.1 L1494.2 819.2 L1494.2 820.7 L1494.1 822.2 L1494.1 823.7 L1494.1 825.3 L1494.2 826.8 L1494.2 828.3 L1494.2 829.9 L1494.3 831.4 L1494.3 833 L1494.3 834.5 L1494.4 836.1 L1494.4 837.6 L1494.5 839.2 L1494.6 840.8 L1494.6 842.3 L1494.7 843.9 L1494.7 845.5 L1494.8 847.1 L1494.8 848.7 L1494.8 850.2 L1494.8 851.8 L1494.9 853.4 L1494.9 855 L1494.9 856.6 L1494.8 858.1 L1494.8 859.7 L1494.8 861.3 L1494.7 862.8 L1494.6 864.4 L1494.5 866 L1494.4 867.5 L1494.3 869.1 L1494.1 870.6 L1494 872.2 L1493.8 873.7 L1493.5 875.2 L1493.3 876.8 L1493 878.3 L1492.7 879.8 L1492.4 881.3 L1492 882.8 L1491.6 884.3 L1491.2 885.7 L1490.8 887.2 L1490.3 888.6 L1489.8 890.1 L1489.2 891.5 L1488.6 892.9 L1488 894.3 L1487.3 895.7 L1486.8 894.9 L1485.4 895.6 L1484 896.2 L1482.5 896.8 L1481.1 897.4 L1479.7 897.9 L1478.3 898.4 L1476.8 898.9 L1475.4 899.4 L1473.9 899.9 L1472.5 900.3 L1471 900.8 L1469.6 901.2 L1468.1 901.5 L1466.7 901.9 L1465.2 902.3 L1463.7 902.6 L1462.3 902.9 L1460.8 903.2 L1459.3 903.5 L1457.8 903.8 L1456.3 904.1 L1454.9 904.3 L1453.4 904.6 L1451.9 904.8 L1450.4 905 L1448.9 905.3 L1447.4 905.5 L1445.9 905.7 L1444.4 905.9 L1442.9 906 L1441.4 906.2 L1439.9 906.4 L1438.4 906.6 L1436.9 906.7 L1435.4 906.9 L1433.9 907.1 L1432.4 907.2 L1430.9 907.4 L1429.4 907.5 L1427.9 907.7 L1426.4 907.8 L1424.9 908 L1423.4 908.1 L1421.9 908.3 L1420.4 908.5 L1418.9 908.6 L1417.4 908.8 L1415.9 909 L1414.4 909.2 L1412.9 909.4 L1411.4 909.5 L1409.9 909.8 L1408.4 910 L1406.9 910.2 L1405.5 910.4 L1404 910.7 L1402.5 910.9 L1401 911.2 L1399.5 911.4 L1398 911.7 L1396.5 912 L1395.1 912.3 L1393.6 912.7 L1392.1 913 L1390.6 913.4 L1389.2 913.8 L1387.7 914.2 L1386.2 914.6 L1384.8 915 L1383.3 915.5 L1381.9 915.9 L1380.5 916.4 L1379 916.9 L1377.6 917.5 L1376.2 918 L1374.9 918.6 L1373.5 919.3 L1372.2 919.9 L1370.9 920.6 L1369.6 921.3 L1368.3 922 L1367.1 922.8 L1365.9 923.6 L1364.7 924.4 L1363.5 925.3 L1362.4 926.2 L1361.3 927.2 L1360.3 928.1 L1359.3 929.2 L1358.3 930.2 L1357.4 931.3 L1356.5 932.5 L1355.7 933.6 L1354.9 934.8 L1354.1 936.1 L1353.4 937.3 L1352.6 938.6 L1352 939.9 L1351.3 941.3 L1350.7 942.6 L1350.1 944 L1349.5 945.4 L1349 946.9 L1348.4 948.3 L1347.9 949.8 L1347.4 951.3 L1347 952.8 L1346.5 954.3 L1346.1 955.8 L1345.7 957.3 L1345.3 958.9 L1344.9 960.4 L1344.5 962 L1344.1 963.5 L1343.8 965.1 L1343.4 966.7 L1343.1 968.2 L1342.7 969.8 L1342.4 971.3 L1342.1 972.9 L1341.7 974.4 L1341.4 976 L1341.1 977.5 L1340.7 979 L1340.4 980.5 L1340 982 L1339.7 983.5 L1339.4 984.9 L1339 986.4 L1338.6 987.8 L1338.2 989.2 L1337.9 990.6 L1337.5 992 L1337.1 993.4 L1336.7 994.8 L1336.2 996.2 L1335.8 997.5 L1335.4 998.9 L1334.9 1000.3 L1334.5 1001.7 L1334 1003.1 L1333.6 1004.4 L1333.1 1005.8 L1332.6 1007.3 L1332.1 1008.7 L1331.6 1010.1 L1331.1 1011.6 L1330.6 1013.1 L1330 1014.5 L1329.5 1016 L1328.9 1017.3 L1328.3 1018.5 L1327.7 1019.4 L1327.1 1020.1 L1326.5 1020.5 L1325.8 1020.5 L1325.1 1020.1 L1324.3 1019.4 L1323.6 1018.3 L1322.8 1017 L1322 1015.5 L1321.2 1013.9 L1320.4 1012.2 L1319.7 1010.4 L1318.9 1008.8 L1318.1 1007.1 L1317.3 1005.6 L1316.5 1004.1 L1315.8 1002.6 L1315.1 1001.2 L1314.3 999.8 L1313.6 998.5 L1312.9 997.1 L1312.3 995.8 L1311.6 994.4 L1311 993.1 L1310.4 991.7 L1309.8 990.4 L1309.3 989 L1308.7 987.7 L1308.2 986.3 L1307.6 984.9 L1307.1 983.6 L1306.5 982.2 L1305.9 980.8 L1305.4 979.5 L1304.8 978.1 L1304.1 976.7 L1303.5 975.4 L1302.9 974 L1302.2 972.7 L1301.6 971.3 L1300.9 970 L1300.3 968.6 L1299.6 967.3 L1299 965.9 L1298.3 964.6 L1297.7 963.2 L1297 961.8 L1296.4 960.5 L1295.8 959.1 L1295.2 957.7 L1294.6 956.3 L1294 954.9 L1293.4 953.5 L1292.9 952.1 L1292.4 950.7 L1291.8 949.3 L1291.4 947.8 L1290.9 946.4 L1290.4 944.9 L1290 943.5 L1289.5 942 L1289.1 940.6 L1288.7 939.1 L1288.3 937.6 L1287.9 936.1 L1287.5 934.7 L1287.1 933.2 L1286.7 931.7 L1286.3 930.2 L1285.9 928.8 L1285.5 927.3 L1285.1 925.8 L1284.7 924.4 L1284.3 922.9 L1283.8 921.4 L1283.4 920 L1283 918.5 L1282.5 917.1 L1282.1 915.7 L1281.6 914.2 L1281.1 912.8 L1280.6 911.4 L1280.1 910 L1279.5 908.6 L1279 907.2 L1278.4 905.9 L1277.8 904.5 L1277.2 903.1 L1276.5 901.8 L1275.8 900.5 L1275.1 899.2 L1274.4 897.9 L1273.6 896.6 L1272.8 895.4 L1272 894.1 L1271.1 892.9 L1270.2 891.7 L1269.3 890.5 L1268.4 889.4 L1267.4 888.2 L1266.4 887.1 L1265.4 886 L1264.3 884.9 L1263.3 883.9 L1262.2 882.8 L1261.1 881.8 L1259.9 880.9 L1258.8 879.9 L1257.6 879 L1256.4 878.1 L1255.2 877.2 L1253.9 876.4 L1252.7 875.5 L1251.4 874.8 L1250.1 874 L1248.8 873.3 L1247.5 872.6 L1246.2 871.9 L1244.8 871.3 L1243.4 870.7 L1242 870.1 L1240.6 869.6 L1239.2 869.1 L1237.8 868.7 L1236.4 868.3 L1234.9 867.9 L1233.4 867.5 L1232 867.2 L1230.5 866.9 L1229 866.7 L1227.5 866.4 L1226 866.2 L1224.5 866 L1223 865.8 L1221.5 865.7 L1219.9 865.6 L1218.4 865.4 L1216.9 865.3 L1215.3 865.2 L1213.8 865.2 L1212.2 865.1 L1210.7 865 L1209.1 865 L1207.6 865 L1206.1 864.9 L1204.5 864.9 L1203 864.8 L1201.4 864.8 L1199.9 864.8 L1198.4 864.7 L1196.9 864.7 L1195.3 864.7 L1193.8 864.6 L1192.3 864.6 L1190.8 864.6 L1189.3 864.5 L1187.8 864.5 L1186.2 864.4 L1184.7 864.4 L1183.2 864.4 L1181.7 864.3 L1180.2 864.3 L1178.7 864.2 L1177.2 864.2 L1175.7 864.2 L1174.2 864.1 L1172.8 864.1 L1171.3 864.1 L1169.8 864 L1168.3 864 L1166.8 864 L1165.3 863.9 L1163.8 863.9 L1162.3 863.8 L1160.8 863.8 L1159.4 863.8 L1157.9 863.7 L1156.4 863.7 L1154.9 863.7 L1153.4 863.7 L1151.9 863.6 L1150.5 863.6 L1149 863.6 L1147.5 863.5 L1146 863.5 L1144.5 863.5 L1143 863.5 L1141.5 863.4 L1140.1 863.4 L1138.6 863.4 L1137.1 863.4 L1135.6 863.4 L1134.1 863.3 L1132.6 863.3 L1131.1 863.3 L1129.6 863.3 L1128.1 863.3 L1126.6 863.3 L1125.1 863.3 L1123.6 863.3 L1122.1 863.3 L1120.6 863.3 L1119.1 863.3 L1117.6 863.3 L1116 863.3 L1114.5 863.3 L1113 863.3 L1111.5 863.3 L1110 863.3 L1108.4 863.3 L1106.9 863.3 L1105.4 863.3 L1103.8 863.3 L1102.3 863.4 L1100.7 863.4 L1099.2 863.4" fill="none" stroke="#1010ff" stroke-width="2.6" stroke-linejoin="round" stroke-linecap="round" stroke-dasharray="10,4,3,4" />
<path d="M1278.2 864.7 L1279.8 864.9 L1281.4 865.1 L1283.1 865.2 L1284.8 865.2 L1286.4 865 L1288 864.7 L1289.5 864.3 L1290.9 863.7 L1292.1 863 L1293.1 862.1 L1294 861 L1294.8 859.8 L1295.4 858.5 L1295.9 857.2 L1296.4 855.8 L1296.9 854.4 L1297.4 853 L1297.8 851.6 L1298.1 850.2 L1298.5 848.7 L1298.8 847.3 L1299.1 845.9 L1299.4 844.4 L1299.6 843 L1299.9 841.5 L1300.1 840.1 L1300.3 838.6 L1300.4 837.1 L1300.6 835.7 L1300.7 834.2 L1300.8 832.7 L1300.9 831.2 L1301 829.7 L1301 828.2 L1301.1 826.7 L1301.1 825.2 L1301.1 823.7 L1301.1 822.2 L1301.1 820.7 L1301.1 819.2 L1301.1 817.6 L1301.1 816.1 L1301.1 814.6 L1301 813.1 L1301 811.5 L1300.9 810 L1300.9 808.5 L1300.8 807 L1300.8 805.4 L1300.7 803.9 L1300.7 802.4 L1300.6 800.8 L1300.6 799.3 L1300.5 797.8 L1300.5 796.2 L1300.5 794.7 L1300.4 793.2 L1300.4 791.7 L1300.4 790.1 L1300.4 788.6 L1300.4 787.1 L1300.4 785.6 L1300.4 784.1 L1300.5 782.6 L1300.5 781 L1300.6 779.5 L1300.7 778 L1300.8 776.5 L1300.9 775 L1301 773.5 L1301.1 772 L1301.3 770.6 L1301.4 769.1 L1301.6 767.6 L1301.7 766.1 L1301.9 764.6 L1302.1 763.1 L1302.3 761.7 L1302.5 760.2 L1302.7 758.7 L1302.9 757.2 L1303.1 755.7 L1303.3 754.3 L1303.5 752.8 L1303.7 751.3 L1304 749.8 L1304.2 748.4 L1304.4 746.9 L1304.6 745.4 L1304.9 743.9 L1305.1 742.5 L1305.3 741 L1305.5 739.5 L1305.8 738 L1306 736.6 L1306.2 735.1 L1306.4 733.6 L1306.6 732.1 L1306.8 730.6 L1307 729.1 L1307.2 727.7 L1307.4 726.2 L1307.6 724.7 L1307.8 723.2 L1307.9 721.7 L1308.1 720.2 L1308.3 718.7 L1308.4 717.2 L1308.6 715.7 L1308.7 714.2 L1308.9 712.7 L1309 711.2 L1309.1 709.7 L1309.3 708.2 L1309.4 706.7 L1309.5 705.2 L1309.7 703.6 L1309.8 702.1 L1309.9 700.6 L1310 699.1 L1310.1 697.6 L1310.3 696.1 L1310.4 694.6 L1310.5 693.1 L1310.6 691.6 L1310.7 690.1 L1310.8 688.6 L1310.9 687.1 L1311 685.6 L1311.1 684.1 L1311.3 682.6 L1311.4 681 L1311.5 679.5 L1311.6 678 L1311.7 676.5 L1311.8 675 L1311.9 673.5 L1312 672 L1312.2 670.6 L1312.3 669.1 L1312.4 667.6 L1312.5 666.1 L1312.6 664.6 L1312.8 663.1 L1312.9 661.6 L1313 660.1 L1313.2 658.6 L1313.3 657.1 L1313.5 655.6 L1313.7 654.1 L1313.8 652.6 L1314 651.2 L1314.2 649.6 L1314.4 648.1 L1314.6 646.6 L1314.9 645.1 L1315.1 643.6 L1315.3 642.1 L1315.6 640.6 L1315.9 639 L1316.1 637.5 L1316.4 636 L1316.8 634.4 L1317.1 632.9 L1317.4 631.3 L1317.8 629.8 L1318.2 628.2 L1318.6 626.6 L1319 625.1 L1319.5 623.6 L1319.9 622.3 L1320.5 621.2 L1321 620.3 L1321.6 619.8 L1322.3 619.6 L1323 619.7 L1323.8 620.3 L1324.6 621.1 L1325.4 622.1 L1326.3 623.4 L1327.1 624.8 L1327.9 626.2 L1328.7 627.7 L1329.5 629.2 L1330.3 630.7 L1331 632.1 L1331.7 633.6 L1332.3 635 L1333 636.4 L1333.6 637.9 L1334.2 639.3 L1334.8 640.7 L1335.3 642.1 L1335.9 643.6 L1336.4 645 L1336.9 646.4 L1337.3 647.8 L1337.8 649.3 L1338.2 650.7 L1338.7 652.1 L1339.1 653.6 L1339.5 655 L1339.8 656.4 L1340.2 657.9 L1340.6 659.3 L1340.9 660.8 L1341.2 662.2 L1341.5 663.7 L1341.8 665.1 L1342.1 666.6 L1342.4 668 L1342.7 669.5 L1343 671 L1343.3 672.4 L1343.5 673.9 L1343.8 675.4 L1344 676.9 L1344.3 678.3 L1344.5 679.8 L1344.7 681.3 L1345 682.8 L1345.2 684.3 L1345.4 685.7 L1345.6 687.2 L1345.8 688.7 L1346 690.2 L1346.3 691.7 L1346.5 693.2 L1346.7 694.7 L1346.9 696.2 L1347.1 697.7 L1347.3 699.2 L1347.5 700.7 L1347.7 702.2 L1347.9 703.7 L1348.1 705.2 L1348.3 706.7 L1348.5 708.2 L1348.8 709.7 L1349 711.2 L1349.2 712.6 L1349.4 714.1 L1349.6 715.6 L1349.9 717.1 L1350.1 718.6 L1350.4 720.1 L1350.6 721.6 L1350.9 723.1 L1351.1 724.6 L1351.4 726 L1351.7 727.5 L1351.9 729 L1352.2 730.5 L1352.5 732 L1352.8 733.4 L1353.2 734.9 L1353.5 736.4 L1353.8 737.8 L1354.2 739.3 L1354.5 740.8 L1354.9 742.2 L1355.3 743.7 L1355.6 745.1 L1356 746.6 L1356.4 748 L1356.8 749.4 L1357.2 750.9 L1357.6 752.3 L1358.1 753.8 L1358.5 755.2 L1358.9 756.7 L1359.3 758.1 L1359.7 759.6 L1360.1 761 L1360.5 762.5 L1360.9 763.9 L1361.3 765.4 L1361.6 766.8 L1362 768.3 L1362.4 769.8 L1362.7 771.3 L1363.1 772.7 L1363.5 774.2 L1363.9 775.6 L1364.3 777.1 L1364.7 778.5 L1365.2 780 L1365.6 781.4 L1366.2 782.8 L1366.7 784.2 L1367.3 785.6 L1367.9 786.9 L1368.6 788.3 L1369.4 789.6 L1370.2 790.9 L1371 792.2 L1371.9 793.4 L1372.8 794.6 L1373.7 795.8 L1374.7 797 L1375.7 798.1 L1376.8 799.2 L1377.9 800.2 L1379 801.2 L1380.2 802.2 L1381.4 803.1 L1382.6 803.9 L1383.9 804.7 L1385.2 805.5 L1386.5 806.2 L1387.8 806.9 L1389.2 807.5 L1390.5 808 L1391.9 808.5 L1393.3 809 L1394.8 809.4 L1396.2 809.8 L1397.7 810.2 L1399.1 810.5 L1400.6 810.8 L1402.1 811 L1403.6 811.3 L1405.1 811.5 L1406.6 811.7 L1408.1 812 L1409.6 812.2 L1411.1 812.4 L1412.6 812.6 L1414.1 812.8 L1415.6 813 L1417.1 813.2 L1418.6 813.4 L1420.1 813.6 L1421.6 813.8 L1423.1 814 L1424.6 814.2 L1426.1 814.4 L1427.6 814.6 L1429.1 814.8 L1430.6 815 L1432.1 815.2 L1433.6 815.4 L1435.1 815.6 L1436.6 815.7 L1438.1 815.9 L1439.6 816.1 L1441 816.3 L1442.5 816.5 L1444 816.7 L1445.5 816.8 L1447 817 L1448.5 817.2 L1450 817.4 L1451.5 817.5 L1453 817.7 L1454.4 817.9 L1455.9 818 L1457.4 818.2 L1458.9 818.4 L1460.4 818.5 L1461.9 818.7 L1463.4 818.8 L1464.9 819 L1466.4 819.1 L1467.9 819.2 L1469.4 819.4 L1470.9 819.5 L1472.3 819.6 L1473.8 819.8 L1475.3 819.9 L1476.8 820 L1478.3 820.1 L1479.8 820.2 L1481.3 820.3 L1482.8 820.4 L1484.4 820.5 L1485.9 820.6 L1487.4 820.7 L1488.9 820.8 L1490.4 820.9 L1491.9 821 L1493.4 821.1 L1494.9 821.1 L1495.4 821.2 L1495.4 822.7 L1495.3 824.2 L1495.3 825.7 L1495.3 827.3 L1495.4 828.8 L1495.4 830.3 L1495.4 831.9 L1495.5 833.4 L1495.5 835 L1495.5 836.5 L1495.6 838.1 L1495.6 839.6 L1495.7 841.2 L1495.8 842.8 L1495.8 844.3 L1495.9 845.9 L1495.9 847.5 L1496 849.1 L1496 850.7 L1496 852.2 L1496 853.8 L1496.1 855.4 L1496.1 857 L1496.1 858.6 L1496 860.1 L1496 861.7 L1496 863.3 L1495.9 864.8 L1495.8 866.4 L1495.7 868 L1495.6 869.5 L1495.5 871.1 L1495.3 872.6 L1495.2 874.2 L1495 875.7 L1494.7 877.2 L1494.5 878.8 L1494.2 880.3 L1493.9 881.8 L1493.6 883.3 L1493.2 884.8 L1492.8 886.3 L1492.4 887.7 L1492 889.2 L1491.5 890.6 L1491 892.1 L1490.4 893.5 L1489.8 894.9 L1489.2 896.3 L1488.5 897.7 L1488 896.9 L1486.6 897.6 L1485.2 898.2 L1483.7 898.8 L1482.3 899.4 L1480.9 899.9 L1479.5 900.4 L1478 900.9 L1476.6 901.4 L1475.1 901.9 L1473.7 902.3 L1472.2 902.8 L1470.8 903.2 L1469.3 903.5 L1467.9 903.9 L1466.4 904.3 L1464.9 904.6 L1463.5 904.9 L1462 905.2 L1460.5 905.5 L1459 905.8 L1457.5 906.1 L1456.1 906.3 L1454.6 906.6 L1453.1 906.8 L1451.6 907 L1450.1 907.3 L1448.6 907.5 L1447.1 907.7 L1445.6 907.9 L1444.1 908 L1442.6 908.2 L1441.1 908.4 L1439.6 908.6 L1438.1 908.7 L1436.6 908.9 L1435.1 909.1 L1433.6 909.2 L1432.1 909.4 L1430.6 909.5 L1429.1 909.7 L1427.6 909.8 L1426.1 910 L1424.6 910.1 L1423.1 910.3 L1421.6 910.5 L1420.1 910.6 L1418.6 910.8 L1417.1 911 L1415.6 911.2 L1414.1 911.4 L1412.6 911.5 L1411.1 911.8 L1409.6 912 L1408.1 912.2 L1406.7 912.4 L1405.2 912.7 L1403.7 912.9 L1402.2 913.2 L1400.7 913.4 L1399.2 913.7 L1397.7 914 L1396.3 914.3 L1394.8 914.7 L1393.3 915 L1391.8 915.4 L1390.4 915.8 L1388.9 916.2 L1387.4 916.6 L1386 917 L1384.5 917.5 L1383.1 917.9 L1381.7 918.4 L1380.2 918.9 L1378.8 919.5 L1377.4 920 L1376.1 920.6 L1374.7 921.3 L1373.4 921.9 L1372.1 922.6 L1370.8 923.3 L1369.5 924 L1368.3 924.8 L1367.1 925.6 L1365.9 926.4 L1364.7 927.3 L1363.6 928.2 L1362.5 929.2 L1361.5 930.1 L1360.5 931.2 L1359.5 932.2 L1358.6 933.3 L1357.7 934.5 L1356.9 935.6 L1356.1 936.8 L1355.3 938.1 L1354.6 939.3 L1353.8 940.6 L1353.2 941.9 L1352.5 943.3 L1351.9 944.6 L1351.3 946 L1350.7 947.4 L1350.2 948.9 L1349.6 950.3 L1349.1 951.8 L1348.6 953.3 L1348.2 954.8 L1347.7 956.3 L1347.3 957.8 L1346.9 959.3 L1346.5 960.9 L1346.1 962.4 L1345.7 964 L1345.3 965.5 L1345 967.1 L1344.6 968.7 L1344.3 970.2 L1343.9 971.8 L1343.6 973.3 L1343.3 974.9 L1342.9 976.4 L1342.6 978 L1342.3 979.5 L1341.9 981 L1341.6 982.5 L1341.2 984 L1340.9 985.5 L1340.6 986.9 L1340.2 988.4 L1339.8 989.8 L1339.4 991.2 L1339.1 992.6 L1338.7 994 L1338.3 995.4 L1337.9 996.8 L1337.4 998.2 L1337 999.5 L1336.6 1000.9 L1336.1 1002.3 L1335.7 1003.7 L1335.2 1005.1 L1334.8 1006.4 L1334.3 1007.8 L1333.8 1009.3 L1333.3 1010.7 L1332.8 1012.1 L1332.3 1013.6 L1331.8 1015.1 L1331.2 1016.5 L1330.7 1018 L1330.1 1019.3 L1329.5 1020.5 L1328.9 1021.4 L1328.3 1022.1 L1327.7 1022.5 L1327 1022.5 L1326.3 1022.1 L1325.5 1021.4 L1324.8 1020.3 L1324 1019 L1323.2 1017.5 L1322.4 1015.9 L1321.6 1014.2 L1320.9 1012.4 L1320.1 1010.8 L1319.3 1009.1 L1318.5 1007.6 L1317.7 1006.1 L1317 1004.6 L1316.3 1003.2 L1315.5 1001.8 L1314.8 1000.5 L1314.1 999.1 L1313.5 997.8 L1312.8 996.4 L1312.2 995.1 L1311.6 993.7 L1311 992.4 L1310.5 991 L1309.9 989.7 L1309.4 988.3 L1308.8 986.9 L1308.3 985.6 L1307.7 984.2 L1307.1 982.8 L1306.6 981.5 L1306 980.1 L1305.3 978.7 L1304.7 977.4 L1304.1 976 L1303.4 974.7 L1302.8 973.3 L1302.1 972 L1301.5 970.6 L1300.8 969.3 L1300.2 967.9 L1299.5 966.6 L1298.9 965.2 L1298.2 963.8 L1297.6 962.5 L1297 961.1 L1296.4 959.7 L1295.8 958.3 L1295.2 956.9 L1294.6 955.5 L1294.1 954.1 L1293.6 952.7 L1293 951.3 L1292.6 949.8 L1292.1 948.4 L1291.6 946.9 L1291.2 945.5 L1290.7 944 L1290.3 942.6 L1289.9 941.1 L1289.5 939.6 L1289.1 938.1 L1288.7 936.7 L1288.3 935.2 L1287.9 933.7 L1287.5 932.2 L1287.1 930.8 L1286.7 929.3 L1286.3 927.8 L1285.9 926.4 L1285.5 924.9 L1285 923.4 L1284.6 922 L1284.2 920.5 L1283.7 919.1 L1283.3 917.7 L1282.8 916.2 L1282.3 914.8 L1281.8 913.4 L1281.3 912 L1280.7 910.6 L1280.2 909.2 L1279.6 907.9 L1279 906.5 L1278.4 905.1 L1277.7 903.8 L1277 902.5 L1276.3 901.2 L1275.6 899.9 L1274.8 898.6 L1274 897.4 L1273.2 896.1 L1272.3 894.9 L1271.4 893.7 L1270.5 892.5 L1269.6 891.4 L1268.6 890.2 L1267.6 889.1 L1266.6 888 L1265.5 886.9 L1264.5 885.9 L1263.4 884.8 L1262.3 883.8 L1261.1 882.9 L1260 881.9 L1258.8 881 L1257.6 880.1 L1256.4 879.2 L1255.1 878.4 L1253.9 877.5 L1252.6 876.8 L1251.3 876 L1250 875.3 L1248.7 874.6 L1247.4 873.9 L1246 873.3 L1244.6 872.7 L1243.2 872.1 L1241.8 871.6 L1240.4 871.1 L1239 870.7 L1237.6 870.3 L1236.1 869.9 L1234.6 869.5 L1233.2 869.2 L1231.7 868.9 L1230.2 868.7 L1228.7 868.4 L1227.2 868.2 L1225.7 868 L1224.2 867.8 L1222.7 867.7 L1221.1 867.6 L1219.6 867.4 L1218.1 867.3 L1216.5 867.2 L1215 867.2 L1213.4 867.1 L1211.9 867 L1210.3 867 L1208.8 867 L1207.3 866.9 L1205.7 866.9 L1204.2 866.8 L1202.6 866.8 L1201.1 866.8 L1199.6 866.7 L1198.1 866.7 L1196.5 866.7 L1195 866.6 L1193.5 866.6 L1192 866.6 L1190.5 866.5 L1189 866.5 L1187.4 866.4 L1185.9 866.4 L1184.4 866.4 L1182.9 866.3 L1181.4 866.3 L1179.9 866.2 L1178.4 866.2 L1176.9 866.2 L1175.4 866.1 L1174 866.1 L1172.5 866.1 L1171 866 L1169.5 866 L1168 866 L1166.5 865.9 L1165 865.9 L1163.5 865.8 L1162 865.8 L1160.6 865.8 L1159.1 865.7 L1157.6 865.7 L1156.1 865.7 L1154.6 865.7 L1153.1 865.6 L1151.7 865.6 L1150.2 865.6 L1148.7 865.5 L1147.2 865.5 L1145.7 865.5 L1144.2 865.5 L1142.7 865.4 L1141.3 865.4 L1139.8 865.4 L1138.3 865.4 L1136.8 865.4 L1135.3 865.3 L1133.8 865.3 L1132.3 865.3 L1130.8 865.3 L1129.3 865.3 L1127.8 865.3 L1126.3 865.3 L1124.8 865.3 L1123.3 865.3 L1121.8 865.3 L1120.3 865.3 L1118.8 865.3 L1117.2 865.3 L1115.7 865.3 L1114.2 865.3 L1112.7 865.3 L1111.2 865.3 L1109.6 865.3 L1108.1 865.3 L1106.6 865.3 L1105 865.3 L1103.5 865.4 L1101.9 865.4 L1100.4 865.4" fill="none" stroke="#1010ff" stroke-width="2.6" stroke-linejoin="round" stroke-linecap="round" />
<path d="M984 863.6 L1280 863.4" fill="none" stroke="#1010ff" stroke-width="3.4" stroke-linejoin="round" stroke-linecap="round" />
<path d="M1299.3 850 L1300.8 800 L1301.2 760 L1302.5 748 L1304.5 745 L1306.4 723 L1309.7 690 L1311.5 672.8 L1314.2 645 L1316.5 628 L1319 620" fill="none" stroke="#1010ff" stroke-width="2.6" stroke-linejoin="round" stroke-linecap="round" stroke-dasharray="10,4,3,4" />
<path d="M1298.5 845 L1299.4 790 L1300.8 760 L1305 735 L1308 700 L1311 672 L1313.5 650" fill="none" stroke="#1010ff" stroke-width="2.6" stroke-linejoin="round" stroke-linecap="round" />
<path d="M1320 622 L1320.7 623.3 L1321.3 624.7 L1321.8 626.1 L1322.2 627.5 L1322.5 629 L1322.8 630.6 L1323 632.2 L1323.1 633.8 L1323.2 635.4 L1323.3 637 L1323.4 638.7 L1323.5 640.4 L1323.6 642 L1323.8 643.7 L1323.9 645.4 L1324.1 647 L1324.4 648.7 L1324.8 650.3 L1325.2 651.9 L1325.7 653.5 L1326.3 655.1 L1327.1 656.6 L1327.9 657.9 L1328.8 659.1 L1329.8 659.9 L1330.9 660.4 L1332 660.4 L1333.1 660 L1334.3 659.2 L1335.4 658.3 L1336.5 657.5 L1337.5 657 L1338.4 657 L1339.1 657.6 L1339.7 659.1 L1340 661.7" fill="none" stroke="#1010ff" stroke-width="2.6" stroke-linejoin="round" stroke-linecap="round" stroke-dasharray="6,3" />
<path d="M1317 626.1 L1317.4 627 L1317.8 628.1 L1318.3 629.4 L1318.7 630.9 L1319.2 632.5 L1319.8 634.2 L1320.3 636 L1320.9 637.8 L1321.6 639.6 L1322.2 641.4 L1323 643.1 L1323.7 644.8 L1324.6 646.3 L1325.4 647.7 L1326.4 648.8 L1327.4 649.8 L1328.4 650.6 L1329.5 651 L1330.7 651.2 L1331.9 651 L1333.3 650.5 L1334.6 649.6 L1336.1 648.2" fill="none" stroke="#1010ff" stroke-width="2.4" stroke-linejoin="round" stroke-linecap="round" />
<path d="M1303.2 745 L1304 715 L1305.2 690 L1306.5 670 L1308 650" fill="none" stroke="#1010ff" stroke-width="2.6" stroke-linejoin="round" stroke-linecap="round" stroke-dasharray="8,4,2.5,4" />
<path d="M1299.5 850 L1300.8 820 L1301 760 L1301.2 700 L1301.6 650 L1302 615" fill="none" stroke="#1010ff" stroke-width="2.8" stroke-linejoin="round" stroke-linecap="round" stroke-dasharray="13,7" />
<path d="M1302 760 L1302.1 758.5 L1302.2 757 L1302.4 755.5 L1302.5 754 L1302.6 752.5 L1302.7 751 L1302.9 749.4 L1303 747.9 L1303.2 746.4 L1303.3 744.9 L1303.4 743.4 L1303.6 741.9 L1303.8 740.4 L1303.9 738.9 L1304.1 737.4 L1304.2 735.9 L1304.4 734.4 L1304.6 732.9 L1304.7 731.4 L1304.9 729.9 L1305.1 728.4 L1305.3 726.9 L1305.4 725.4 L1305.6 724 L1305.8 722.5 L1306 721 L1306.1 719.5 L1306.3 718 L1306.5 716.5 L1306.7 715 L1306.8 713.5 L1307 712 L1307.2 710.5 L1307.3 709 L1307.5 707.5 L1307.7 706 L1307.8 704.5 L1308 703 L1308.2 701.5 L1308.3 700 L1308.5 698.5 L1308.6 697 L1308.8 695.5 L1308.9 694 L1309.1 692.5 L1309.2 691 L1309.3 689.5 L1309.5 688 L1309.6 686.5 L1309.7 685 L1309.8 683.5 L1310 682 L1310.1 680.5 L1310.2 679 L1310.3 677.5 L1310.4 676 L1310.5 674.5 L1310.7 673 L1310.8 671.5 L1310.9 670 L1311 668.5 L1311.2 667 L1311.3 665.5 L1311.4 664 L1311.6 662.5 L1311.8 660.9 L1311.9 659.4 L1312.1 657.9 L1312.3 656.4 L1312.4 654.9 L1312.6 653.4 L1312.8 651.8 L1313.1 650.3 L1313.3 648.8 L1313.5 647.3 L1313.8 645.8 L1314 644.2 L1314.3 642.7 L1314.6 641.2 L1314.9 639.7 L1315.2 638.1 L1315.5 636.6 L1315.9 635.1 L1316.3 633.5 L1316.6 632 L1317 630.5 L1317.5 628.9 L1317.9 627.4 L1318.4 625.9 L1318.8 624.5 L1319.3 623.2 L1319.9 622 L1320.4 621 L1321 620.1 L1321.7 619.5 L1322.4 619.2 L1323.1 619.1 L1323.8 619.4 L1324.6 620 L1325.4 620.8 L1326.3 621.9 L1327.1 623.1 L1327.9 624.5 L1328.8 625.9 L1329.6 627.3 L1330.4 628.8 L1331.2 630.3 L1331.9 631.7 L1332.6 633.2 L1333.3 634.7 L1334 636.1 L1334.6 637.6 L1335.3 639.1 L1335.9 640.5 L1336.5 642 L1337.1 643.5 L1337.6 644.9 L1338.1 646.4 L1338.7 647.9 L1339.1 649.3 L1339.6 650.8 L1340.1 652.3 L1340.5 653.8 L1341 655.2 L1341.4 656.7 L1341.8 658.2 L1342.2 659.7 L1342.5 661.1 L1342.9 662.6 L1343.2 664.1 L1343.6 665.6 L1343.9 667 L1344.2 668.5 L1344.5 670 L1344.8 671.5 L1345 673 L1345.3 674.4 L1345.6 675.9 L1345.8 677.4 L1346 678.9 L1346.3 680.4 L1346.5 681.8 L1346.7 683.3 L1346.9 684.8 L1347.1 686.3 L1347.3 687.8 L1347.5 689.3 L1347.7 690.7 L1347.9 692.2 L1348.1 693.7 L1348.2 695.2 L1348.4 696.7 L1348.6 698.1 L1348.8 699.6 L1348.9 701.1 L1349.1 702.6 L1349.3 704.1 L1349.4 705.5 L1349.6 707 L1349.8 708.5 L1349.9 710 L1350.1 711.5 L1350.3 713 L1350.5 714.4 L1350.7 715.9 L1350.9 717.4 L1351 718.9 L1351.2 720.3 L1351.5 721.8 L1351.7 723.3 L1351.9 724.8 L1352.1 726.3 L1352.3 727.7 L1352.6 729.2 L1352.8 730.7 L1353.1 732.2 L1353.4 733.6 L1353.6 735.1 L1353.9 736.6 L1354.2 738.1 L1354.5 739.5 L1354.9 741 L1355.2 742.5 L1355.5 743.9 L1355.9 745.4 L1356.3 746.9 L1356.7 748.4 L1357.1 749.8 L1357.5 751.3 L1357.9 752.8 L1358.4 754.2 L1358.8 755.7 L1359.3 757.1 L1359.8 758.6 L1360.3 760.1 L1360.9 761.5 L1361.4 763 L1362 764.4 L1362.6 765.9 L1363.2 767.3 L1363.9 768.7 L1364.5 770.1 L1365.2 771.5 L1365.9 772.9 L1366.6 774.3 L1367.4 775.6 L1368.1 777 L1368.9 778.3 L1369.7 779.6 L1370.6 780.9 L1371.4 782.1 L1372.3 783.3 L1373.2 784.5 L1374.1 785.7 L1375.1 786.8 L1376.1 787.9 L1377.1 789 L1378.1 790 L1379.2 791 L1380.3 792 L1381.4 793 L1382.5 793.8 L1383.7 794.7 L1384.9 795.5 L1386.1 796.3 L1387.4 797 L1388.7 797.7 L1390 798.3 L1391.3 798.9 L1392.7 799.5 L1394 800 L1395.5 800.5 L1396.9 800.9 L1398.3 801.3 L1399.8 801.7 L1401.3 802.1 L1402.8 802.4 L1404.3 802.7 L1405.8 803 L1407.3 803.3 L1408.8 803.5 L1410.4 803.7 L1411.9 803.9 L1413.5 804.1 L1415.1 804.3 L1416.6 804.5 L1418.2 804.7 L1419.7 804.9 L1421.3 805 L1422.9 805.2 L1424.4 805.4 L1425.9 805.5 L1427.5 805.7 L1429 805.9 L1430.5 806.1 L1432 806.3 L1433.5 806.5 L1435 806.7 L1436.5 806.9 L1437.9 807.1 L1439.4 807.3 L1440.8 807.6 L1442.3 807.8 L1443.7 808 L1445.2 808.3 L1446.6 808.5 L1448.1 808.7 L1449.5 809 L1450.9 809.2 L1452.4 809.4 L1453.8 809.6 L1455.3 809.9 L1456.7 810.1 L1458.2 810.3 L1459.7 810.4 L1461.1 810.6 L1462.6 810.8 L1464.1 810.9 L1465.6 811.1 L1467.2 811.2 L1468.7 811.3 L1470.3 811.4 L1471.8 811.4 L1473.4 811.5 L1475 811.5 L1476.6 811.5 L1478.3 811.5 L1479.9 811.6 L1481.5 811.6 L1483.1 811.7 L1484.6 811.8 L1486.1 812 L1487.6 812.2 L1489 812.6 L1490.3 813 L1491.5 813.5 L1492.7 814.2 L1493.7 815 L1494.7 815.9 L1495.5 817 L1496.2 818.3 L1496.8 819.7 L1496.5 820 L1496.5 821.6 L1496.5 823.2 L1496.4 824.7 L1496.4 826.3 L1496.4 827.8 L1496.4 829.4 L1496.4 830.9 L1496.3 832.4 L1496.3 833.9 L1496.3 835.4 L1496.3 836.9 L1496.2 838.4 L1496.2 839.8 L1496.2 841.3 L1496.2 842.8 L1496.1 844.3 L1496.1 845.7 L1496.1 847.2 L1496 848.7 L1496 850.1 L1496 851.6 L1495.9 853 L1495.9 854.5 L1495.8 856 L1495.8 857.5 L1495.8 858.9 L1495.7 860.4 L1495.7 861.9 L1495.6 863.4 L1495.6 864.9 L1495.5 866.4 L1495.5 867.9 L1495.5 869.4 L1495.4 871 L1495.4 872.5 L1495.3 874.1 L1495.2 875.6 L1495.2 877.2 L1495.1 878.8 L1495 880.4 L1494.9 882 L1494.7 883.5 L1494.5 885.1 L1494.2 886.6 L1493.9 888.1 L1493.5 889.5 L1493 890.9 L1492.4 892.3 L1491.7 893.6 L1491 894.8 L1490.2 896.1 L1489.3 897.2 L1488.3 898.3 L1487.3 899.3 L1486.2 900.3 L1485.1 901.2 L1483.9 902.1 L1482.7 902.9 L1481.4 903.6 L1480 904.2 L1478.7 904.8 L1477.3 905.3 L1475.8 905.8 L1474.4 906.2 L1472.9 906.5 L1471.4 906.9 L1469.9 907.2 L1468.4 907.4 L1466.8 907.7 L1465.3 907.9 L1463.7 908.1 L1462.2 908.4 L1460.6 908.6 L1459.1 908.8 L1457.5 909 L1456 909.3 L1454.5 909.5 L1453 909.8 L1451.5 910.1 L1450.1 910.4 L1448.6 910.7 L1447.2 911 L1445.7 911.4 L1444.3 911.7 L1442.9 912 L1441.5 912.4 L1440.1 912.8 L1438.6 913.1 L1437.2 913.5 L1435.8 913.9 L1434.4 914.2 L1433 914.6 L1431.6 914.9 L1430.2 915.3 L1428.7 915.6 L1427.3 916 L1425.8 916.3 L1424.4 916.6 L1422.9 916.9 L1421.4 917.2 L1419.9 917.5 L1418.4 917.7 L1416.9 918 L1415.4 918.2 L1413.9 918.5 L1412.4 918.7 L1410.8 918.9 L1409.3 919.2 L1407.7 919.4 L1406.2 919.6 L1404.6 919.9 L1403.1 920.1 L1401.6 920.4 L1400 920.6 L1398.5 920.9 L1397 921.2 L1395.4 921.4 L1393.9 921.8 L1392.4 922.1 L1390.9 922.4 L1389.4 922.8 L1388 923.2 L1386.5 923.6 L1385.1 924 L1383.7 924.5 L1382.2 925 L1380.9 925.5 L1379.5 926.1 L1378.1 926.6 L1376.8 927.3 L1375.5 927.9 L1374.2 928.6 L1373 929.4 L1371.8 930.1 L1370.6 931 L1369.4 931.8 L1368.3 932.7 L1367.2 933.7 L1366.1 934.7 L1365 935.7 L1364 936.8 L1363 937.8 L1362 939 L1361.1 940.1 L1360.2 941.3 L1359.3 942.5 L1358.5 943.8 L1357.6 945 L1356.9 946.3 L1356.1 947.6 L1355.4 949 L1354.7 950.3 L1354 951.7 L1353.4 953.1 L1352.8 954.5 L1352.2 955.9 L1351.7 957.3 L1351.2 958.8 L1350.7 960.2 L1350.3 961.7 L1349.8 963.2 L1349.4 964.7 L1349 966.2 L1348.6 967.6 L1348.3 969.1 L1347.9 970.7 L1347.6 972.2 L1347.3 973.7 L1346.9 975.2 L1346.6 976.7 L1346.3 978.2 L1346 979.7 L1345.7 981.2 L1345.4 982.7 L1345.1 984.1 L1344.8 985.6 L1344.5 987.1 L1344.2 988.5 L1343.8 990 L1343.5 991.4 L1343.1 992.8 L1342.7 994.2 L1342.3 995.6 L1341.9 997 L1341.5 998.3 L1341.1 999.7 L1340.7 1001.1 L1340.3 1002.5 L1339.8 1003.8 L1339.4 1005.2 L1339 1006.6 L1338.6 1008 L1338.3 1009.4 L1337.9 1010.9 L1337.5 1012.3 L1337.2 1013.8 L1336.9 1015.3 L1336.6 1016.8 L1336.3 1018.4 L1336.1 1020 L1335.8 1021.6 L1335.7 1023.3 L1335.5 1025 L1335.4 1026.7 L1335.2 1028.4 L1335 1030.1 L1334.9 1031.7 L1334.6 1033.3 L1334.4 1034.9 L1334.1 1036.4 L1333.7 1037.8 L1333.2 1039.2 L1332.7 1040.4 L1332 1041.5 L1331.2 1042.5 L1330.3 1043.3 L1329.3 1044 L1328.2 1044.5 L1327 1044.8 L1325.8 1044.8 L1324.6 1044.5 L1323.5 1043.9 L1322.4 1043.1 L1321.4 1042 L1320.6 1040.8 L1319.8 1039.4 L1319.1 1038 L1318.6 1036.5 L1318.1 1035 L1317.8 1033.4 L1317.5 1031.8 L1317.2 1030.3 L1316.9 1028.7 L1316.7 1027.1 L1316.4 1025.6 L1316.2 1024 L1315.9 1022.5 L1315.5 1021 L1315.1 1019.5 L1314.7 1018 L1314.3 1016.5 L1313.9 1015.1 L1313.4 1013.6 L1312.9 1012.2 L1312.4 1010.8 L1311.8 1009.4 L1311.3 1008 L1310.7 1006.6 L1310.1 1005.2 L1309.5 1003.8 L1308.8 1002.5 L1308.2 1001.1 L1307.6 999.8 L1306.9 998.4 L1306.2 997.1 L1305.6 995.7 L1304.9 994.4 L1304.2 993.1 L1303.5 991.7 L1302.9 990.4 L1302.2 989.1 L1301.5 987.8 L1300.8 986.4 L1300.2 985.1 L1299.5 983.8 L1298.9 982.4 L1298.2 981.1 L1297.6 979.7 L1297 978.4 L1296.4 977 L1295.8 975.6 L1295.2 974.2 L1294.6 972.9 L1294.1 971.5 L1293.6 970.1 L1293.1 968.6 L1292.6 967.2 L1292.1 965.8 L1291.7 964.4 L1291.3 962.9 L1290.8 961.5 L1290.4 960 L1290.1 958.5 L1289.7 957.1 L1289.3 955.6 L1288.9 954.1 L1288.6 952.6 L1288.2 951.1 L1287.9 949.6 L1287.6 948.2 L1287.2 946.7 L1286.9 945.2 L1286.6 943.7 L1286.3 942.2 L1286 940.7 L1285.6 939.2 L1285.3 937.7 L1285 936.2 L1284.7 934.7 L1284.4 933.2 L1284 931.7 L1283.7 930.2 L1283.4 928.7 L1283 927.3 L1282.7 925.8 L1282.3 924.3 L1281.9 922.8 L1281.6 921.4 L1281.2 919.9 L1280.8 918.5 L1280.4 917 L1279.9 915.6 L1279.5 914.2 L1279 912.8 L1278.6 911.4 L1278.1 910 L1277.5 908.6 L1277 907.2 L1276.5 905.8 L1275.9 904.5 L1275.3 903.1 L1274.7 901.8 L1274 900.5 L1273.4 899.2 L1272.7 897.9 L1272 896.6 L1271.2 895.3 L1270.5 894.1 L1269.7 892.9 L1268.8 891.6 L1268 890.4 L1267.1 889.2 L1266.2 888.1 L1265.2 886.9 L1264.2 885.8 L1263.2 884.7 L1262.2 883.6 L1261.1 882.6 L1260 881.5 L1258.9 880.5 L1257.7 879.5 L1256.5 878.6 L1255.3 877.7 L1254.1 876.8 L1252.8 876 L1251.6 875.2 L1250.3 874.4 L1249 873.6 L1247.6 873 L1246.3 872.3 L1244.9 871.7 L1243.5 871.1 L1242.1 870.6 L1240.6 870.1 L1239.2 869.7 L1237.7 869.3 L1236.2 869 L1234.7 868.7 L1233.2 868.4 L1231.7 868.2 L1230.1 868 L1228.6 867.8 L1227.1 867.7 L1225.5 867.5 L1224 867.4 L1222.4 867.3 L1220.9 867.2 L1219.3 867.1 L1217.8 867 L1216.2 866.9 L1214.7 866.9 L1213.2 866.8 L1211.7 866.6 L1210.1 866.5 L1208.7 866.4 L1207.2 866.2 L1205.7 866 L1204.3 865.8 L1202.8 865.6 L1201.4 865.3 L1200 865" fill="none" stroke="#1010ff" stroke-width="2.8" stroke-linejoin="round" stroke-linecap="round" stroke-dasharray="13,7" />
<path d="M478.2 660 L479.2 640 L480.8 628 L483 624 L485.5 628 L487.2 640 L488.2 655" fill="none" stroke="#1414ff" stroke-width="4.2" stroke-linejoin="round" stroke-linecap="round" />
<path d="M490.3 642 L493 638.5 L495.8 637.5 L498.5 641 L500.2 650 L501.5 658" fill="none" stroke="#ff1414" stroke-width="3.6" stroke-linejoin="round" stroke-linecap="round" />
<rect x="135.1" y="635.3" width="218.8" height="193.5" fill="#fff" stroke="#a8a8a8" stroke-width="1.8"/>
<line x1="137.4" y1="652.7" x2="195.3" y2="652.7" stroke="#ff2a2a" stroke-width="3" stroke-linecap="butt"/>
<text x="202.8" y="661.9" font-size="25.5" text-anchor="start" font-family='"Liberation Sans", Arial, sans-serif' fill="#000"  stroke="#000" stroke-width="0.45">MEOX200_1</text>
<line x1="137.4" y1="684.3" x2="195.3" y2="684.3" stroke="#ff2a2a" stroke-width="3" stroke-linecap="butt"/>
<text x="202.8" y="693.5" font-size="25.5" text-anchor="start" font-family='"Liberation Sans", Arial, sans-serif' fill="#000"  stroke="#000" stroke-width="0.45">MEOX200_2</text>
<line x1="137.4" y1="715.9" x2="195.3" y2="715.9" stroke="#ff2a2a" stroke-width="3" stroke-linecap="butt"/>
<text x="202.8" y="725.1" font-size="25.5" text-anchor="start" font-family='"Liberation Sans", Arial, sans-serif' fill="#000"  stroke="#000" stroke-width="0.45">MEOX200_3</text>
<line x1="137.4" y1="747.5" x2="195.3" y2="747.5" stroke="#2a2aff" stroke-width="3" stroke-linecap="butt"/>
<text x="202.8" y="756.7" font-size="25.5" text-anchor="start" font-family='"Liberation Sans", Arial, sans-serif' fill="#000"  stroke="#000" stroke-width="0.45">NMP200_1</text>
<line x1="137.4" y1="779.1" x2="195.3" y2="779.1" stroke="#2a2aff" stroke-width="3" stroke-linecap="butt"/>
<text x="202.8" y="788.3" font-size="25.5" text-anchor="start" font-family='"Liberation Sans", Arial, sans-serif' fill="#000"  stroke="#000" stroke-width="0.45">NMP200_2</text>
<line x1="137.4" y1="810.7" x2="195.3" y2="810.7" stroke="#2a2aff" stroke-width="3" stroke-linecap="butt"/>
<text x="202.8" y="819.9" font-size="25.5" text-anchor="start" font-family='"Liberation Sans", Arial, sans-serif' fill="#000"  stroke="#000" stroke-width="0.45">NMP200_3</text>
<rect x="951.9" y="625.9" width="219.7" height="195.9" fill="#fff" stroke="#a8a8a8" stroke-width="1.8"/>
<line x1="954.4" y1="643.8" x2="1013.3" y2="643.8" stroke="#ff2020" stroke-width="3"/>
<text x="1020.3" y="653" font-size="25.6" text-anchor="start" font-family='"Liberation Sans", Arial, sans-serif' fill="#000"  stroke="#000" stroke-width="0.45">MEOX100_1</text>
<line x1="954.4" y1="675.6" x2="1013.3" y2="675.6" stroke="#ff2020" stroke-width="3" stroke-dasharray="12.5,11.5"/>
<text x="1020.3" y="684.9" font-size="25.6" text-anchor="start" font-family='"Liberation Sans", Arial, sans-serif' fill="#000"  stroke="#000" stroke-width="0.45">MEOX100_2</text>
<line x1="954.4" y1="707.5" x2="1013.3" y2="707.5" stroke="#ff2020" stroke-width="3" stroke-dasharray="2.7,12.7"/>
<text x="1020.3" y="716.7" font-size="25.6" text-anchor="start" font-family='"Liberation Sans", Arial, sans-serif' fill="#000"  stroke="#000" stroke-width="0.45">MEOX100_3</text>
<line x1="954.4" y1="739.3" x2="1013.3" y2="739.3" stroke="#2020ff" stroke-width="3" stroke-dasharray="13,4.8,2.8,11.5"/>
<text x="1020.3" y="748.5" font-size="25.6" text-anchor="start" font-family='"Liberation Sans", Arial, sans-serif' fill="#000"  stroke="#000" stroke-width="0.45">NMP100_1</text>
<line x1="954.4" y1="771.2" x2="1013.3" y2="771.2" stroke="#2020ff" stroke-width="3"/>
<text x="1020.3" y="780.4" font-size="25.6" text-anchor="start" font-family='"Liberation Sans", Arial, sans-serif' fill="#000"  stroke="#000" stroke-width="0.45">NMP100_2</text>
<line x1="954.4" y1="803" x2="1013.3" y2="803" stroke="#2020ff" stroke-width="3" stroke-dasharray="12.3,12.7"/>
<text x="1020.3" y="812.2" font-size="25.6" text-anchor="start" font-family='"Liberation Sans", Arial, sans-serif' fill="#000"  stroke="#000" stroke-width="0.45">NMP100_3</text>
</svg>
</body></html>
